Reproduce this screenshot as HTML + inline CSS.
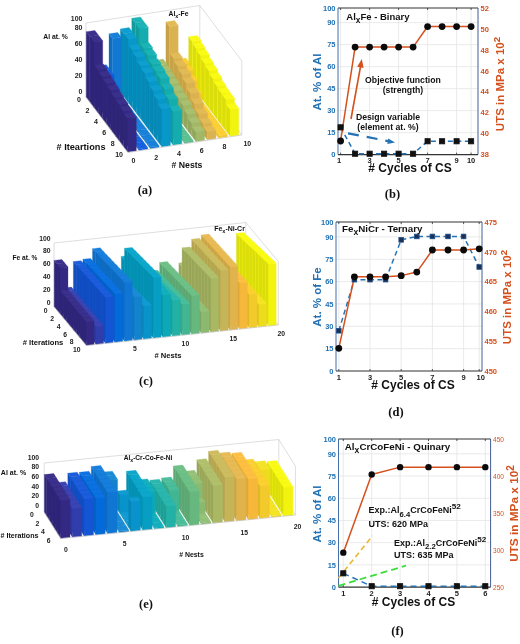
<!DOCTYPE html>
<html><head><meta charset="utf-8"><title>Figure</title>
<style>html,body{margin:0;padding:0;background:#fff}svg{display:block}</style></head>
<body>
<svg width="520" height="644" viewBox="0 0 520 644">
<rect width="520" height="644" fill="#ffffff"/>
<line x1="86" y1="97" x2="86" y2="23" stroke="#c8c8c8" stroke-width="0.6"/>
<line x1="86" y1="23" x2="199.8" y2="5.5" stroke="#c8c8c8" stroke-width="0.6"/>
<line x1="199.8" y1="5.5" x2="241.8" y2="61" stroke="#c8c8c8" stroke-width="0.6"/>
<line x1="199.8" y1="79.5" x2="199.8" y2="5.5" stroke="#c8c8c8" stroke-width="0.6"/>
<line x1="86" y1="97" x2="199.8" y2="79.5" stroke="#c8c8c8" stroke-width="0.6"/>
<line x1="199.8" y1="79.5" x2="241.8" y2="135" stroke="#c8c8c8" stroke-width="0.6"/>
<polygon points="188.67,81.58 192.28,86.36 192.28,41.56 188.67,36.78" fill="#dbdd0c" stroke="#dbdd0c" stroke-width="0.3"/>
<polygon points="192.28,86.36 200.93,85.03 200.93,40.23 192.28,41.56" fill="#f2f30e" stroke="#f2f30e" stroke-width="0.3"/>
<polygon points="188.67,36.78 197.32,35.45 200.93,40.23 192.28,41.56" fill="#f9fb15" stroke="#f9fb15" stroke-width="0.3"/>
<polygon points="192.87,87.13 196.48,91.91 196.48,48.71 192.87,43.93" fill="#dbdd0c" stroke="#dbdd0c" stroke-width="0.3"/>
<polygon points="196.48,91.91 205.13,90.58 205.13,47.38 196.48,48.71" fill="#f2f30e" stroke="#f2f30e" stroke-width="0.3"/>
<polygon points="192.87,43.93 201.52,42.6 205.13,47.38 196.48,48.71" fill="#f9fb15" stroke="#f9fb15" stroke-width="0.3"/>
<polygon points="197.07,92.68 200.68,97.46 200.68,55.86 197.07,51.08" fill="#dbdd0c" stroke="#dbdd0c" stroke-width="0.3"/>
<polygon points="200.68,97.46 209.33,96.13 209.33,54.53 200.68,55.86" fill="#f2f30e" stroke="#f2f30e" stroke-width="0.3"/>
<polygon points="197.07,51.08 205.72,49.75 209.33,54.53 200.68,55.86" fill="#f9fb15" stroke="#f9fb15" stroke-width="0.3"/>
<polygon points="201.27,98.23 204.88,103.01 204.88,63.81 201.27,59.03" fill="#dbdd0c" stroke="#dbdd0c" stroke-width="0.3"/>
<polygon points="204.88,103.01 213.53,101.68 213.53,62.48 204.88,63.81" fill="#f2f30e" stroke="#f2f30e" stroke-width="0.3"/>
<polygon points="201.27,59.03 209.92,57.7 213.53,62.48 204.88,63.81" fill="#f9fb15" stroke="#f9fb15" stroke-width="0.3"/>
<polygon points="205.47,103.78 209.08,108.56 209.08,70.96 205.47,66.18" fill="#dbdd0c" stroke="#dbdd0c" stroke-width="0.3"/>
<polygon points="209.08,108.56 217.73,107.23 217.73,69.63 209.08,70.96" fill="#f2f30e" stroke="#f2f30e" stroke-width="0.3"/>
<polygon points="205.47,66.18 214.12,64.85 217.73,69.63 209.08,70.96" fill="#f9fb15" stroke="#f9fb15" stroke-width="0.3"/>
<polygon points="209.67,109.33 213.28,114.11 213.28,78.91 209.67,74.13" fill="#dbdd0c" stroke="#dbdd0c" stroke-width="0.3"/>
<polygon points="213.28,114.11 221.93,112.78 221.93,77.58 213.28,78.91" fill="#f2f30e" stroke="#f2f30e" stroke-width="0.3"/>
<polygon points="209.67,74.13 218.32,72.8 221.93,77.58 213.28,78.91" fill="#f9fb15" stroke="#f9fb15" stroke-width="0.3"/>
<polygon points="213.87,114.88 217.48,119.66 217.48,86.86 213.87,82.08" fill="#dbdd0c" stroke="#dbdd0c" stroke-width="0.3"/>
<polygon points="217.48,119.66 226.13,118.33 226.13,85.53 217.48,86.86" fill="#f2f30e" stroke="#f2f30e" stroke-width="0.3"/>
<polygon points="213.87,82.08 222.52,80.75 226.13,85.53 217.48,86.86" fill="#f9fb15" stroke="#f9fb15" stroke-width="0.3"/>
<polygon points="218.07,120.43 221.68,125.21 221.68,93.61 218.07,88.83" fill="#dbdd0c" stroke="#dbdd0c" stroke-width="0.3"/>
<polygon points="221.68,125.21 230.33,123.88 230.33,92.28 221.68,93.61" fill="#f2f30e" stroke="#f2f30e" stroke-width="0.3"/>
<polygon points="218.07,88.83 226.72,87.5 230.33,92.28 221.68,93.61" fill="#f9fb15" stroke="#f9fb15" stroke-width="0.3"/>
<polygon points="222.27,125.98 225.88,130.76 225.88,99.56 222.27,94.78" fill="#dbdd0c" stroke="#dbdd0c" stroke-width="0.3"/>
<polygon points="225.88,130.76 234.53,129.43 234.53,98.23 225.88,99.56" fill="#f2f30e" stroke="#f2f30e" stroke-width="0.3"/>
<polygon points="222.27,94.78 230.92,93.45 234.53,98.23 225.88,99.56" fill="#f9fb15" stroke="#f9fb15" stroke-width="0.3"/>
<polygon points="226.47,131.53 230.08,136.31 230.08,109.51 226.47,104.73" fill="#dbdd0c" stroke="#dbdd0c" stroke-width="0.3"/>
<polygon points="230.08,136.31 238.73,134.98 238.73,108.18 230.08,109.51" fill="#f2f30e" stroke="#f2f30e" stroke-width="0.3"/>
<polygon points="226.47,104.73 235.12,103.4 238.73,108.18 230.08,109.51" fill="#f9fb15" stroke="#f9fb15" stroke-width="0.3"/>
<polygon points="177.29,83.33 180.9,88.11 180.9,64.11 177.29,59.33" fill="#deb528" stroke="#deb528" stroke-width="0.3"/>
<polygon points="180.9,88.11 189.55,86.78 189.55,62.78 180.9,64.11" fill="#f4c82d" stroke="#f4c82d" stroke-width="0.3"/>
<polygon points="177.29,59.33 185.94,58 189.55,62.78 180.9,64.11" fill="#fccf34" stroke="#fccf34" stroke-width="0.3"/>
<polygon points="181.49,88.88 185.1,93.66 185.1,71.26 181.49,66.48" fill="#deb528" stroke="#deb528" stroke-width="0.3"/>
<polygon points="185.1,93.66 193.75,92.33 193.75,69.93 185.1,71.26" fill="#f4c82d" stroke="#f4c82d" stroke-width="0.3"/>
<polygon points="181.49,66.48 190.14,65.15 193.75,69.93 185.1,71.26" fill="#fccf34" stroke="#fccf34" stroke-width="0.3"/>
<polygon points="185.69,94.43 189.3,99.21 189.3,81.61 185.69,76.83" fill="#deb528" stroke="#deb528" stroke-width="0.3"/>
<polygon points="189.3,99.21 197.95,97.88 197.95,80.28 189.3,81.61" fill="#f4c82d" stroke="#f4c82d" stroke-width="0.3"/>
<polygon points="185.69,76.83 194.34,75.5 197.95,80.28 189.3,81.61" fill="#fccf34" stroke="#fccf34" stroke-width="0.3"/>
<polygon points="189.89,99.98 193.5,104.76 193.5,95.16 189.89,90.38" fill="#deb528" stroke="#deb528" stroke-width="0.3"/>
<polygon points="193.5,104.76 202.15,103.43 202.15,93.83 193.5,95.16" fill="#f4c82d" stroke="#f4c82d" stroke-width="0.3"/>
<polygon points="189.89,90.38 198.54,89.05 202.15,93.83 193.5,95.16" fill="#fccf34" stroke="#fccf34" stroke-width="0.3"/>
<polygon points="194.09,105.53 197.7,110.31 197.7,107.91 194.09,103.13" fill="#deb528" stroke="#deb528" stroke-width="0.3"/>
<polygon points="197.7,110.31 206.35,108.98 206.35,106.58 197.7,107.91" fill="#f4c82d" stroke="#f4c82d" stroke-width="0.3"/>
<polygon points="194.09,103.13 202.74,101.8 206.35,106.58 197.7,107.91" fill="#fccf34" stroke="#fccf34" stroke-width="0.3"/>
<polygon points="198.29,111.08 201.9,115.86 201.9,113.46 198.29,108.68" fill="#deb528" stroke="#deb528" stroke-width="0.3"/>
<polygon points="201.9,115.86 210.55,114.53 210.55,112.13 201.9,113.46" fill="#f4c82d" stroke="#f4c82d" stroke-width="0.3"/>
<polygon points="198.29,108.68 206.94,107.35 210.55,112.13 201.9,113.46" fill="#fccf34" stroke="#fccf34" stroke-width="0.3"/>
<polygon points="202.49,116.63 206.1,121.41 206.1,119.01 202.49,114.23" fill="#deb528" stroke="#deb528" stroke-width="0.3"/>
<polygon points="206.1,121.41 214.75,120.08 214.75,117.68 206.1,119.01" fill="#f4c82d" stroke="#f4c82d" stroke-width="0.3"/>
<polygon points="202.49,114.23 211.14,112.9 214.75,117.68 206.1,119.01" fill="#fccf34" stroke="#fccf34" stroke-width="0.3"/>
<polygon points="206.69,122.18 210.3,126.96 210.3,124.56 206.69,119.78" fill="#deb528" stroke="#deb528" stroke-width="0.3"/>
<polygon points="210.3,126.96 218.95,125.63 218.95,123.23 210.3,124.56" fill="#f4c82d" stroke="#f4c82d" stroke-width="0.3"/>
<polygon points="206.69,119.78 215.34,118.45 218.95,123.23 210.3,124.56" fill="#fccf34" stroke="#fccf34" stroke-width="0.3"/>
<polygon points="210.89,127.73 214.5,132.51 214.5,130.11 210.89,125.33" fill="#deb528" stroke="#deb528" stroke-width="0.3"/>
<polygon points="214.5,132.51 223.15,131.18 223.15,128.78 214.5,130.11" fill="#f4c82d" stroke="#f4c82d" stroke-width="0.3"/>
<polygon points="210.89,125.33 219.54,124 223.15,128.78 214.5,130.11" fill="#fccf34" stroke="#fccf34" stroke-width="0.3"/>
<polygon points="215.09,133.28 218.7,138.06 218.7,135.66 215.09,130.88" fill="#deb528" stroke="#deb528" stroke-width="0.3"/>
<polygon points="218.7,138.06 227.35,136.73 227.35,134.33 218.7,135.66" fill="#f4c82d" stroke="#f4c82d" stroke-width="0.3"/>
<polygon points="215.09,130.88 223.74,129.55 227.35,134.33 218.7,135.66" fill="#fccf34" stroke="#fccf34" stroke-width="0.3"/>
<polygon points="165.91,85.08 169.52,89.86 169.52,26.66 165.91,21.88" fill="#c6a348" stroke="#c6a348" stroke-width="0.3"/>
<polygon points="169.52,89.86 178.17,88.53 178.17,25.33 169.52,26.66" fill="#dab350" stroke="#dab350" stroke-width="0.3"/>
<polygon points="165.91,21.88 174.56,20.55 178.17,25.33 169.52,26.66" fill="#e2bb57" stroke="#e2bb57" stroke-width="0.3"/>
<polygon points="170.11,90.63 173.72,95.41 173.72,58.61 170.11,53.83" fill="#c6a348" stroke="#c6a348" stroke-width="0.3"/>
<polygon points="173.72,95.41 182.37,94.08 182.37,57.28 173.72,58.61" fill="#dab350" stroke="#dab350" stroke-width="0.3"/>
<polygon points="170.11,53.83 178.76,52.5 182.37,57.28 173.72,58.61" fill="#e2bb57" stroke="#e2bb57" stroke-width="0.3"/>
<polygon points="174.31,96.18 177.92,100.96 177.92,66.56 174.31,61.78" fill="#c6a348" stroke="#c6a348" stroke-width="0.3"/>
<polygon points="177.92,100.96 186.57,99.63 186.57,65.23 177.92,66.56" fill="#dab350" stroke="#dab350" stroke-width="0.3"/>
<polygon points="174.31,61.78 182.96,60.45 186.57,65.23 177.92,66.56" fill="#e2bb57" stroke="#e2bb57" stroke-width="0.3"/>
<polygon points="178.51,101.73 182.12,106.51 182.12,74.51 178.51,69.73" fill="#c6a348" stroke="#c6a348" stroke-width="0.3"/>
<polygon points="182.12,106.51 190.77,105.18 190.77,73.18 182.12,74.51" fill="#dab350" stroke="#dab350" stroke-width="0.3"/>
<polygon points="178.51,69.73 187.16,68.4 190.77,73.18 182.12,74.51" fill="#e2bb57" stroke="#e2bb57" stroke-width="0.3"/>
<polygon points="182.71,107.28 186.32,112.06 186.32,83.26 182.71,78.48" fill="#c6a348" stroke="#c6a348" stroke-width="0.3"/>
<polygon points="186.32,112.06 194.97,110.73 194.97,81.93 186.32,83.26" fill="#dab350" stroke="#dab350" stroke-width="0.3"/>
<polygon points="182.71,78.48 191.36,77.15 194.97,81.93 186.32,83.26" fill="#e2bb57" stroke="#e2bb57" stroke-width="0.3"/>
<polygon points="186.91,112.83 190.52,117.61 190.52,93.61 186.91,88.83" fill="#c6a348" stroke="#c6a348" stroke-width="0.3"/>
<polygon points="190.52,117.61 199.17,116.28 199.17,92.28 190.52,93.61" fill="#dab350" stroke="#dab350" stroke-width="0.3"/>
<polygon points="186.91,88.83 195.56,87.5 199.17,92.28 190.52,93.61" fill="#e2bb57" stroke="#e2bb57" stroke-width="0.3"/>
<polygon points="191.11,118.38 194.72,123.16 194.72,103.96 191.11,99.18" fill="#c6a348" stroke="#c6a348" stroke-width="0.3"/>
<polygon points="194.72,123.16 203.37,121.83 203.37,102.63 194.72,103.96" fill="#dab350" stroke="#dab350" stroke-width="0.3"/>
<polygon points="191.11,99.18 199.76,97.85 203.37,102.63 194.72,103.96" fill="#e2bb57" stroke="#e2bb57" stroke-width="0.3"/>
<polygon points="195.31,123.93 198.92,128.71 198.92,114.31 195.31,109.53" fill="#c6a348" stroke="#c6a348" stroke-width="0.3"/>
<polygon points="198.92,128.71 207.57,127.38 207.57,112.98 198.92,114.31" fill="#dab350" stroke="#dab350" stroke-width="0.3"/>
<polygon points="195.31,109.53 203.96,108.2 207.57,112.98 198.92,114.31" fill="#e2bb57" stroke="#e2bb57" stroke-width="0.3"/>
<polygon points="199.51,129.48 203.12,134.26 203.12,123.86 199.51,119.08" fill="#c6a348" stroke="#c6a348" stroke-width="0.3"/>
<polygon points="203.12,134.26 211.77,132.93 211.77,122.53 203.12,123.86" fill="#dab350" stroke="#dab350" stroke-width="0.3"/>
<polygon points="199.51,119.08 208.16,117.75 211.77,122.53 203.12,123.86" fill="#e2bb57" stroke="#e2bb57" stroke-width="0.3"/>
<polygon points="203.71,135.03 207.32,139.81 207.32,131.81 203.71,127.03" fill="#c6a348" stroke="#c6a348" stroke-width="0.3"/>
<polygon points="207.32,139.81 215.97,138.48 215.97,130.48 207.32,131.81" fill="#dab350" stroke="#dab350" stroke-width="0.3"/>
<polygon points="203.71,127.03 212.36,125.7 215.97,130.48 207.32,131.81" fill="#e2bb57" stroke="#e2bb57" stroke-width="0.3"/>
<polygon points="154.53,86.83 158.14,91.61 158.14,65.21 154.53,60.43" fill="#91a75e" stroke="#91a75e" stroke-width="0.3"/>
<polygon points="158.14,91.61 166.79,90.28 166.79,63.88 158.14,65.21" fill="#a0b868" stroke="#a0b868" stroke-width="0.3"/>
<polygon points="154.53,60.43 163.18,59.1 166.79,63.88 158.14,65.21" fill="#a8c06f" stroke="#a8c06f" stroke-width="0.3"/>
<polygon points="158.73,92.38 162.34,97.16 162.34,71.56 158.73,66.78" fill="#91a75e" stroke="#91a75e" stroke-width="0.3"/>
<polygon points="162.34,97.16 170.99,95.83 170.99,70.23 162.34,71.56" fill="#a0b868" stroke="#a0b868" stroke-width="0.3"/>
<polygon points="158.73,66.78 167.38,65.45 170.99,70.23 162.34,71.56" fill="#a8c06f" stroke="#a8c06f" stroke-width="0.3"/>
<polygon points="162.93,97.93 166.54,102.71 166.54,77.91 162.93,73.13" fill="#91a75e" stroke="#91a75e" stroke-width="0.3"/>
<polygon points="166.54,102.71 175.19,101.38 175.19,76.58 166.54,77.91" fill="#a0b868" stroke="#a0b868" stroke-width="0.3"/>
<polygon points="162.93,73.13 171.58,71.8 175.19,76.58 166.54,77.91" fill="#a8c06f" stroke="#a8c06f" stroke-width="0.3"/>
<polygon points="167.13,103.48 170.74,108.26 170.74,84.26 167.13,79.48" fill="#91a75e" stroke="#91a75e" stroke-width="0.3"/>
<polygon points="170.74,108.26 179.39,106.93 179.39,82.93 170.74,84.26" fill="#a0b868" stroke="#a0b868" stroke-width="0.3"/>
<polygon points="167.13,79.48 175.78,78.15 179.39,82.93 170.74,84.26" fill="#a8c06f" stroke="#a8c06f" stroke-width="0.3"/>
<polygon points="171.33,109.03 174.94,113.81 174.94,91.41 171.33,86.63" fill="#91a75e" stroke="#91a75e" stroke-width="0.3"/>
<polygon points="174.94,113.81 183.59,112.48 183.59,90.08 174.94,91.41" fill="#a0b868" stroke="#a0b868" stroke-width="0.3"/>
<polygon points="171.33,86.63 179.98,85.3 183.59,90.08 174.94,91.41" fill="#a8c06f" stroke="#a8c06f" stroke-width="0.3"/>
<polygon points="175.53,114.58 179.14,119.36 179.14,98.56 175.53,93.78" fill="#91a75e" stroke="#91a75e" stroke-width="0.3"/>
<polygon points="179.14,119.36 187.79,118.03 187.79,97.23 179.14,98.56" fill="#a0b868" stroke="#a0b868" stroke-width="0.3"/>
<polygon points="175.53,93.78 184.18,92.45 187.79,97.23 179.14,98.56" fill="#a8c06f" stroke="#a8c06f" stroke-width="0.3"/>
<polygon points="179.73,120.13 183.34,124.91 183.34,105.71 179.73,100.93" fill="#91a75e" stroke="#91a75e" stroke-width="0.3"/>
<polygon points="183.34,124.91 191.99,123.58 191.99,104.38 183.34,105.71" fill="#a0b868" stroke="#a0b868" stroke-width="0.3"/>
<polygon points="179.73,100.93 188.38,99.6 191.99,104.38 183.34,105.71" fill="#a8c06f" stroke="#a8c06f" stroke-width="0.3"/>
<polygon points="183.93,125.68 187.54,130.46 187.54,114.46 183.93,109.68" fill="#91a75e" stroke="#91a75e" stroke-width="0.3"/>
<polygon points="187.54,130.46 196.19,129.13 196.19,113.13 187.54,114.46" fill="#a0b868" stroke="#a0b868" stroke-width="0.3"/>
<polygon points="183.93,109.68 192.58,108.35 196.19,113.13 187.54,114.46" fill="#a8c06f" stroke="#a8c06f" stroke-width="0.3"/>
<polygon points="188.13,131.23 191.74,136.01 191.74,123.21 188.13,118.43" fill="#91a75e" stroke="#91a75e" stroke-width="0.3"/>
<polygon points="191.74,136.01 200.39,134.68 200.39,121.88 191.74,123.21" fill="#a0b868" stroke="#a0b868" stroke-width="0.3"/>
<polygon points="188.13,118.43 196.78,117.1 200.39,121.88 191.74,123.21" fill="#a8c06f" stroke="#a8c06f" stroke-width="0.3"/>
<polygon points="192.33,136.78 195.94,141.56 195.94,131.96 192.33,127.18" fill="#91a75e" stroke="#91a75e" stroke-width="0.3"/>
<polygon points="195.94,141.56 204.59,140.23 204.59,130.63 195.94,131.96" fill="#a0b868" stroke="#a0b868" stroke-width="0.3"/>
<polygon points="192.33,127.18 200.98,125.85 204.59,130.63 195.94,131.96" fill="#a8c06f" stroke="#a8c06f" stroke-width="0.3"/>
<polygon points="143.15,88.58 146.76,93.36 146.76,69.36 143.15,64.58" fill="#4ea67b" stroke="#4ea67b" stroke-width="0.3"/>
<polygon points="146.76,93.36 155.41,92.03 155.41,68.03 146.76,69.36" fill="#56b788" stroke="#56b788" stroke-width="0.3"/>
<polygon points="143.15,64.58 151.8,63.25 155.41,68.03 146.76,69.36" fill="#5ebf8f" stroke="#5ebf8f" stroke-width="0.3"/>
<polygon points="147.35,94.13 150.96,98.91 150.96,74.91 147.35,70.13" fill="#4ea67b" stroke="#4ea67b" stroke-width="0.3"/>
<polygon points="150.96,98.91 159.61,97.58 159.61,73.58 150.96,74.91" fill="#56b788" stroke="#56b788" stroke-width="0.3"/>
<polygon points="147.35,70.13 156,68.8 159.61,73.58 150.96,74.91" fill="#5ebf8f" stroke="#5ebf8f" stroke-width="0.3"/>
<polygon points="151.55,99.68 155.16,104.46 155.16,80.46 151.55,75.68" fill="#4ea67b" stroke="#4ea67b" stroke-width="0.3"/>
<polygon points="155.16,104.46 163.81,103.13 163.81,79.13 155.16,80.46" fill="#56b788" stroke="#56b788" stroke-width="0.3"/>
<polygon points="151.55,75.68 160.2,74.35 163.81,79.13 155.16,80.46" fill="#5ebf8f" stroke="#5ebf8f" stroke-width="0.3"/>
<polygon points="155.75,105.23 159.36,110.01 159.36,86.01 155.75,81.23" fill="#4ea67b" stroke="#4ea67b" stroke-width="0.3"/>
<polygon points="159.36,110.01 168.01,108.68 168.01,84.68 159.36,86.01" fill="#56b788" stroke="#56b788" stroke-width="0.3"/>
<polygon points="155.75,81.23 164.4,79.9 168.01,84.68 159.36,86.01" fill="#5ebf8f" stroke="#5ebf8f" stroke-width="0.3"/>
<polygon points="159.95,110.78 163.56,115.56 163.56,95.56 159.95,90.78" fill="#4ea67b" stroke="#4ea67b" stroke-width="0.3"/>
<polygon points="163.56,115.56 172.21,114.23 172.21,94.23 163.56,95.56" fill="#56b788" stroke="#56b788" stroke-width="0.3"/>
<polygon points="159.95,90.78 168.6,89.45 172.21,94.23 163.56,95.56" fill="#5ebf8f" stroke="#5ebf8f" stroke-width="0.3"/>
<polygon points="164.15,116.33 167.76,121.11 167.76,105.11 164.15,100.33" fill="#4ea67b" stroke="#4ea67b" stroke-width="0.3"/>
<polygon points="167.76,121.11 176.41,119.78 176.41,103.78 167.76,105.11" fill="#56b788" stroke="#56b788" stroke-width="0.3"/>
<polygon points="164.15,100.33 172.8,99 176.41,103.78 167.76,105.11" fill="#5ebf8f" stroke="#5ebf8f" stroke-width="0.3"/>
<polygon points="168.35,121.88 171.96,126.66 171.96,118.66 168.35,113.88" fill="#4ea67b" stroke="#4ea67b" stroke-width="0.3"/>
<polygon points="171.96,126.66 180.61,125.33 180.61,117.33 171.96,118.66" fill="#56b788" stroke="#56b788" stroke-width="0.3"/>
<polygon points="168.35,113.88 177,112.55 180.61,117.33 171.96,118.66" fill="#5ebf8f" stroke="#5ebf8f" stroke-width="0.3"/>
<polygon points="172.55,127.43 176.16,132.21 176.16,130.61 172.55,125.83" fill="#4ea67b" stroke="#4ea67b" stroke-width="0.3"/>
<polygon points="176.16,132.21 184.81,130.88 184.81,129.28 176.16,130.61" fill="#56b788" stroke="#56b788" stroke-width="0.3"/>
<polygon points="172.55,125.83 181.2,124.5 184.81,129.28 176.16,130.61" fill="#5ebf8f" stroke="#5ebf8f" stroke-width="0.3"/>
<polygon points="176.75,132.98 180.36,137.76 180.36,136.16 176.75,131.38" fill="#4ea67b" stroke="#4ea67b" stroke-width="0.3"/>
<polygon points="180.36,137.76 189.01,136.43 189.01,134.83 180.36,136.16" fill="#56b788" stroke="#56b788" stroke-width="0.3"/>
<polygon points="176.75,131.38 185.4,130.05 189.01,134.83 180.36,136.16" fill="#5ebf8f" stroke="#5ebf8f" stroke-width="0.3"/>
<polygon points="180.95,138.53 184.56,143.31 184.56,141.71 180.95,136.93" fill="#4ea67b" stroke="#4ea67b" stroke-width="0.3"/>
<polygon points="184.56,143.31 193.21,141.98 193.21,140.38 184.56,141.71" fill="#56b788" stroke="#56b788" stroke-width="0.3"/>
<polygon points="180.95,136.93 189.6,135.6 193.21,140.38 184.56,141.71" fill="#5ebf8f" stroke="#5ebf8f" stroke-width="0.3"/>
<polygon points="131.77,90.33 135.38,95.11 135.38,23.11 131.77,18.33" fill="#129c9e" stroke="#129c9e" stroke-width="0.3"/>
<polygon points="135.38,95.11 144.03,93.78 144.03,21.78 135.38,23.11" fill="#14acaf" stroke="#14acaf" stroke-width="0.3"/>
<polygon points="131.77,18.33 140.42,17 144.03,21.78 135.38,23.11" fill="#1cb3b6" stroke="#1cb3b6" stroke-width="0.3"/>
<polygon points="135.97,95.88 139.58,100.66 139.58,28.66 135.97,23.88" fill="#129c9e" stroke="#129c9e" stroke-width="0.3"/>
<polygon points="139.58,100.66 148.23,99.33 148.23,27.33 139.58,28.66" fill="#14acaf" stroke="#14acaf" stroke-width="0.3"/>
<polygon points="135.97,23.88 144.62,22.55 148.23,27.33 139.58,28.66" fill="#1cb3b6" stroke="#1cb3b6" stroke-width="0.3"/>
<polygon points="140.17,101.43 143.78,106.21 143.78,48.61 140.17,43.83" fill="#129c9e" stroke="#129c9e" stroke-width="0.3"/>
<polygon points="143.78,106.21 152.43,104.88 152.43,47.28 143.78,48.61" fill="#14acaf" stroke="#14acaf" stroke-width="0.3"/>
<polygon points="140.17,43.83 148.82,42.5 152.43,47.28 143.78,48.61" fill="#1cb3b6" stroke="#1cb3b6" stroke-width="0.3"/>
<polygon points="144.37,106.98 147.98,111.76 147.98,55.76 144.37,50.98" fill="#129c9e" stroke="#129c9e" stroke-width="0.3"/>
<polygon points="147.98,111.76 156.63,110.43 156.63,54.43 147.98,55.76" fill="#14acaf" stroke="#14acaf" stroke-width="0.3"/>
<polygon points="144.37,50.98 153.02,49.65 156.63,54.43 147.98,55.76" fill="#1cb3b6" stroke="#1cb3b6" stroke-width="0.3"/>
<polygon points="148.57,112.53 152.18,117.31 152.18,64.51 148.57,59.73" fill="#129c9e" stroke="#129c9e" stroke-width="0.3"/>
<polygon points="152.18,117.31 160.83,115.98 160.83,63.18 152.18,64.51" fill="#14acaf" stroke="#14acaf" stroke-width="0.3"/>
<polygon points="148.57,59.73 157.22,58.4 160.83,63.18 152.18,64.51" fill="#1cb3b6" stroke="#1cb3b6" stroke-width="0.3"/>
<polygon points="152.77,118.08 156.38,122.86 156.38,71.66 152.77,66.88" fill="#129c9e" stroke="#129c9e" stroke-width="0.3"/>
<polygon points="156.38,122.86 165.03,121.53 165.03,70.33 156.38,71.66" fill="#14acaf" stroke="#14acaf" stroke-width="0.3"/>
<polygon points="152.77,66.88 161.42,65.55 165.03,70.33 156.38,71.66" fill="#1cb3b6" stroke="#1cb3b6" stroke-width="0.3"/>
<polygon points="156.97,123.63 160.58,128.41 160.58,78.81 156.97,74.03" fill="#129c9e" stroke="#129c9e" stroke-width="0.3"/>
<polygon points="160.58,128.41 169.23,127.08 169.23,77.48 160.58,78.81" fill="#14acaf" stroke="#14acaf" stroke-width="0.3"/>
<polygon points="156.97,74.03 165.62,72.7 169.23,77.48 160.58,78.81" fill="#1cb3b6" stroke="#1cb3b6" stroke-width="0.3"/>
<polygon points="161.17,129.18 164.78,133.96 164.78,89.16 161.17,84.38" fill="#129c9e" stroke="#129c9e" stroke-width="0.3"/>
<polygon points="164.78,133.96 173.43,132.63 173.43,87.83 164.78,89.16" fill="#14acaf" stroke="#14acaf" stroke-width="0.3"/>
<polygon points="161.17,84.38 169.82,83.05 173.43,87.83 164.78,89.16" fill="#1cb3b6" stroke="#1cb3b6" stroke-width="0.3"/>
<polygon points="165.37,134.73 168.98,139.51 168.98,99.51 165.37,94.73" fill="#129c9e" stroke="#129c9e" stroke-width="0.3"/>
<polygon points="168.98,139.51 177.63,138.18 177.63,98.18 168.98,99.51" fill="#14acaf" stroke="#14acaf" stroke-width="0.3"/>
<polygon points="165.37,94.73 174.02,93.4 177.63,98.18 168.98,99.51" fill="#1cb3b6" stroke="#1cb3b6" stroke-width="0.3"/>
<polygon points="169.57,140.28 173.18,145.06 173.18,111.46 169.57,106.68" fill="#129c9e" stroke="#129c9e" stroke-width="0.3"/>
<polygon points="173.18,145.06 181.83,143.73 181.83,110.13 173.18,111.46" fill="#14acaf" stroke="#14acaf" stroke-width="0.3"/>
<polygon points="169.57,106.68 178.22,105.35 181.83,110.13 173.18,111.46" fill="#1cb3b6" stroke="#1cb3b6" stroke-width="0.3"/>
<polygon points="120.39,92.08 124,96.86 124,33.66 120.39,28.88" fill="#0689b6" stroke="#0689b6" stroke-width="0.3"/>
<polygon points="124,96.86 132.65,95.53 132.65,32.33 124,33.66" fill="#0797c9" stroke="#0797c9" stroke-width="0.3"/>
<polygon points="120.39,28.88 129.04,27.55 132.65,32.33 124,33.66" fill="#0e9fd0" stroke="#0e9fd0" stroke-width="0.3"/>
<polygon points="124.59,97.63 128.2,102.41 128.2,39.21 124.59,34.43" fill="#0689b6" stroke="#0689b6" stroke-width="0.3"/>
<polygon points="128.2,102.41 136.85,101.08 136.85,37.88 128.2,39.21" fill="#0797c9" stroke="#0797c9" stroke-width="0.3"/>
<polygon points="124.59,34.43 133.24,33.1 136.85,37.88 128.2,39.21" fill="#0e9fd0" stroke="#0e9fd0" stroke-width="0.3"/>
<polygon points="128.79,103.18 132.4,107.96 132.4,50.36 128.79,45.58" fill="#0689b6" stroke="#0689b6" stroke-width="0.3"/>
<polygon points="132.4,107.96 141.05,106.63 141.05,49.03 132.4,50.36" fill="#0797c9" stroke="#0797c9" stroke-width="0.3"/>
<polygon points="128.79,45.58 137.44,44.25 141.05,49.03 132.4,50.36" fill="#0e9fd0" stroke="#0e9fd0" stroke-width="0.3"/>
<polygon points="132.99,108.73 136.6,113.51 136.6,57.51 132.99,52.73" fill="#0689b6" stroke="#0689b6" stroke-width="0.3"/>
<polygon points="136.6,113.51 145.25,112.18 145.25,56.18 136.6,57.51" fill="#0797c9" stroke="#0797c9" stroke-width="0.3"/>
<polygon points="132.99,52.73 141.64,51.4 145.25,56.18 136.6,57.51" fill="#0e9fd0" stroke="#0e9fd0" stroke-width="0.3"/>
<polygon points="137.19,114.28 140.8,119.06 140.8,66.26 137.19,61.48" fill="#0689b6" stroke="#0689b6" stroke-width="0.3"/>
<polygon points="140.8,119.06 149.45,117.73 149.45,64.93 140.8,66.26" fill="#0797c9" stroke="#0797c9" stroke-width="0.3"/>
<polygon points="137.19,61.48 145.84,60.15 149.45,64.93 140.8,66.26" fill="#0e9fd0" stroke="#0e9fd0" stroke-width="0.3"/>
<polygon points="141.39,119.83 145,124.61 145,73.41 141.39,68.63" fill="#0689b6" stroke="#0689b6" stroke-width="0.3"/>
<polygon points="145,124.61 153.65,123.28 153.65,72.08 145,73.41" fill="#0797c9" stroke="#0797c9" stroke-width="0.3"/>
<polygon points="141.39,68.63 150.04,67.3 153.65,72.08 145,73.41" fill="#0e9fd0" stroke="#0e9fd0" stroke-width="0.3"/>
<polygon points="145.59,125.38 149.2,130.16 149.2,82.16 145.59,77.38" fill="#0689b6" stroke="#0689b6" stroke-width="0.3"/>
<polygon points="149.2,130.16 157.85,128.83 157.85,80.83 149.2,82.16" fill="#0797c9" stroke="#0797c9" stroke-width="0.3"/>
<polygon points="145.59,77.38 154.24,76.05 157.85,80.83 149.2,82.16" fill="#0e9fd0" stroke="#0e9fd0" stroke-width="0.3"/>
<polygon points="149.79,130.93 153.4,135.71 153.4,90.91 149.79,86.13" fill="#0689b6" stroke="#0689b6" stroke-width="0.3"/>
<polygon points="153.4,135.71 162.05,134.38 162.05,89.58 153.4,90.91" fill="#0797c9" stroke="#0797c9" stroke-width="0.3"/>
<polygon points="149.79,86.13 158.44,84.8 162.05,89.58 153.4,90.91" fill="#0e9fd0" stroke="#0e9fd0" stroke-width="0.3"/>
<polygon points="153.99,136.48 157.6,141.26 157.6,99.66 153.99,94.88" fill="#0689b6" stroke="#0689b6" stroke-width="0.3"/>
<polygon points="157.6,141.26 166.25,139.93 166.25,98.33 157.6,99.66" fill="#0797c9" stroke="#0797c9" stroke-width="0.3"/>
<polygon points="153.99,94.88 162.64,93.55 166.25,98.33 157.6,99.66" fill="#0e9fd0" stroke="#0e9fd0" stroke-width="0.3"/>
<polygon points="158.19,142.03 161.8,146.81 161.8,109.21 158.19,104.43" fill="#0689b6" stroke="#0689b6" stroke-width="0.3"/>
<polygon points="161.8,146.81 170.45,145.48 170.45,107.88 161.8,109.21" fill="#0797c9" stroke="#0797c9" stroke-width="0.3"/>
<polygon points="158.19,104.43 166.84,103.1 170.45,107.88 161.8,109.21" fill="#0e9fd0" stroke="#0e9fd0" stroke-width="0.3"/>
<polygon points="109.01,93.83 112.62,98.61 112.62,38.61 109.01,33.83" fill="#106ebe" stroke="#106ebe" stroke-width="0.3"/>
<polygon points="112.62,98.61 121.27,97.28 121.27,37.28 112.62,38.61" fill="#1179d2" stroke="#1179d2" stroke-width="0.3"/>
<polygon points="109.01,33.83 117.66,32.5 121.27,37.28 112.62,38.61" fill="#1981d9" stroke="#1981d9" stroke-width="0.3"/>
<polygon points="113.21,99.38 116.82,104.16 116.82,101.76 113.21,96.98" fill="#106ebe" stroke="#106ebe" stroke-width="0.3"/>
<polygon points="116.82,104.16 125.47,102.83 125.47,100.43 116.82,101.76" fill="#1179d2" stroke="#1179d2" stroke-width="0.3"/>
<polygon points="113.21,96.98 121.86,95.65 125.47,100.43 116.82,101.76" fill="#1981d9" stroke="#1981d9" stroke-width="0.3"/>
<polygon points="117.41,104.93 121.02,109.71 121.02,108.11 117.41,103.33" fill="#106ebe" stroke="#106ebe" stroke-width="0.3"/>
<polygon points="121.02,109.71 129.67,108.38 129.67,106.78 121.02,108.11" fill="#1179d2" stroke="#1179d2" stroke-width="0.3"/>
<polygon points="117.41,103.33 126.06,102 129.67,106.78 121.02,108.11" fill="#1981d9" stroke="#1981d9" stroke-width="0.3"/>
<polygon points="121.61,110.48 125.22,115.26 125.22,113.66 121.61,108.88" fill="#106ebe" stroke="#106ebe" stroke-width="0.3"/>
<polygon points="125.22,115.26 133.87,113.93 133.87,112.33 125.22,113.66" fill="#1179d2" stroke="#1179d2" stroke-width="0.3"/>
<polygon points="121.61,108.88 130.26,107.55 133.87,112.33 125.22,113.66" fill="#1981d9" stroke="#1981d9" stroke-width="0.3"/>
<polygon points="125.81,116.03 129.42,120.81 129.42,119.21 125.81,114.43" fill="#106ebe" stroke="#106ebe" stroke-width="0.3"/>
<polygon points="129.42,120.81 138.07,119.48 138.07,117.88 129.42,119.21" fill="#1179d2" stroke="#1179d2" stroke-width="0.3"/>
<polygon points="125.81,114.43 134.46,113.1 138.07,117.88 129.42,119.21" fill="#1981d9" stroke="#1981d9" stroke-width="0.3"/>
<polygon points="130.01,121.58 133.62,126.36 133.62,124.76 130.01,119.98" fill="#106ebe" stroke="#106ebe" stroke-width="0.3"/>
<polygon points="133.62,126.36 142.27,125.03 142.27,123.43 133.62,124.76" fill="#1179d2" stroke="#1179d2" stroke-width="0.3"/>
<polygon points="130.01,119.98 138.66,118.65 142.27,123.43 133.62,124.76" fill="#1981d9" stroke="#1981d9" stroke-width="0.3"/>
<polygon points="134.21,127.13 137.82,131.91 137.82,130.31 134.21,125.53" fill="#106ebe" stroke="#106ebe" stroke-width="0.3"/>
<polygon points="137.82,131.91 146.47,130.58 146.47,128.98 137.82,130.31" fill="#1179d2" stroke="#1179d2" stroke-width="0.3"/>
<polygon points="134.21,125.53 142.86,124.2 146.47,128.98 137.82,130.31" fill="#1981d9" stroke="#1981d9" stroke-width="0.3"/>
<polygon points="138.41,132.68 142.02,137.46 142.02,135.86 138.41,131.08" fill="#106ebe" stroke="#106ebe" stroke-width="0.3"/>
<polygon points="142.02,137.46 150.67,136.13 150.67,134.53 142.02,135.86" fill="#1179d2" stroke="#1179d2" stroke-width="0.3"/>
<polygon points="138.41,131.08 147.06,129.75 150.67,134.53 142.02,135.86" fill="#1981d9" stroke="#1981d9" stroke-width="0.3"/>
<polygon points="142.61,138.23 146.22,143.01 146.22,141.41 142.61,136.63" fill="#106ebe" stroke="#106ebe" stroke-width="0.3"/>
<polygon points="146.22,143.01 154.87,141.68 154.87,140.08 146.22,141.41" fill="#1179d2" stroke="#1179d2" stroke-width="0.3"/>
<polygon points="142.61,136.63 151.26,135.3 154.87,140.08 146.22,141.41" fill="#1981d9" stroke="#1981d9" stroke-width="0.3"/>
<polygon points="146.81,143.78 150.42,148.56 150.42,146.96 146.81,142.18" fill="#106ebe" stroke="#106ebe" stroke-width="0.3"/>
<polygon points="150.42,148.56 159.07,147.23 159.07,145.63 150.42,146.96" fill="#1179d2" stroke="#1179d2" stroke-width="0.3"/>
<polygon points="146.81,142.18 155.46,140.85 159.07,145.63 150.42,146.96" fill="#1981d9" stroke="#1981d9" stroke-width="0.3"/>
<polygon points="97.63,95.58 101.24,100.36 101.24,70.76 97.63,65.98" fill="#0d51c2" stroke="#0d51c2" stroke-width="0.3"/>
<polygon points="101.24,100.36 109.89,99.03 109.89,69.43 101.24,70.76" fill="#0f59d6" stroke="#0f59d6" stroke-width="0.3"/>
<polygon points="97.63,65.98 106.28,64.65 109.89,69.43 101.24,70.76" fill="#1661de" stroke="#1661de" stroke-width="0.3"/>
<polygon points="101.83,101.13 105.44,105.91 105.44,76.31 101.83,71.53" fill="#0d51c2" stroke="#0d51c2" stroke-width="0.3"/>
<polygon points="105.44,105.91 114.09,104.58 114.09,74.98 105.44,76.31" fill="#0f59d6" stroke="#0f59d6" stroke-width="0.3"/>
<polygon points="101.83,71.53 110.48,70.2 114.09,74.98 105.44,76.31" fill="#1661de" stroke="#1661de" stroke-width="0.3"/>
<polygon points="106.03,106.68 109.64,111.46 109.64,87.46 106.03,82.68" fill="#0d51c2" stroke="#0d51c2" stroke-width="0.3"/>
<polygon points="109.64,111.46 118.29,110.13 118.29,86.13 109.64,87.46" fill="#0f59d6" stroke="#0f59d6" stroke-width="0.3"/>
<polygon points="106.03,82.68 114.68,81.35 118.29,86.13 109.64,87.46" fill="#1661de" stroke="#1661de" stroke-width="0.3"/>
<polygon points="110.23,112.23 113.84,117.01 113.84,97.01 110.23,92.23" fill="#0d51c2" stroke="#0d51c2" stroke-width="0.3"/>
<polygon points="113.84,117.01 122.49,115.68 122.49,95.68 113.84,97.01" fill="#0f59d6" stroke="#0f59d6" stroke-width="0.3"/>
<polygon points="110.23,92.23 118.88,90.9 122.49,95.68 113.84,97.01" fill="#1661de" stroke="#1661de" stroke-width="0.3"/>
<polygon points="114.43,117.78 118.04,122.56 118.04,106.56 114.43,101.78" fill="#0d51c2" stroke="#0d51c2" stroke-width="0.3"/>
<polygon points="118.04,122.56 126.69,121.23 126.69,105.23 118.04,106.56" fill="#0f59d6" stroke="#0f59d6" stroke-width="0.3"/>
<polygon points="114.43,101.78 123.08,100.45 126.69,105.23 118.04,106.56" fill="#1661de" stroke="#1661de" stroke-width="0.3"/>
<polygon points="118.63,123.33 122.24,128.11 122.24,120.11 118.63,115.33" fill="#0d51c2" stroke="#0d51c2" stroke-width="0.3"/>
<polygon points="122.24,128.11 130.89,126.78 130.89,118.78 122.24,120.11" fill="#0f59d6" stroke="#0f59d6" stroke-width="0.3"/>
<polygon points="118.63,115.33 127.28,114 130.89,118.78 122.24,120.11" fill="#1661de" stroke="#1661de" stroke-width="0.3"/>
<polygon points="122.83,128.88 126.44,133.66 126.44,131.26 122.83,126.48" fill="#0d51c2" stroke="#0d51c2" stroke-width="0.3"/>
<polygon points="126.44,133.66 135.09,132.33 135.09,129.93 126.44,131.26" fill="#0f59d6" stroke="#0f59d6" stroke-width="0.3"/>
<polygon points="122.83,126.48 131.48,125.15 135.09,129.93 126.44,131.26" fill="#1661de" stroke="#1661de" stroke-width="0.3"/>
<polygon points="127.03,134.43 130.64,139.21 130.64,137.61 127.03,132.83" fill="#0d51c2" stroke="#0d51c2" stroke-width="0.3"/>
<polygon points="130.64,139.21 139.29,137.88 139.29,136.28 130.64,137.61" fill="#0f59d6" stroke="#0f59d6" stroke-width="0.3"/>
<polygon points="127.03,132.83 135.68,131.5 139.29,136.28 130.64,137.61" fill="#1661de" stroke="#1661de" stroke-width="0.3"/>
<polygon points="131.23,139.98 134.84,144.76 134.84,143.16 131.23,138.38" fill="#0d51c2" stroke="#0d51c2" stroke-width="0.3"/>
<polygon points="134.84,144.76 143.49,143.43 143.49,141.83 134.84,143.16" fill="#0f59d6" stroke="#0f59d6" stroke-width="0.3"/>
<polygon points="131.23,138.38 139.88,137.05 143.49,141.83 134.84,143.16" fill="#1661de" stroke="#1661de" stroke-width="0.3"/>
<polygon points="135.43,145.53 139.04,150.31 139.04,148.71 135.43,143.93" fill="#0d51c2" stroke="#0d51c2" stroke-width="0.3"/>
<polygon points="139.04,150.31 147.69,148.98 147.69,147.38 139.04,148.71" fill="#0f59d6" stroke="#0f59d6" stroke-width="0.3"/>
<polygon points="135.43,143.93 144.08,142.6 147.69,147.38 139.04,148.71" fill="#1661de" stroke="#1661de" stroke-width="0.3"/>
<polygon points="86.25,97.33 89.86,102.11 89.86,36.51 86.25,31.73" fill="#2f2577" stroke="#2f2577" stroke-width="0.3"/>
<polygon points="89.86,102.11 98.51,100.78 98.51,35.18 89.86,36.51" fill="#332983" stroke="#332983" stroke-width="0.3"/>
<polygon points="86.25,31.73 94.9,30.4 98.51,35.18 89.86,36.51" fill="#3b308b" stroke="#3b308b" stroke-width="0.3"/>
<polygon points="90.45,102.88 94.06,107.66 94.06,42.06 90.45,37.28" fill="#2f2577" stroke="#2f2577" stroke-width="0.3"/>
<polygon points="94.06,107.66 102.71,106.33 102.71,40.73 94.06,42.06" fill="#332983" stroke="#332983" stroke-width="0.3"/>
<polygon points="90.45,37.28 99.1,35.95 102.71,40.73 94.06,42.06" fill="#3b308b" stroke="#3b308b" stroke-width="0.3"/>
<polygon points="94.65,108.43 98.26,113.21 98.26,70.01 94.65,65.23" fill="#2f2577" stroke="#2f2577" stroke-width="0.3"/>
<polygon points="98.26,113.21 106.91,111.88 106.91,68.68 98.26,70.01" fill="#332983" stroke="#332983" stroke-width="0.3"/>
<polygon points="94.65,65.23 103.3,63.9 106.91,68.68 98.26,70.01" fill="#3b308b" stroke="#3b308b" stroke-width="0.3"/>
<polygon points="98.85,113.98 102.46,118.76 102.46,76.92 98.85,72.14" fill="#2f2577" stroke="#2f2577" stroke-width="0.3"/>
<polygon points="102.46,118.76 111.11,117.43 111.11,75.59 102.46,76.92" fill="#332983" stroke="#332983" stroke-width="0.3"/>
<polygon points="98.85,72.14 107.5,70.81 111.11,75.59 102.46,76.92" fill="#3b308b" stroke="#3b308b" stroke-width="0.3"/>
<polygon points="103.05,119.53 106.66,124.31 106.66,83.83 103.05,79.05" fill="#2f2577" stroke="#2f2577" stroke-width="0.3"/>
<polygon points="106.66,124.31 115.31,122.98 115.31,82.5 106.66,83.83" fill="#332983" stroke="#332983" stroke-width="0.3"/>
<polygon points="103.05,79.05 111.7,77.72 115.31,82.5 106.66,83.83" fill="#3b308b" stroke="#3b308b" stroke-width="0.3"/>
<polygon points="107.25,125.08 110.86,129.86 110.86,90.74 107.25,85.96" fill="#2f2577" stroke="#2f2577" stroke-width="0.3"/>
<polygon points="110.86,129.86 119.51,128.53 119.51,89.41 110.86,90.74" fill="#332983" stroke="#332983" stroke-width="0.3"/>
<polygon points="107.25,85.96 115.9,84.63 119.51,89.41 110.86,90.74" fill="#3b308b" stroke="#3b308b" stroke-width="0.3"/>
<polygon points="111.45,130.63 115.06,135.41 115.06,97.73 111.45,92.95" fill="#2f2577" stroke="#2f2577" stroke-width="0.3"/>
<polygon points="115.06,135.41 123.71,134.08 123.71,96.4 115.06,97.73" fill="#332983" stroke="#332983" stroke-width="0.3"/>
<polygon points="111.45,92.95 120.1,91.62 123.71,96.4 115.06,97.73" fill="#3b308b" stroke="#3b308b" stroke-width="0.3"/>
<polygon points="115.65,136.18 119.26,140.96 119.26,104.64 115.65,99.86" fill="#2f2577" stroke="#2f2577" stroke-width="0.3"/>
<polygon points="119.26,140.96 127.91,139.63 127.91,103.31 119.26,104.64" fill="#332983" stroke="#332983" stroke-width="0.3"/>
<polygon points="115.65,99.86 124.3,98.53 127.91,103.31 119.26,104.64" fill="#3b308b" stroke="#3b308b" stroke-width="0.3"/>
<polygon points="119.85,141.73 123.46,146.51 123.46,111.55 119.85,106.77" fill="#2f2577" stroke="#2f2577" stroke-width="0.3"/>
<polygon points="123.46,146.51 132.11,145.18 132.11,110.22 123.46,111.55" fill="#332983" stroke="#332983" stroke-width="0.3"/>
<polygon points="119.85,106.77 128.5,105.44 132.11,110.22 123.46,111.55" fill="#3b308b" stroke="#3b308b" stroke-width="0.3"/>
<polygon points="124.05,147.28 127.66,152.06 127.66,118.46 124.05,113.68" fill="#2f2577" stroke="#2f2577" stroke-width="0.3"/>
<polygon points="127.66,152.06 136.31,150.73 136.31,117.13 127.66,118.46" fill="#332983" stroke="#332983" stroke-width="0.3"/>
<polygon points="124.05,113.68 132.7,112.35 136.31,117.13 127.66,118.46" fill="#3b308b" stroke="#3b308b" stroke-width="0.3"/>
<line x1="241.8" y1="135" x2="241.8" y2="61" stroke="#c8c8c8" stroke-width="0.6"/>
<line x1="86" y1="97" x2="128" y2="152.5" stroke="#bbb" stroke-width="0.6"/>
<line x1="128" y1="152.5" x2="241.8" y2="135" stroke="#bbb" stroke-width="0.6"/>
<text x="82.5" y="20.9" font-size="7" fill="#222" font-weight="bold" text-anchor="end" font-family='"Liberation Sans", sans-serif' >100</text>
<text x="82.5" y="29.8" font-size="7" fill="#222" font-weight="bold" text-anchor="end" font-family='"Liberation Sans", sans-serif' >80</text>
<text x="82.5" y="46" font-size="7" fill="#222" font-weight="bold" text-anchor="end" font-family='"Liberation Sans", sans-serif' >60</text>
<text x="82.5" y="61.9" font-size="7" fill="#222" font-weight="bold" text-anchor="end" font-family='"Liberation Sans", sans-serif' >40</text>
<text x="82.5" y="77.6" font-size="7" fill="#222" font-weight="bold" text-anchor="end" font-family='"Liberation Sans", sans-serif' >20</text>
<text x="82.5" y="93.9" font-size="7" fill="#222" font-weight="bold" text-anchor="end" font-family='"Liberation Sans", sans-serif' >0</text>
<text x="81" y="101.5" font-size="7" fill="#222" font-weight="bold" text-anchor="end" font-family='"Liberation Sans", sans-serif' >0</text>
<text x="89.4" y="112.6" font-size="7" fill="#222" font-weight="bold" text-anchor="end" font-family='"Liberation Sans", sans-serif' >2</text>
<text x="97.8" y="123.7" font-size="7" fill="#222" font-weight="bold" text-anchor="end" font-family='"Liberation Sans", sans-serif' >4</text>
<text x="106.2" y="134.8" font-size="7" fill="#222" font-weight="bold" text-anchor="end" font-family='"Liberation Sans", sans-serif' >6</text>
<text x="114.6" y="145.9" font-size="7" fill="#222" font-weight="bold" text-anchor="end" font-family='"Liberation Sans", sans-serif' >8</text>
<text x="123" y="157" font-size="7" fill="#222" font-weight="bold" text-anchor="end" font-family='"Liberation Sans", sans-serif' >10</text>
<text x="133.5" y="163" font-size="7" fill="#222" font-weight="bold" text-anchor="middle" font-family='"Liberation Sans", sans-serif' >0</text>
<text x="156.26" y="159.5" font-size="7" fill="#222" font-weight="bold" text-anchor="middle" font-family='"Liberation Sans", sans-serif' >2</text>
<text x="179.02" y="156" font-size="7" fill="#222" font-weight="bold" text-anchor="middle" font-family='"Liberation Sans", sans-serif' >4</text>
<text x="201.78" y="152.5" font-size="7" fill="#222" font-weight="bold" text-anchor="middle" font-family='"Liberation Sans", sans-serif' >6</text>
<text x="224.54" y="149" font-size="7" fill="#222" font-weight="bold" text-anchor="middle" font-family='"Liberation Sans", sans-serif' >8</text>
<text x="247.3" y="145.5" font-size="7" fill="#222" font-weight="bold" text-anchor="middle" font-family='"Liberation Sans", sans-serif' >10</text>
<text x="55.5" y="38.5" font-size="6.8" fill="#111" font-weight="bold" text-anchor="middle" font-family='"Liberation Sans", sans-serif' >Al at. %</text>
<text x="81" y="150.3" font-size="9.2" fill="#111" font-weight="bold" text-anchor="middle" font-family='"Liberation Sans", sans-serif' ># Iteartions</text>
<text x="187" y="168.2" font-size="8.7" fill="#111" font-weight="bold" text-anchor="middle" font-family='"Liberation Sans", sans-serif' ># Nests</text>
<text x="178.5" y="16" font-size="6.8" fill="#111" font-weight="bold" text-anchor="middle" font-family='"Liberation Sans", sans-serif' >Al<tspan dy="2" font-size="0.8em">x</tspan><tspan dy="-2">-Fe</tspan></text>
<line x1="54" y1="306.5" x2="54" y2="243" stroke="#c8c8c8" stroke-width="0.6"/>
<line x1="54" y1="243" x2="245.8" y2="222.5" stroke="#c8c8c8" stroke-width="0.6"/>
<line x1="245.8" y1="222.5" x2="278.3" y2="261.5" stroke="#c8c8c8" stroke-width="0.6"/>
<line x1="245.8" y1="286" x2="245.8" y2="222.5" stroke="#c8c8c8" stroke-width="0.6"/>
<line x1="54" y1="306.5" x2="245.8" y2="286" stroke="#c8c8c8" stroke-width="0.6"/>
<line x1="245.8" y1="286" x2="278.3" y2="325" stroke="#c8c8c8" stroke-width="0.6"/>
<polygon points="236.41,287.26 239.27,290.69 239.27,236.72 236.41,233.28" fill="#dbdd0c" stroke="#dbdd0c" stroke-width="0.3"/>
<polygon points="239.27,290.69 246.94,289.87 246.94,235.9 239.27,236.72" fill="#f2f30e" stroke="#f2f30e" stroke-width="0.3"/>
<polygon points="236.41,233.28 244.08,232.46 246.94,235.9 239.27,236.72" fill="#f9fb15" stroke="#f9fb15" stroke-width="0.3"/>
<polygon points="239.66,291.16 242.52,294.59 242.52,239.77 239.66,236.34" fill="#dbdd0c" stroke="#dbdd0c" stroke-width="0.3"/>
<polygon points="242.52,294.59 250.19,293.77 250.19,238.95 242.52,239.77" fill="#f2f30e" stroke="#f2f30e" stroke-width="0.3"/>
<polygon points="239.66,236.34 247.33,235.52 250.19,238.95 242.52,239.77" fill="#f9fb15" stroke="#f9fb15" stroke-width="0.3"/>
<polygon points="242.91,295.06 245.77,298.49 245.77,242.82 242.91,239.39" fill="#dbdd0c" stroke="#dbdd0c" stroke-width="0.3"/>
<polygon points="245.77,298.49 253.44,297.67 253.44,242 245.77,242.82" fill="#f2f30e" stroke="#f2f30e" stroke-width="0.3"/>
<polygon points="242.91,239.39 250.58,238.57 253.44,242 245.77,242.82" fill="#f9fb15" stroke="#f9fb15" stroke-width="0.3"/>
<polygon points="246.16,298.96 249.02,302.39 249.02,245.88 246.16,242.44" fill="#dbdd0c" stroke="#dbdd0c" stroke-width="0.3"/>
<polygon points="249.02,302.39 256.69,301.57 256.69,245.06 249.02,245.88" fill="#f2f30e" stroke="#f2f30e" stroke-width="0.3"/>
<polygon points="246.16,242.44 253.83,241.62 256.69,245.06 249.02,245.88" fill="#f9fb15" stroke="#f9fb15" stroke-width="0.3"/>
<polygon points="249.41,302.86 252.27,306.29 252.27,248.93 249.41,245.5" fill="#dbdd0c" stroke="#dbdd0c" stroke-width="0.3"/>
<polygon points="252.27,306.29 259.94,305.47 259.94,248.11 252.27,248.93" fill="#f2f30e" stroke="#f2f30e" stroke-width="0.3"/>
<polygon points="249.41,245.5 257.08,244.68 259.94,248.11 252.27,248.93" fill="#f9fb15" stroke="#f9fb15" stroke-width="0.3"/>
<polygon points="252.66,306.76 255.52,310.19 255.52,251.98 252.66,248.55" fill="#dbdd0c" stroke="#dbdd0c" stroke-width="0.3"/>
<polygon points="255.52,310.19 263.19,309.37 263.19,251.16 255.52,251.98" fill="#f2f30e" stroke="#f2f30e" stroke-width="0.3"/>
<polygon points="252.66,248.55 260.33,247.73 263.19,251.16 255.52,251.98" fill="#f9fb15" stroke="#f9fb15" stroke-width="0.3"/>
<polygon points="255.91,310.66 258.76,314.09 258.76,255.04 255.91,251.6" fill="#dbdd0c" stroke="#dbdd0c" stroke-width="0.3"/>
<polygon points="258.76,314.09 266.44,313.27 266.44,254.22 258.76,255.04" fill="#f2f30e" stroke="#f2f30e" stroke-width="0.3"/>
<polygon points="255.91,251.6 263.58,250.78 266.44,254.22 258.76,255.04" fill="#f9fb15" stroke="#f9fb15" stroke-width="0.3"/>
<polygon points="259.16,314.56 262.01,317.99 262.01,258.09 259.16,254.66" fill="#dbdd0c" stroke="#dbdd0c" stroke-width="0.3"/>
<polygon points="262.01,317.99 269.69,317.17 269.69,257.27 262.01,258.09" fill="#f2f30e" stroke="#f2f30e" stroke-width="0.3"/>
<polygon points="259.16,254.66 266.83,253.84 269.69,257.27 262.01,258.09" fill="#f9fb15" stroke="#f9fb15" stroke-width="0.3"/>
<polygon points="262.41,318.46 265.26,321.89 265.26,261.14 262.41,257.71" fill="#dbdd0c" stroke="#dbdd0c" stroke-width="0.3"/>
<polygon points="265.26,321.89 272.94,321.07 272.94,260.32 265.26,261.14" fill="#f2f30e" stroke="#f2f30e" stroke-width="0.3"/>
<polygon points="262.41,257.71 270.08,256.89 272.94,260.32 265.26,261.14" fill="#f9fb15" stroke="#f9fb15" stroke-width="0.3"/>
<polygon points="265.66,322.36 268.51,325.79 268.51,264.2 265.66,260.76" fill="#dbdd0c" stroke="#dbdd0c" stroke-width="0.3"/>
<polygon points="268.51,325.79 276.19,324.97 276.19,263.38 268.51,264.2" fill="#f2f30e" stroke="#f2f30e" stroke-width="0.3"/>
<polygon points="265.66,260.76 273.33,259.94 276.19,263.38 268.51,264.2" fill="#f9fb15" stroke="#f9fb15" stroke-width="0.3"/>
<polygon points="226.81,288.28 229.68,291.72 229.68,272.67 226.81,269.23" fill="#d8c71a" stroke="#d8c71a" stroke-width="0.3"/>
<polygon points="229.68,291.72 237.35,290.9 237.35,271.85 229.68,272.67" fill="#eedb1d" stroke="#eedb1d" stroke-width="0.3"/>
<polygon points="226.81,269.23 234.49,268.41 237.35,271.85 229.68,272.67" fill="#f5e325" stroke="#f5e325" stroke-width="0.3"/>
<polygon points="230.06,292.18 232.93,295.62 232.93,276.21 230.06,272.78" fill="#d8c71a" stroke="#d8c71a" stroke-width="0.3"/>
<polygon points="232.93,295.62 240.6,294.8 240.6,275.39 232.93,276.21" fill="#eedb1d" stroke="#eedb1d" stroke-width="0.3"/>
<polygon points="230.06,272.78 237.74,271.96 240.6,275.39 232.93,276.21" fill="#f5e325" stroke="#f5e325" stroke-width="0.3"/>
<polygon points="233.31,296.08 236.18,299.52 236.18,279.76 233.31,276.33" fill="#d8c71a" stroke="#d8c71a" stroke-width="0.3"/>
<polygon points="236.18,299.52 243.85,298.7 243.85,278.94 236.18,279.76" fill="#eedb1d" stroke="#eedb1d" stroke-width="0.3"/>
<polygon points="233.31,276.33 240.99,275.51 243.85,278.94 236.18,279.76" fill="#f5e325" stroke="#f5e325" stroke-width="0.3"/>
<polygon points="236.56,299.98 239.43,303.42 239.43,283.31 236.56,279.88" fill="#d8c71a" stroke="#d8c71a" stroke-width="0.3"/>
<polygon points="239.43,303.42 247.1,302.6 247.1,282.49 239.43,283.31" fill="#eedb1d" stroke="#eedb1d" stroke-width="0.3"/>
<polygon points="236.56,279.88 244.24,279.06 247.1,282.49 239.43,283.31" fill="#f5e325" stroke="#f5e325" stroke-width="0.3"/>
<polygon points="239.81,303.88 242.68,307.32 242.68,286.85 239.81,283.42" fill="#d8c71a" stroke="#d8c71a" stroke-width="0.3"/>
<polygon points="242.68,307.32 250.35,306.5 250.35,286.03 242.68,286.85" fill="#eedb1d" stroke="#eedb1d" stroke-width="0.3"/>
<polygon points="239.81,283.42 247.49,282.6 250.35,286.03 242.68,286.85" fill="#f5e325" stroke="#f5e325" stroke-width="0.3"/>
<polygon points="243.06,307.78 245.93,311.22 245.93,290.4 243.06,286.97" fill="#d8c71a" stroke="#d8c71a" stroke-width="0.3"/>
<polygon points="245.93,311.22 253.6,310.4 253.6,289.58 245.93,290.4" fill="#eedb1d" stroke="#eedb1d" stroke-width="0.3"/>
<polygon points="243.06,286.97 250.74,286.15 253.6,289.58 245.93,290.4" fill="#f5e325" stroke="#f5e325" stroke-width="0.3"/>
<polygon points="246.31,311.68 249.18,315.12 249.18,293.95 246.31,290.52" fill="#d8c71a" stroke="#d8c71a" stroke-width="0.3"/>
<polygon points="249.18,315.12 256.85,314.3 256.85,293.13 249.18,293.95" fill="#eedb1d" stroke="#eedb1d" stroke-width="0.3"/>
<polygon points="246.31,290.52 253.99,289.7 256.85,293.13 249.18,293.95" fill="#f5e325" stroke="#f5e325" stroke-width="0.3"/>
<polygon points="249.56,315.58 252.43,319.02 252.43,297.5 249.56,294.06" fill="#d8c71a" stroke="#d8c71a" stroke-width="0.3"/>
<polygon points="252.43,319.02 260.1,318.2 260.1,296.68 252.43,297.5" fill="#eedb1d" stroke="#eedb1d" stroke-width="0.3"/>
<polygon points="249.56,294.06 257.24,293.24 260.1,296.68 252.43,297.5" fill="#f5e325" stroke="#f5e325" stroke-width="0.3"/>
<polygon points="252.81,319.48 255.68,322.92 255.68,301.04 252.81,297.61" fill="#d8c71a" stroke="#d8c71a" stroke-width="0.3"/>
<polygon points="255.68,322.92 263.35,322.1 263.35,300.22 255.68,301.04" fill="#eedb1d" stroke="#eedb1d" stroke-width="0.3"/>
<polygon points="252.81,297.61 260.49,296.79 263.35,300.22 255.68,301.04" fill="#f5e325" stroke="#f5e325" stroke-width="0.3"/>
<polygon points="256.06,323.38 258.93,326.82 258.93,304.59 256.06,301.16" fill="#d8c71a" stroke="#d8c71a" stroke-width="0.3"/>
<polygon points="258.93,326.82 266.6,326 266.6,303.77 258.93,304.59" fill="#eedb1d" stroke="#eedb1d" stroke-width="0.3"/>
<polygon points="256.06,301.16 263.74,300.34 266.6,303.77 258.93,304.59" fill="#f5e325" stroke="#f5e325" stroke-width="0.3"/>
<polygon points="217.22,289.31 220.09,292.74 220.09,260.99 217.22,257.56" fill="#ddb727" stroke="#ddb727" stroke-width="0.3"/>
<polygon points="220.09,292.74 227.76,291.92 227.76,260.17 220.09,260.99" fill="#f3ca2b" stroke="#f3ca2b" stroke-width="0.3"/>
<polygon points="217.22,257.56 224.9,256.74 227.76,260.17 220.09,260.99" fill="#fbd132" stroke="#fbd132" stroke-width="0.3"/>
<polygon points="220.47,293.21 223.34,296.64 223.34,264.75 220.47,261.32" fill="#ddb727" stroke="#ddb727" stroke-width="0.3"/>
<polygon points="223.34,296.64 231.01,295.82 231.01,263.93 223.34,264.75" fill="#f3ca2b" stroke="#f3ca2b" stroke-width="0.3"/>
<polygon points="220.47,261.32 228.15,260.5 231.01,263.93 223.34,264.75" fill="#fbd132" stroke="#fbd132" stroke-width="0.3"/>
<polygon points="223.72,297.11 226.59,300.54 226.59,268.51 223.72,265.08" fill="#ddb727" stroke="#ddb727" stroke-width="0.3"/>
<polygon points="226.59,300.54 234.26,299.72 234.26,267.69 226.59,268.51" fill="#f3ca2b" stroke="#f3ca2b" stroke-width="0.3"/>
<polygon points="223.72,265.08 231.4,264.26 234.26,267.69 226.59,268.51" fill="#fbd132" stroke="#fbd132" stroke-width="0.3"/>
<polygon points="226.97,301.01 229.84,304.44 229.84,272.27 226.97,268.84" fill="#ddb727" stroke="#ddb727" stroke-width="0.3"/>
<polygon points="229.84,304.44 237.51,303.62 237.51,271.45 229.84,272.27" fill="#f3ca2b" stroke="#f3ca2b" stroke-width="0.3"/>
<polygon points="226.97,268.84 234.65,268.02 237.51,271.45 229.84,272.27" fill="#fbd132" stroke="#fbd132" stroke-width="0.3"/>
<polygon points="230.22,304.91 233.09,308.34 233.09,276.03 230.22,272.59" fill="#ddb727" stroke="#ddb727" stroke-width="0.3"/>
<polygon points="233.09,308.34 240.76,307.52 240.76,275.21 233.09,276.03" fill="#f3ca2b" stroke="#f3ca2b" stroke-width="0.3"/>
<polygon points="230.22,272.59 237.9,271.77 240.76,275.21 233.09,276.03" fill="#fbd132" stroke="#fbd132" stroke-width="0.3"/>
<polygon points="233.47,308.81 236.34,312.24 236.34,279.79 233.47,276.35" fill="#ddb727" stroke="#ddb727" stroke-width="0.3"/>
<polygon points="236.34,312.24 244.01,311.42 244.01,278.97 236.34,279.79" fill="#f3ca2b" stroke="#f3ca2b" stroke-width="0.3"/>
<polygon points="233.47,276.35 241.15,275.53 244.01,278.97 236.34,279.79" fill="#fbd132" stroke="#fbd132" stroke-width="0.3"/>
<polygon points="236.72,312.71 239.59,316.14 239.59,283.54 236.72,280.11" fill="#ddb727" stroke="#ddb727" stroke-width="0.3"/>
<polygon points="239.59,316.14 247.26,315.32 247.26,282.72 239.59,283.54" fill="#f3ca2b" stroke="#f3ca2b" stroke-width="0.3"/>
<polygon points="236.72,280.11 244.4,279.29 247.26,282.72 239.59,283.54" fill="#fbd132" stroke="#fbd132" stroke-width="0.3"/>
<polygon points="239.97,316.61 242.84,320.04 242.84,287.3 239.97,283.87" fill="#ddb727" stroke="#ddb727" stroke-width="0.3"/>
<polygon points="242.84,320.04 250.51,319.22 250.51,286.48 242.84,287.3" fill="#f3ca2b" stroke="#f3ca2b" stroke-width="0.3"/>
<polygon points="239.97,283.87 247.65,283.05 250.51,286.48 242.84,287.3" fill="#fbd132" stroke="#fbd132" stroke-width="0.3"/>
<polygon points="243.22,320.51 246.09,323.94 246.09,291.06 243.22,287.63" fill="#ddb727" stroke="#ddb727" stroke-width="0.3"/>
<polygon points="246.09,323.94 253.76,323.12 253.76,290.24 246.09,291.06" fill="#f3ca2b" stroke="#f3ca2b" stroke-width="0.3"/>
<polygon points="243.22,287.63 250.9,286.81 253.76,290.24 246.09,291.06" fill="#fbd132" stroke="#fbd132" stroke-width="0.3"/>
<polygon points="246.47,324.41 249.34,327.84 249.34,294.82 246.47,291.39" fill="#ddb727" stroke="#ddb727" stroke-width="0.3"/>
<polygon points="249.34,327.84 257.01,327.02 257.01,294 249.34,294.82" fill="#f3ca2b" stroke="#f3ca2b" stroke-width="0.3"/>
<polygon points="246.47,291.39 254.15,290.57 257.01,294 249.34,294.82" fill="#fbd132" stroke="#fbd132" stroke-width="0.3"/>
<polygon points="207.63,290.33 210.5,293.77 210.5,249.32 207.63,245.88" fill="#dfa736" stroke="#dfa736" stroke-width="0.3"/>
<polygon points="210.5,293.77 218.17,292.95 218.17,248.5 210.5,249.32" fill="#f5b83b" stroke="#f5b83b" stroke-width="0.3"/>
<polygon points="207.63,245.88 215.31,245.06 218.17,248.5 210.5,249.32" fill="#fdc043" stroke="#fdc043" stroke-width="0.3"/>
<polygon points="210.88,294.23 213.75,297.67 213.75,253.07 210.88,249.64" fill="#dfa736" stroke="#dfa736" stroke-width="0.3"/>
<polygon points="213.75,297.67 221.42,296.85 221.42,252.25 213.75,253.07" fill="#f5b83b" stroke="#f5b83b" stroke-width="0.3"/>
<polygon points="210.88,249.64 218.56,248.82 221.42,252.25 213.75,253.07" fill="#fdc043" stroke="#fdc043" stroke-width="0.3"/>
<polygon points="214.13,298.13 217,301.57 217,256.83 214.13,253.4" fill="#dfa736" stroke="#dfa736" stroke-width="0.3"/>
<polygon points="217,301.57 224.67,300.75 224.67,256.01 217,256.83" fill="#f5b83b" stroke="#f5b83b" stroke-width="0.3"/>
<polygon points="214.13,253.4 221.81,252.58 224.67,256.01 217,256.83" fill="#fdc043" stroke="#fdc043" stroke-width="0.3"/>
<polygon points="217.38,302.03 220.25,305.47 220.25,260.59 217.38,257.16" fill="#dfa736" stroke="#dfa736" stroke-width="0.3"/>
<polygon points="220.25,305.47 227.92,304.65 227.92,259.77 220.25,260.59" fill="#f5b83b" stroke="#f5b83b" stroke-width="0.3"/>
<polygon points="217.38,257.16 225.06,256.34 227.92,259.77 220.25,260.59" fill="#fdc043" stroke="#fdc043" stroke-width="0.3"/>
<polygon points="220.63,305.93 223.5,309.37 223.5,264.35 220.63,260.92" fill="#dfa736" stroke="#dfa736" stroke-width="0.3"/>
<polygon points="223.5,309.37 231.17,308.55 231.17,263.53 223.5,264.35" fill="#f5b83b" stroke="#f5b83b" stroke-width="0.3"/>
<polygon points="220.63,260.92 228.31,260.1 231.17,263.53 223.5,264.35" fill="#fdc043" stroke="#fdc043" stroke-width="0.3"/>
<polygon points="223.88,309.83 226.75,313.27 226.75,268.11 223.88,264.68" fill="#dfa736" stroke="#dfa736" stroke-width="0.3"/>
<polygon points="226.75,313.27 234.42,312.45 234.42,267.29 226.75,268.11" fill="#f5b83b" stroke="#f5b83b" stroke-width="0.3"/>
<polygon points="223.88,264.68 231.56,263.86 234.42,267.29 226.75,268.11" fill="#fdc043" stroke="#fdc043" stroke-width="0.3"/>
<polygon points="227.13,313.73 230,317.17 230,271.87 227.13,268.44" fill="#dfa736" stroke="#dfa736" stroke-width="0.3"/>
<polygon points="230,317.17 237.67,316.35 237.67,271.05 230,271.87" fill="#f5b83b" stroke="#f5b83b" stroke-width="0.3"/>
<polygon points="227.13,268.44 234.81,267.62 237.67,271.05 230,271.87" fill="#fdc043" stroke="#fdc043" stroke-width="0.3"/>
<polygon points="230.38,317.63 233.25,321.07 233.25,275.63 230.38,272.2" fill="#dfa736" stroke="#dfa736" stroke-width="0.3"/>
<polygon points="233.25,321.07 240.92,320.25 240.92,274.81 233.25,275.63" fill="#f5b83b" stroke="#f5b83b" stroke-width="0.3"/>
<polygon points="230.38,272.2 238.06,271.38 240.92,274.81 233.25,275.63" fill="#fdc043" stroke="#fdc043" stroke-width="0.3"/>
<polygon points="233.63,321.53 236.5,324.97 236.5,279.39 233.63,275.96" fill="#dfa736" stroke="#dfa736" stroke-width="0.3"/>
<polygon points="236.5,324.97 244.17,324.15 244.17,278.57 236.5,279.39" fill="#f5b83b" stroke="#f5b83b" stroke-width="0.3"/>
<polygon points="233.63,275.96 241.31,275.14 244.17,278.57 236.5,279.39" fill="#fdc043" stroke="#fdc043" stroke-width="0.3"/>
<polygon points="236.88,325.43 239.75,328.87 239.75,283.15 236.88,279.71" fill="#dfa736" stroke="#dfa736" stroke-width="0.3"/>
<polygon points="239.75,328.87 247.42,328.05 247.42,282.33 239.75,283.15" fill="#f5b83b" stroke="#f5b83b" stroke-width="0.3"/>
<polygon points="236.88,279.71 244.56,278.89 247.42,282.33 239.75,283.15" fill="#fdc043" stroke="#fdc043" stroke-width="0.3"/>
<polygon points="198.04,291.36 200.91,294.79 200.91,247.17 198.04,243.73" fill="#cba346" stroke="#cba346" stroke-width="0.3"/>
<polygon points="200.91,294.79 208.58,293.97 208.58,246.35 200.91,247.17" fill="#e0b34d" stroke="#e0b34d" stroke-width="0.3"/>
<polygon points="198.04,243.73 205.72,242.91 208.58,246.35 200.91,247.17" fill="#e8bb54" stroke="#e8bb54" stroke-width="0.3"/>
<polygon points="201.29,295.26 204.16,298.69 204.16,238.37 201.29,234.93" fill="#cba346" stroke="#cba346" stroke-width="0.3"/>
<polygon points="204.16,298.69 211.83,297.87 211.83,237.55 204.16,238.37" fill="#e0b34d" stroke="#e0b34d" stroke-width="0.3"/>
<polygon points="201.29,234.93 208.97,234.11 211.83,237.55 204.16,238.37" fill="#e8bb54" stroke="#e8bb54" stroke-width="0.3"/>
<polygon points="204.54,299.16 207.41,302.59 207.41,241.95 204.54,238.52" fill="#cba346" stroke="#cba346" stroke-width="0.3"/>
<polygon points="207.41,302.59 215.08,301.77 215.08,241.13 207.41,241.95" fill="#e0b34d" stroke="#e0b34d" stroke-width="0.3"/>
<polygon points="204.54,238.52 212.22,237.7 215.08,241.13 207.41,241.95" fill="#e8bb54" stroke="#e8bb54" stroke-width="0.3"/>
<polygon points="207.79,303.06 210.66,306.49 210.66,245.53 207.79,242.1" fill="#cba346" stroke="#cba346" stroke-width="0.3"/>
<polygon points="210.66,306.49 218.33,305.67 218.33,244.71 210.66,245.53" fill="#e0b34d" stroke="#e0b34d" stroke-width="0.3"/>
<polygon points="207.79,242.1 215.47,241.28 218.33,244.71 210.66,245.53" fill="#e8bb54" stroke="#e8bb54" stroke-width="0.3"/>
<polygon points="211.04,306.96 213.91,310.39 213.91,249.11 211.04,245.68" fill="#cba346" stroke="#cba346" stroke-width="0.3"/>
<polygon points="213.91,310.39 221.58,309.57 221.58,248.29 213.91,249.11" fill="#e0b34d" stroke="#e0b34d" stroke-width="0.3"/>
<polygon points="211.04,245.68 218.72,244.86 221.58,248.29 213.91,249.11" fill="#e8bb54" stroke="#e8bb54" stroke-width="0.3"/>
<polygon points="214.29,310.86 217.16,314.29 217.16,252.7 214.29,249.26" fill="#cba346" stroke="#cba346" stroke-width="0.3"/>
<polygon points="217.16,314.29 224.83,313.47 224.83,251.88 217.16,252.7" fill="#e0b34d" stroke="#e0b34d" stroke-width="0.3"/>
<polygon points="214.29,249.26 221.97,248.44 224.83,251.88 217.16,252.7" fill="#e8bb54" stroke="#e8bb54" stroke-width="0.3"/>
<polygon points="217.54,314.76 220.41,318.19 220.41,256.28 217.54,252.85" fill="#cba346" stroke="#cba346" stroke-width="0.3"/>
<polygon points="220.41,318.19 228.08,317.37 228.08,255.46 220.41,256.28" fill="#e0b34d" stroke="#e0b34d" stroke-width="0.3"/>
<polygon points="217.54,252.85 225.22,252.03 228.08,255.46 220.41,256.28" fill="#e8bb54" stroke="#e8bb54" stroke-width="0.3"/>
<polygon points="220.79,318.66 223.66,322.09 223.66,259.86 220.79,256.43" fill="#cba346" stroke="#cba346" stroke-width="0.3"/>
<polygon points="223.66,322.09 231.33,321.27 231.33,259.04 223.66,259.86" fill="#e0b34d" stroke="#e0b34d" stroke-width="0.3"/>
<polygon points="220.79,256.43 228.47,255.61 231.33,259.04 223.66,259.86" fill="#e8bb54" stroke="#e8bb54" stroke-width="0.3"/>
<polygon points="224.04,322.56 226.91,325.99 226.91,263.44 224.04,260.01" fill="#cba346" stroke="#cba346" stroke-width="0.3"/>
<polygon points="226.91,325.99 234.58,325.17 234.58,262.62 226.91,263.44" fill="#e0b34d" stroke="#e0b34d" stroke-width="0.3"/>
<polygon points="224.04,260.01 231.72,259.19 234.58,262.62 226.91,263.44" fill="#e8bb54" stroke="#e8bb54" stroke-width="0.3"/>
<polygon points="227.29,326.46 230.16,329.89 230.16,267.03 227.29,263.59" fill="#cba346" stroke="#cba346" stroke-width="0.3"/>
<polygon points="230.16,329.89 237.83,329.07 237.83,266.21 230.16,267.03" fill="#e0b34d" stroke="#e0b34d" stroke-width="0.3"/>
<polygon points="227.29,263.59 234.97,262.77 237.83,266.21 230.16,267.03" fill="#e8bb54" stroke="#e8bb54" stroke-width="0.3"/>
<polygon points="188.45,292.38 191.31,295.82 191.31,251.37 188.45,247.93" fill="#b4a550" stroke="#b4a550" stroke-width="0.3"/>
<polygon points="191.31,295.82 198.99,295 198.99,250.55 191.31,251.37" fill="#c6b558" stroke="#c6b558" stroke-width="0.3"/>
<polygon points="188.45,247.93 196.13,247.11 198.99,250.55 191.31,251.37" fill="#cebd60" stroke="#cebd60" stroke-width="0.3"/>
<polygon points="191.7,296.28 194.56,299.72 194.56,242.57 191.7,239.13" fill="#b4a550" stroke="#b4a550" stroke-width="0.3"/>
<polygon points="194.56,299.72 202.24,298.9 202.24,241.75 194.56,242.57" fill="#c6b558" stroke="#c6b558" stroke-width="0.3"/>
<polygon points="191.7,239.13 199.38,238.31 202.24,241.75 194.56,242.57" fill="#cebd60" stroke="#cebd60" stroke-width="0.3"/>
<polygon points="194.95,300.18 197.81,303.62 197.81,246.07 194.95,242.64" fill="#b4a550" stroke="#b4a550" stroke-width="0.3"/>
<polygon points="197.81,303.62 205.49,302.8 205.49,245.25 197.81,246.07" fill="#c6b558" stroke="#c6b558" stroke-width="0.3"/>
<polygon points="194.95,242.64 202.63,241.82 205.49,245.25 197.81,246.07" fill="#cebd60" stroke="#cebd60" stroke-width="0.3"/>
<polygon points="198.2,304.08 201.06,307.52 201.06,249.57 198.2,246.14" fill="#b4a550" stroke="#b4a550" stroke-width="0.3"/>
<polygon points="201.06,307.52 208.74,306.7 208.74,248.75 201.06,249.57" fill="#c6b558" stroke="#c6b558" stroke-width="0.3"/>
<polygon points="198.2,246.14 205.88,245.32 208.74,248.75 201.06,249.57" fill="#cebd60" stroke="#cebd60" stroke-width="0.3"/>
<polygon points="201.45,307.98 204.31,311.42 204.31,253.08 201.45,249.64" fill="#b4a550" stroke="#b4a550" stroke-width="0.3"/>
<polygon points="204.31,311.42 211.99,310.6 211.99,252.26 204.31,253.08" fill="#c6b558" stroke="#c6b558" stroke-width="0.3"/>
<polygon points="201.45,249.64 209.13,248.82 211.99,252.26 204.31,253.08" fill="#cebd60" stroke="#cebd60" stroke-width="0.3"/>
<polygon points="204.7,311.88 207.56,315.32 207.56,256.58 204.7,253.15" fill="#b4a550" stroke="#b4a550" stroke-width="0.3"/>
<polygon points="207.56,315.32 215.24,314.5 215.24,255.76 207.56,256.58" fill="#c6b558" stroke="#c6b558" stroke-width="0.3"/>
<polygon points="204.7,253.15 212.38,252.33 215.24,255.76 207.56,256.58" fill="#cebd60" stroke="#cebd60" stroke-width="0.3"/>
<polygon points="207.95,315.78 210.81,319.22 210.81,260.08 207.95,256.65" fill="#b4a550" stroke="#b4a550" stroke-width="0.3"/>
<polygon points="210.81,319.22 218.49,318.4 218.49,259.26 210.81,260.08" fill="#c6b558" stroke="#c6b558" stroke-width="0.3"/>
<polygon points="207.95,256.65 215.63,255.83 218.49,259.26 210.81,260.08" fill="#cebd60" stroke="#cebd60" stroke-width="0.3"/>
<polygon points="211.2,319.68 214.06,323.12 214.06,263.58 211.2,260.15" fill="#b4a550" stroke="#b4a550" stroke-width="0.3"/>
<polygon points="214.06,323.12 221.74,322.3 221.74,262.76 214.06,263.58" fill="#c6b558" stroke="#c6b558" stroke-width="0.3"/>
<polygon points="211.2,260.15 218.88,259.33 221.74,262.76 214.06,263.58" fill="#cebd60" stroke="#cebd60" stroke-width="0.3"/>
<polygon points="214.45,323.58 217.31,327.02 217.31,267.09 214.45,263.66" fill="#b4a550" stroke="#b4a550" stroke-width="0.3"/>
<polygon points="217.31,327.02 224.99,326.2 224.99,266.27 217.31,267.09" fill="#c6b558" stroke="#c6b558" stroke-width="0.3"/>
<polygon points="214.45,263.66 222.13,262.84 224.99,266.27 217.31,267.09" fill="#cebd60" stroke="#cebd60" stroke-width="0.3"/>
<polygon points="217.7,327.48 220.56,330.92 220.56,270.59 217.7,267.16" fill="#b4a550" stroke="#b4a550" stroke-width="0.3"/>
<polygon points="220.56,330.92 228.24,330.1 228.24,269.77 220.56,270.59" fill="#c6b558" stroke="#c6b558" stroke-width="0.3"/>
<polygon points="217.7,267.16 225.38,266.34 228.24,269.77 220.56,270.59" fill="#cebd60" stroke="#cebd60" stroke-width="0.3"/>
<polygon points="178.87,293.41 181.73,296.84 181.73,266.36 178.87,262.93" fill="#9aa75b" stroke="#9aa75b" stroke-width="0.3"/>
<polygon points="181.73,296.84 189.4,296.02 189.4,265.54 181.73,266.36" fill="#aab864" stroke="#aab864" stroke-width="0.3"/>
<polygon points="178.87,262.93 186.54,262.11 189.4,265.54 181.73,266.36" fill="#b1c06c" stroke="#b1c06c" stroke-width="0.3"/>
<polygon points="182.12,297.31 184.98,300.74 184.98,251.21 182.12,247.78" fill="#9aa75b" stroke="#9aa75b" stroke-width="0.3"/>
<polygon points="184.98,300.74 192.65,299.92 192.65,250.39 184.98,251.21" fill="#aab864" stroke="#aab864" stroke-width="0.3"/>
<polygon points="182.12,247.78 189.79,246.96 192.65,250.39 184.98,251.21" fill="#b1c06c" stroke="#b1c06c" stroke-width="0.3"/>
<polygon points="185.37,301.21 188.23,304.64 188.23,254.63 185.37,251.2" fill="#9aa75b" stroke="#9aa75b" stroke-width="0.3"/>
<polygon points="188.23,304.64 195.9,303.82 195.9,253.81 188.23,254.63" fill="#aab864" stroke="#aab864" stroke-width="0.3"/>
<polygon points="185.37,251.2 193.04,250.38 195.9,253.81 188.23,254.63" fill="#b1c06c" stroke="#b1c06c" stroke-width="0.3"/>
<polygon points="188.62,305.11 191.48,308.54 191.48,258.06 188.62,254.63" fill="#9aa75b" stroke="#9aa75b" stroke-width="0.3"/>
<polygon points="191.48,308.54 199.15,307.72 199.15,257.24 191.48,258.06" fill="#aab864" stroke="#aab864" stroke-width="0.3"/>
<polygon points="188.62,254.63 196.29,253.81 199.15,257.24 191.48,258.06" fill="#b1c06c" stroke="#b1c06c" stroke-width="0.3"/>
<polygon points="191.87,309.01 194.73,312.44 194.73,261.48 191.87,258.05" fill="#9aa75b" stroke="#9aa75b" stroke-width="0.3"/>
<polygon points="194.73,312.44 202.4,311.62 202.4,260.66 194.73,261.48" fill="#aab864" stroke="#aab864" stroke-width="0.3"/>
<polygon points="191.87,258.05 199.54,257.23 202.4,260.66 194.73,261.48" fill="#b1c06c" stroke="#b1c06c" stroke-width="0.3"/>
<polygon points="195.12,312.91 197.98,316.34 197.98,264.91 195.12,261.47" fill="#9aa75b" stroke="#9aa75b" stroke-width="0.3"/>
<polygon points="197.98,316.34 205.65,315.52 205.65,264.09 197.98,264.91" fill="#aab864" stroke="#aab864" stroke-width="0.3"/>
<polygon points="195.12,261.47 202.79,260.65 205.65,264.09 197.98,264.91" fill="#b1c06c" stroke="#b1c06c" stroke-width="0.3"/>
<polygon points="198.37,316.81 201.23,320.24 201.23,268.33 198.37,264.9" fill="#9aa75b" stroke="#9aa75b" stroke-width="0.3"/>
<polygon points="201.23,320.24 208.9,319.42 208.9,267.51 201.23,268.33" fill="#aab864" stroke="#aab864" stroke-width="0.3"/>
<polygon points="198.37,264.9 206.04,264.08 208.9,267.51 201.23,268.33" fill="#b1c06c" stroke="#b1c06c" stroke-width="0.3"/>
<polygon points="201.62,320.71 204.48,324.14 204.48,271.75 201.62,268.32" fill="#9aa75b" stroke="#9aa75b" stroke-width="0.3"/>
<polygon points="204.48,324.14 212.15,323.32 212.15,270.93 204.48,271.75" fill="#aab864" stroke="#aab864" stroke-width="0.3"/>
<polygon points="201.62,268.32 209.29,267.5 212.15,270.93 204.48,271.75" fill="#b1c06c" stroke="#b1c06c" stroke-width="0.3"/>
<polygon points="204.87,324.61 207.73,328.04 207.73,275.18 204.87,271.75" fill="#9aa75b" stroke="#9aa75b" stroke-width="0.3"/>
<polygon points="207.73,328.04 215.4,327.22 215.4,274.36 207.73,275.18" fill="#aab864" stroke="#aab864" stroke-width="0.3"/>
<polygon points="204.87,271.75 212.54,270.93 215.4,274.36 207.73,275.18" fill="#b1c06c" stroke="#b1c06c" stroke-width="0.3"/>
<polygon points="208.12,328.51 210.98,331.94 210.98,278.6 208.12,275.17" fill="#9aa75b" stroke="#9aa75b" stroke-width="0.3"/>
<polygon points="210.98,331.94 218.65,331.12 218.65,277.78 210.98,278.6" fill="#aab864" stroke="#aab864" stroke-width="0.3"/>
<polygon points="208.12,275.17 215.79,274.35 218.65,277.78 210.98,278.6" fill="#b1c06c" stroke="#b1c06c" stroke-width="0.3"/>
<polygon points="169.27,294.43 172.13,297.87 172.13,278.82 169.27,275.38" fill="#7ea865" stroke="#7ea865" stroke-width="0.3"/>
<polygon points="172.13,297.87 179.81,297.05 179.81,278 172.13,278.82" fill="#8bb970" stroke="#8bb970" stroke-width="0.3"/>
<polygon points="169.27,275.38 176.95,274.56 179.81,278 172.13,278.82" fill="#92c177" stroke="#92c177" stroke-width="0.3"/>
<polygon points="172.52,298.33 175.38,301.77 175.38,282.5 172.52,279.07" fill="#7ea865" stroke="#7ea865" stroke-width="0.3"/>
<polygon points="175.38,301.77 183.06,300.95 183.06,281.68 175.38,282.5" fill="#8bb970" stroke="#8bb970" stroke-width="0.3"/>
<polygon points="172.52,279.07 180.2,278.25 183.06,281.68 175.38,282.5" fill="#92c177" stroke="#92c177" stroke-width="0.3"/>
<polygon points="175.77,302.23 178.63,305.67 178.63,286.19 175.77,282.76" fill="#7ea865" stroke="#7ea865" stroke-width="0.3"/>
<polygon points="178.63,305.67 186.31,304.85 186.31,285.37 178.63,286.19" fill="#8bb970" stroke="#8bb970" stroke-width="0.3"/>
<polygon points="175.77,282.76 183.45,281.94 186.31,285.37 178.63,286.19" fill="#92c177" stroke="#92c177" stroke-width="0.3"/>
<polygon points="179.02,306.13 181.88,309.57 181.88,289.88 179.02,286.45" fill="#7ea865" stroke="#7ea865" stroke-width="0.3"/>
<polygon points="181.88,309.57 189.56,308.75 189.56,289.06 181.88,289.88" fill="#8bb970" stroke="#8bb970" stroke-width="0.3"/>
<polygon points="179.02,286.45 186.7,285.63 189.56,289.06 181.88,289.88" fill="#92c177" stroke="#92c177" stroke-width="0.3"/>
<polygon points="182.27,310.03 185.13,313.47 185.13,293.57 182.27,290.14" fill="#7ea865" stroke="#7ea865" stroke-width="0.3"/>
<polygon points="185.13,313.47 192.81,312.65 192.81,292.75 185.13,293.57" fill="#8bb970" stroke="#8bb970" stroke-width="0.3"/>
<polygon points="182.27,290.14 189.95,289.32 192.81,292.75 185.13,293.57" fill="#92c177" stroke="#92c177" stroke-width="0.3"/>
<polygon points="185.52,313.93 188.38,317.37 188.38,297.26 185.52,293.83" fill="#7ea865" stroke="#7ea865" stroke-width="0.3"/>
<polygon points="188.38,317.37 196.06,316.55 196.06,296.44 188.38,297.26" fill="#8bb970" stroke="#8bb970" stroke-width="0.3"/>
<polygon points="185.52,293.83 193.2,293.01 196.06,296.44 188.38,297.26" fill="#92c177" stroke="#92c177" stroke-width="0.3"/>
<polygon points="188.77,317.83 191.63,321.27 191.63,300.95 188.77,297.51" fill="#7ea865" stroke="#7ea865" stroke-width="0.3"/>
<polygon points="191.63,321.27 199.31,320.45 199.31,300.13 191.63,300.95" fill="#8bb970" stroke="#8bb970" stroke-width="0.3"/>
<polygon points="188.77,297.51 196.45,296.69 199.31,300.13 191.63,300.95" fill="#92c177" stroke="#92c177" stroke-width="0.3"/>
<polygon points="192.02,321.73 194.88,325.17 194.88,304.63 192.02,301.2" fill="#7ea865" stroke="#7ea865" stroke-width="0.3"/>
<polygon points="194.88,325.17 202.56,324.35 202.56,303.81 194.88,304.63" fill="#8bb970" stroke="#8bb970" stroke-width="0.3"/>
<polygon points="192.02,301.2 199.7,300.38 202.56,303.81 194.88,304.63" fill="#92c177" stroke="#92c177" stroke-width="0.3"/>
<polygon points="195.27,325.63 198.13,329.07 198.13,308.32 195.27,304.89" fill="#7ea865" stroke="#7ea865" stroke-width="0.3"/>
<polygon points="198.13,329.07 205.81,328.25 205.81,307.5 198.13,308.32" fill="#8bb970" stroke="#8bb970" stroke-width="0.3"/>
<polygon points="195.27,304.89 202.95,304.07 205.81,307.5 198.13,308.32" fill="#92c177" stroke="#92c177" stroke-width="0.3"/>
<polygon points="198.52,329.53 201.38,332.97 201.38,312.01 198.52,308.58" fill="#7ea865" stroke="#7ea865" stroke-width="0.3"/>
<polygon points="201.38,332.97 209.06,332.15 209.06,311.19 201.38,312.01" fill="#8bb970" stroke="#8bb970" stroke-width="0.3"/>
<polygon points="198.52,308.58 206.2,307.76 209.06,311.19 201.38,312.01" fill="#92c177" stroke="#92c177" stroke-width="0.3"/>
<polygon points="159.69,295.46 162.55,298.89 162.55,265.87 159.69,262.44" fill="#5da773" stroke="#5da773" stroke-width="0.3"/>
<polygon points="162.55,298.89 170.22,298.07 170.22,265.05 162.55,265.87" fill="#67b87f" stroke="#67b87f" stroke-width="0.3"/>
<polygon points="159.69,262.44 167.36,261.62 170.22,265.05 162.55,265.87" fill="#6ec087" stroke="#6ec087" stroke-width="0.3"/>
<polygon points="162.94,299.36 165.8,302.79 165.8,269.21 162.94,265.77" fill="#5da773" stroke="#5da773" stroke-width="0.3"/>
<polygon points="165.8,302.79 173.47,301.97 173.47,268.39 165.8,269.21" fill="#67b87f" stroke="#67b87f" stroke-width="0.3"/>
<polygon points="162.94,265.77 170.61,264.95 173.47,268.39 165.8,269.21" fill="#6ec087" stroke="#6ec087" stroke-width="0.3"/>
<polygon points="166.19,303.26 169.05,306.69 169.05,272.54 166.19,269.11" fill="#5da773" stroke="#5da773" stroke-width="0.3"/>
<polygon points="169.05,306.69 176.72,305.87 176.72,271.72 169.05,272.54" fill="#67b87f" stroke="#67b87f" stroke-width="0.3"/>
<polygon points="166.19,269.11 173.86,268.29 176.72,271.72 169.05,272.54" fill="#6ec087" stroke="#6ec087" stroke-width="0.3"/>
<polygon points="169.44,307.16 172.3,310.59 172.3,275.88 169.44,272.45" fill="#5da773" stroke="#5da773" stroke-width="0.3"/>
<polygon points="172.3,310.59 179.97,309.77 179.97,275.06 172.3,275.88" fill="#67b87f" stroke="#67b87f" stroke-width="0.3"/>
<polygon points="169.44,272.45 177.11,271.63 179.97,275.06 172.3,275.88" fill="#6ec087" stroke="#6ec087" stroke-width="0.3"/>
<polygon points="172.69,311.06 175.55,314.49 175.55,279.21 172.69,275.78" fill="#5da773" stroke="#5da773" stroke-width="0.3"/>
<polygon points="175.55,314.49 183.22,313.67 183.22,278.39 175.55,279.21" fill="#67b87f" stroke="#67b87f" stroke-width="0.3"/>
<polygon points="172.69,275.78 180.36,274.96 183.22,278.39 175.55,279.21" fill="#6ec087" stroke="#6ec087" stroke-width="0.3"/>
<polygon points="175.94,314.96 178.8,318.39 178.8,282.55 175.94,279.12" fill="#5da773" stroke="#5da773" stroke-width="0.3"/>
<polygon points="178.8,318.39 186.47,317.57 186.47,281.73 178.8,282.55" fill="#67b87f" stroke="#67b87f" stroke-width="0.3"/>
<polygon points="175.94,279.12 183.61,278.3 186.47,281.73 178.8,282.55" fill="#6ec087" stroke="#6ec087" stroke-width="0.3"/>
<polygon points="179.19,318.86 182.05,322.29 182.05,285.88 179.19,282.45" fill="#5da773" stroke="#5da773" stroke-width="0.3"/>
<polygon points="182.05,322.29 189.72,321.47 189.72,285.06 182.05,285.88" fill="#67b87f" stroke="#67b87f" stroke-width="0.3"/>
<polygon points="179.19,282.45 186.86,281.63 189.72,285.06 182.05,285.88" fill="#6ec087" stroke="#6ec087" stroke-width="0.3"/>
<polygon points="182.44,322.76 185.3,326.19 185.3,289.22 182.44,285.79" fill="#5da773" stroke="#5da773" stroke-width="0.3"/>
<polygon points="185.3,326.19 192.97,325.37 192.97,288.4 185.3,289.22" fill="#67b87f" stroke="#67b87f" stroke-width="0.3"/>
<polygon points="182.44,285.79 190.11,284.97 192.97,288.4 185.3,289.22" fill="#6ec087" stroke="#6ec087" stroke-width="0.3"/>
<polygon points="185.69,326.66 188.55,330.09 188.55,292.56 185.69,289.12" fill="#5da773" stroke="#5da773" stroke-width="0.3"/>
<polygon points="188.55,330.09 196.22,329.27 196.22,291.74 188.55,292.56" fill="#67b87f" stroke="#67b87f" stroke-width="0.3"/>
<polygon points="185.69,289.12 193.36,288.3 196.22,291.74 188.55,292.56" fill="#6ec087" stroke="#6ec087" stroke-width="0.3"/>
<polygon points="188.94,330.56 191.8,333.99 191.8,295.89 188.94,292.46" fill="#5da773" stroke="#5da773" stroke-width="0.3"/>
<polygon points="191.8,333.99 199.47,333.17 199.47,295.07 191.8,295.89" fill="#67b87f" stroke="#67b87f" stroke-width="0.3"/>
<polygon points="188.94,292.46 196.61,291.64 199.47,295.07 191.8,295.89" fill="#6ec087" stroke="#6ec087" stroke-width="0.3"/>
<polygon points="150.09,296.48 152.96,299.92 152.96,274.52 150.09,271.08" fill="#3ca585" stroke="#3ca585" stroke-width="0.3"/>
<polygon points="152.96,299.92 160.63,299.1 160.63,273.7 152.96,274.52" fill="#42b592" stroke="#42b592" stroke-width="0.3"/>
<polygon points="150.09,271.08 157.77,270.26 160.63,273.7 152.96,274.52" fill="#4abd9a" stroke="#4abd9a" stroke-width="0.3"/>
<polygon points="153.34,300.38 156.21,303.82 156.21,277.85 153.34,274.42" fill="#3ca585" stroke="#3ca585" stroke-width="0.3"/>
<polygon points="156.21,303.82 163.88,303 163.88,277.03 156.21,277.85" fill="#42b592" stroke="#42b592" stroke-width="0.3"/>
<polygon points="153.34,274.42 161.02,273.6 163.88,277.03 156.21,277.85" fill="#4abd9a" stroke="#4abd9a" stroke-width="0.3"/>
<polygon points="156.59,304.28 159.46,307.72 159.46,281.19 156.59,277.76" fill="#3ca585" stroke="#3ca585" stroke-width="0.3"/>
<polygon points="159.46,307.72 167.13,306.9 167.13,280.37 159.46,281.19" fill="#42b592" stroke="#42b592" stroke-width="0.3"/>
<polygon points="156.59,277.76 164.27,276.94 167.13,280.37 159.46,281.19" fill="#4abd9a" stroke="#4abd9a" stroke-width="0.3"/>
<polygon points="159.84,308.18 162.71,311.62 162.71,284.52 159.84,281.09" fill="#3ca585" stroke="#3ca585" stroke-width="0.3"/>
<polygon points="162.71,311.62 170.38,310.8 170.38,283.7 162.71,284.52" fill="#42b592" stroke="#42b592" stroke-width="0.3"/>
<polygon points="159.84,281.09 167.52,280.27 170.38,283.7 162.71,284.52" fill="#4abd9a" stroke="#4abd9a" stroke-width="0.3"/>
<polygon points="163.09,312.08 165.96,315.52 165.96,287.86 163.09,284.43" fill="#3ca585" stroke="#3ca585" stroke-width="0.3"/>
<polygon points="165.96,315.52 173.63,314.7 173.63,287.04 165.96,287.86" fill="#42b592" stroke="#42b592" stroke-width="0.3"/>
<polygon points="163.09,284.43 170.77,283.61 173.63,287.04 165.96,287.86" fill="#4abd9a" stroke="#4abd9a" stroke-width="0.3"/>
<polygon points="166.34,315.98 169.21,319.42 169.21,291.19 166.34,287.76" fill="#3ca585" stroke="#3ca585" stroke-width="0.3"/>
<polygon points="169.21,319.42 176.88,318.6 176.88,290.37 169.21,291.19" fill="#42b592" stroke="#42b592" stroke-width="0.3"/>
<polygon points="166.34,287.76 174.02,286.94 176.88,290.37 169.21,291.19" fill="#4abd9a" stroke="#4abd9a" stroke-width="0.3"/>
<polygon points="169.59,319.88 172.46,323.32 172.46,294.53 169.59,291.1" fill="#3ca585" stroke="#3ca585" stroke-width="0.3"/>
<polygon points="172.46,323.32 180.13,322.5 180.13,293.71 172.46,294.53" fill="#42b592" stroke="#42b592" stroke-width="0.3"/>
<polygon points="169.59,291.1 177.27,290.28 180.13,293.71 172.46,294.53" fill="#4abd9a" stroke="#4abd9a" stroke-width="0.3"/>
<polygon points="172.84,323.78 175.71,327.22 175.71,297.86 172.84,294.43" fill="#3ca585" stroke="#3ca585" stroke-width="0.3"/>
<polygon points="175.71,327.22 183.38,326.4 183.38,297.04 175.71,297.86" fill="#42b592" stroke="#42b592" stroke-width="0.3"/>
<polygon points="172.84,294.43 180.52,293.61 183.38,297.04 175.71,297.86" fill="#4abd9a" stroke="#4abd9a" stroke-width="0.3"/>
<polygon points="176.09,327.68 178.96,331.12 178.96,301.2 176.09,297.77" fill="#3ca585" stroke="#3ca585" stroke-width="0.3"/>
<polygon points="178.96,331.12 186.63,330.3 186.63,300.38 178.96,301.2" fill="#42b592" stroke="#42b592" stroke-width="0.3"/>
<polygon points="176.09,297.77 183.77,296.95 186.63,300.38 178.96,301.2" fill="#4abd9a" stroke="#4abd9a" stroke-width="0.3"/>
<polygon points="179.34,331.58 182.21,335.02 182.21,304.54 179.34,301.1" fill="#3ca585" stroke="#3ca585" stroke-width="0.3"/>
<polygon points="182.21,335.02 189.88,334.2 189.88,303.72 182.21,304.54" fill="#42b592" stroke="#42b592" stroke-width="0.3"/>
<polygon points="179.34,301.1 187.02,300.28 189.88,303.72 182.21,304.54" fill="#4abd9a" stroke="#4abd9a" stroke-width="0.3"/>
<polygon points="140.5,297.51 143.37,300.94 143.37,271.73 140.5,268.3" fill="#209f96" stroke="#209f96" stroke-width="0.3"/>
<polygon points="143.37,300.94 151.04,300.12 151.04,270.91 143.37,271.73" fill="#23b0a5" stroke="#23b0a5" stroke-width="0.3"/>
<polygon points="140.5,268.3 148.18,267.48 151.04,270.91 143.37,271.73" fill="#2bb7ad" stroke="#2bb7ad" stroke-width="0.3"/>
<polygon points="143.75,301.41 146.62,304.84 146.62,274.93 143.75,271.49" fill="#209f96" stroke="#209f96" stroke-width="0.3"/>
<polygon points="146.62,304.84 154.29,304.02 154.29,274.11 146.62,274.93" fill="#23b0a5" stroke="#23b0a5" stroke-width="0.3"/>
<polygon points="143.75,271.49 151.43,270.67 154.29,274.11 146.62,274.93" fill="#2bb7ad" stroke="#2bb7ad" stroke-width="0.3"/>
<polygon points="147,305.31 149.87,308.74 149.87,278.12 147,274.69" fill="#209f96" stroke="#209f96" stroke-width="0.3"/>
<polygon points="149.87,308.74 157.54,307.92 157.54,277.3 149.87,278.12" fill="#23b0a5" stroke="#23b0a5" stroke-width="0.3"/>
<polygon points="147,274.69 154.68,273.87 157.54,277.3 149.87,278.12" fill="#2bb7ad" stroke="#2bb7ad" stroke-width="0.3"/>
<polygon points="150.25,309.21 153.12,312.64 153.12,281.31 150.25,277.88" fill="#209f96" stroke="#209f96" stroke-width="0.3"/>
<polygon points="153.12,312.64 160.79,311.82 160.79,280.49 153.12,281.31" fill="#23b0a5" stroke="#23b0a5" stroke-width="0.3"/>
<polygon points="150.25,277.88 157.93,277.06 160.79,280.49 153.12,281.31" fill="#2bb7ad" stroke="#2bb7ad" stroke-width="0.3"/>
<polygon points="153.5,313.11 156.37,316.54 156.37,284.51 153.5,281.08" fill="#209f96" stroke="#209f96" stroke-width="0.3"/>
<polygon points="156.37,316.54 164.04,315.72 164.04,283.69 156.37,284.51" fill="#23b0a5" stroke="#23b0a5" stroke-width="0.3"/>
<polygon points="153.5,281.08 161.18,280.26 164.04,283.69 156.37,284.51" fill="#2bb7ad" stroke="#2bb7ad" stroke-width="0.3"/>
<polygon points="156.75,317.01 159.62,320.44 159.62,287.7 156.75,284.27" fill="#209f96" stroke="#209f96" stroke-width="0.3"/>
<polygon points="159.62,320.44 167.29,319.62 167.29,286.88 159.62,287.7" fill="#23b0a5" stroke="#23b0a5" stroke-width="0.3"/>
<polygon points="156.75,284.27 164.43,283.45 167.29,286.88 159.62,287.7" fill="#2bb7ad" stroke="#2bb7ad" stroke-width="0.3"/>
<polygon points="160,320.91 162.87,324.34 162.87,290.9 160,287.47" fill="#209f96" stroke="#209f96" stroke-width="0.3"/>
<polygon points="162.87,324.34 170.54,323.52 170.54,290.08 162.87,290.9" fill="#23b0a5" stroke="#23b0a5" stroke-width="0.3"/>
<polygon points="160,287.47 167.68,286.65 170.54,290.08 162.87,290.9" fill="#2bb7ad" stroke="#2bb7ad" stroke-width="0.3"/>
<polygon points="163.25,324.81 166.12,328.24 166.12,294.09 163.25,290.66" fill="#209f96" stroke="#209f96" stroke-width="0.3"/>
<polygon points="166.12,328.24 173.79,327.42 173.79,293.27 166.12,294.09" fill="#23b0a5" stroke="#23b0a5" stroke-width="0.3"/>
<polygon points="163.25,290.66 170.93,289.84 173.79,293.27 166.12,294.09" fill="#2bb7ad" stroke="#2bb7ad" stroke-width="0.3"/>
<polygon points="166.5,328.71 169.37,332.14 169.37,297.29 166.5,293.85" fill="#209f96" stroke="#209f96" stroke-width="0.3"/>
<polygon points="169.37,332.14 177.04,331.32 177.04,296.47 169.37,297.29" fill="#23b0a5" stroke="#23b0a5" stroke-width="0.3"/>
<polygon points="166.5,293.85 174.18,293.03 177.04,296.47 169.37,297.29" fill="#2bb7ad" stroke="#2bb7ad" stroke-width="0.3"/>
<polygon points="169.75,332.61 172.62,336.04 172.62,300.48 169.75,297.05" fill="#209f96" stroke="#209f96" stroke-width="0.3"/>
<polygon points="172.62,336.04 180.29,335.22 180.29,299.66 172.62,300.48" fill="#23b0a5" stroke="#23b0a5" stroke-width="0.3"/>
<polygon points="169.75,297.05 177.43,296.23 180.29,299.66 172.62,300.48" fill="#2bb7ad" stroke="#2bb7ad" stroke-width="0.3"/>
<polygon points="130.91,298.53 133.78,301.97 133.78,262.6 130.91,259.16" fill="#0b98a5" stroke="#0b98a5" stroke-width="0.3"/>
<polygon points="133.78,301.97 141.45,301.15 141.45,261.78 133.78,262.6" fill="#0da8b5" stroke="#0da8b5" stroke-width="0.3"/>
<polygon points="130.91,259.16 138.59,258.34 141.45,261.78 133.78,262.6" fill="#14afbd" stroke="#14afbd" stroke-width="0.3"/>
<polygon points="134.16,302.43 137.03,305.87 137.03,266.21 134.16,262.78" fill="#0b98a5" stroke="#0b98a5" stroke-width="0.3"/>
<polygon points="137.03,305.87 144.7,305.05 144.7,265.39 137.03,266.21" fill="#0da8b5" stroke="#0da8b5" stroke-width="0.3"/>
<polygon points="134.16,262.78 141.84,261.96 144.7,265.39 137.03,266.21" fill="#14afbd" stroke="#14afbd" stroke-width="0.3"/>
<polygon points="137.41,306.33 140.28,309.77 140.28,269.83 137.41,266.4" fill="#0b98a5" stroke="#0b98a5" stroke-width="0.3"/>
<polygon points="140.28,309.77 147.95,308.95 147.95,269.01 140.28,269.83" fill="#0da8b5" stroke="#0da8b5" stroke-width="0.3"/>
<polygon points="137.41,266.4 145.09,265.58 147.95,269.01 140.28,269.83" fill="#14afbd" stroke="#14afbd" stroke-width="0.3"/>
<polygon points="140.66,310.23 143.53,313.67 143.53,273.45 140.66,270.02" fill="#0b98a5" stroke="#0b98a5" stroke-width="0.3"/>
<polygon points="143.53,313.67 151.2,312.85 151.2,272.63 143.53,273.45" fill="#0da8b5" stroke="#0da8b5" stroke-width="0.3"/>
<polygon points="140.66,270.02 148.34,269.2 151.2,272.63 143.53,273.45" fill="#14afbd" stroke="#14afbd" stroke-width="0.3"/>
<polygon points="143.91,314.13 146.78,317.57 146.78,277.07 143.91,273.64" fill="#0b98a5" stroke="#0b98a5" stroke-width="0.3"/>
<polygon points="146.78,317.57 154.45,316.75 154.45,276.25 146.78,277.07" fill="#0da8b5" stroke="#0da8b5" stroke-width="0.3"/>
<polygon points="143.91,273.64 151.59,272.82 154.45,276.25 146.78,277.07" fill="#14afbd" stroke="#14afbd" stroke-width="0.3"/>
<polygon points="147.16,318.03 150.03,321.47 150.03,280.68 147.16,277.25" fill="#0b98a5" stroke="#0b98a5" stroke-width="0.3"/>
<polygon points="150.03,321.47 157.7,320.65 157.7,279.86 150.03,280.68" fill="#0da8b5" stroke="#0da8b5" stroke-width="0.3"/>
<polygon points="147.16,277.25 154.84,276.43 157.7,279.86 150.03,280.68" fill="#14afbd" stroke="#14afbd" stroke-width="0.3"/>
<polygon points="150.41,321.93 153.28,325.37 153.28,284.3 150.41,280.87" fill="#0b98a5" stroke="#0b98a5" stroke-width="0.3"/>
<polygon points="153.28,325.37 160.95,324.55 160.95,283.48 153.28,284.3" fill="#0da8b5" stroke="#0da8b5" stroke-width="0.3"/>
<polygon points="150.41,280.87 158.09,280.05 160.95,283.48 153.28,284.3" fill="#14afbd" stroke="#14afbd" stroke-width="0.3"/>
<polygon points="153.66,325.83 156.53,329.27 156.53,287.92 153.66,284.49" fill="#0b98a5" stroke="#0b98a5" stroke-width="0.3"/>
<polygon points="156.53,329.27 164.2,328.45 164.2,287.1 156.53,287.92" fill="#0da8b5" stroke="#0da8b5" stroke-width="0.3"/>
<polygon points="153.66,284.49 161.34,283.67 164.2,287.1 156.53,287.92" fill="#14afbd" stroke="#14afbd" stroke-width="0.3"/>
<polygon points="156.91,329.73 159.78,333.17 159.78,291.54 156.91,288.11" fill="#0b98a5" stroke="#0b98a5" stroke-width="0.3"/>
<polygon points="159.78,333.17 167.45,332.35 167.45,290.72 159.78,291.54" fill="#0da8b5" stroke="#0da8b5" stroke-width="0.3"/>
<polygon points="156.91,288.11 164.59,287.29 167.45,290.72 159.78,291.54" fill="#14afbd" stroke="#14afbd" stroke-width="0.3"/>
<polygon points="160.16,333.63 163.03,337.07 163.03,295.16 160.16,291.72" fill="#0b98a5" stroke="#0b98a5" stroke-width="0.3"/>
<polygon points="163.03,337.07 170.7,336.25 170.7,294.34 163.03,295.16" fill="#0da8b5" stroke="#0da8b5" stroke-width="0.3"/>
<polygon points="160.16,291.72 167.84,290.9 170.7,294.34 163.03,295.16" fill="#14afbd" stroke="#14afbd" stroke-width="0.3"/>
<polygon points="121.32,299.56 124.19,302.99 124.19,259.81 121.32,256.38" fill="#0590b1" stroke="#0590b1" stroke-width="0.3"/>
<polygon points="124.19,302.99 131.86,302.17 131.86,258.99 124.19,259.81" fill="#069fc3" stroke="#069fc3" stroke-width="0.3"/>
<polygon points="121.32,256.38 129,255.56 131.86,258.99 124.19,259.81" fill="#0da7cb" stroke="#0da7cb" stroke-width="0.3"/>
<polygon points="124.57,303.46 127.44,306.89 127.44,251.65 124.57,248.21" fill="#0590b1" stroke="#0590b1" stroke-width="0.3"/>
<polygon points="127.44,306.89 135.11,306.07 135.11,250.83 127.44,251.65" fill="#069fc3" stroke="#069fc3" stroke-width="0.3"/>
<polygon points="124.57,248.21 132.25,247.39 135.11,250.83 127.44,251.65" fill="#0da7cb" stroke="#0da7cb" stroke-width="0.3"/>
<polygon points="127.82,307.36 130.69,310.79 130.69,254.91 127.82,251.48" fill="#0590b1" stroke="#0590b1" stroke-width="0.3"/>
<polygon points="130.69,310.79 138.36,309.97 138.36,254.09 130.69,254.91" fill="#069fc3" stroke="#069fc3" stroke-width="0.3"/>
<polygon points="127.82,251.48 135.5,250.66 138.36,254.09 130.69,254.91" fill="#0da7cb" stroke="#0da7cb" stroke-width="0.3"/>
<polygon points="131.07,311.26 133.94,314.69 133.94,258.18 131.07,254.74" fill="#0590b1" stroke="#0590b1" stroke-width="0.3"/>
<polygon points="133.94,314.69 141.61,313.87 141.61,257.36 133.94,258.18" fill="#069fc3" stroke="#069fc3" stroke-width="0.3"/>
<polygon points="131.07,254.74 138.75,253.92 141.61,257.36 133.94,258.18" fill="#0da7cb" stroke="#0da7cb" stroke-width="0.3"/>
<polygon points="134.32,315.16 137.19,318.59 137.19,261.44 134.32,258.01" fill="#0590b1" stroke="#0590b1" stroke-width="0.3"/>
<polygon points="137.19,318.59 144.86,317.77 144.86,260.62 137.19,261.44" fill="#069fc3" stroke="#069fc3" stroke-width="0.3"/>
<polygon points="134.32,258.01 142,257.19 144.86,260.62 137.19,261.44" fill="#0da7cb" stroke="#0da7cb" stroke-width="0.3"/>
<polygon points="137.57,319.06 140.44,322.49 140.44,264.71 137.57,261.27" fill="#0590b1" stroke="#0590b1" stroke-width="0.3"/>
<polygon points="140.44,322.49 148.11,321.67 148.11,263.89 140.44,264.71" fill="#069fc3" stroke="#069fc3" stroke-width="0.3"/>
<polygon points="137.57,261.27 145.25,260.45 148.11,263.89 140.44,264.71" fill="#0da7cb" stroke="#0da7cb" stroke-width="0.3"/>
<polygon points="140.82,322.96 143.69,326.39 143.69,267.97 140.82,264.54" fill="#0590b1" stroke="#0590b1" stroke-width="0.3"/>
<polygon points="143.69,326.39 151.36,325.57 151.36,267.15 143.69,267.97" fill="#069fc3" stroke="#069fc3" stroke-width="0.3"/>
<polygon points="140.82,264.54 148.5,263.72 151.36,267.15 143.69,267.97" fill="#0da7cb" stroke="#0da7cb" stroke-width="0.3"/>
<polygon points="144.07,326.86 146.94,330.29 146.94,271.24 144.07,267.8" fill="#0590b1" stroke="#0590b1" stroke-width="0.3"/>
<polygon points="146.94,330.29 154.61,329.47 154.61,270.42 146.94,271.24" fill="#069fc3" stroke="#069fc3" stroke-width="0.3"/>
<polygon points="144.07,267.8 151.75,266.98 154.61,270.42 146.94,271.24" fill="#0da7cb" stroke="#0da7cb" stroke-width="0.3"/>
<polygon points="147.32,330.76 150.19,334.19 150.19,274.5 147.32,271.07" fill="#0590b1" stroke="#0590b1" stroke-width="0.3"/>
<polygon points="150.19,334.19 157.86,333.37 157.86,273.68 150.19,274.5" fill="#069fc3" stroke="#069fc3" stroke-width="0.3"/>
<polygon points="147.32,271.07 155,270.25 157.86,273.68 150.19,274.5" fill="#0da7cb" stroke="#0da7cb" stroke-width="0.3"/>
<polygon points="150.57,334.66 153.44,338.09 153.44,277.77 150.57,274.33" fill="#0590b1" stroke="#0590b1" stroke-width="0.3"/>
<polygon points="153.44,338.09 161.11,337.27 161.11,276.95 153.44,277.77" fill="#069fc3" stroke="#069fc3" stroke-width="0.3"/>
<polygon points="150.57,274.33 158.25,273.51 161.11,276.95 153.44,277.77" fill="#0da7cb" stroke="#0da7cb" stroke-width="0.3"/>
<polygon points="111.73,300.58 114.59,304.02 114.59,277.35 111.73,273.91" fill="#0886b8" stroke="#0886b8" stroke-width="0.3"/>
<polygon points="114.59,304.02 122.27,303.2 122.27,276.53 114.59,277.35" fill="#0993cb" stroke="#0993cb" stroke-width="0.3"/>
<polygon points="111.73,273.91 119.41,273.09 122.27,276.53 114.59,277.35" fill="#109bd2" stroke="#109bd2" stroke-width="0.3"/>
<polygon points="114.98,304.48 117.84,307.92 117.84,280.54 114.98,277.11" fill="#0886b8" stroke="#0886b8" stroke-width="0.3"/>
<polygon points="117.84,307.92 125.52,307.1 125.52,279.72 117.84,280.54" fill="#0993cb" stroke="#0993cb" stroke-width="0.3"/>
<polygon points="114.98,277.11 122.66,276.29 125.52,279.72 117.84,280.54" fill="#109bd2" stroke="#109bd2" stroke-width="0.3"/>
<polygon points="118.23,308.38 121.09,311.82 121.09,283.73 118.23,280.3" fill="#0886b8" stroke="#0886b8" stroke-width="0.3"/>
<polygon points="121.09,311.82 128.77,311 128.77,282.91 121.09,283.73" fill="#0993cb" stroke="#0993cb" stroke-width="0.3"/>
<polygon points="118.23,280.3 125.91,279.48 128.77,282.91 121.09,283.73" fill="#109bd2" stroke="#109bd2" stroke-width="0.3"/>
<polygon points="121.48,312.28 124.34,315.72 124.34,286.93 121.48,283.5" fill="#0886b8" stroke="#0886b8" stroke-width="0.3"/>
<polygon points="124.34,315.72 132.02,314.9 132.02,286.11 124.34,286.93" fill="#0993cb" stroke="#0993cb" stroke-width="0.3"/>
<polygon points="121.48,283.5 129.16,282.68 132.02,286.11 124.34,286.93" fill="#109bd2" stroke="#109bd2" stroke-width="0.3"/>
<polygon points="124.73,316.18 127.59,319.62 127.59,290.12 124.73,286.69" fill="#0886b8" stroke="#0886b8" stroke-width="0.3"/>
<polygon points="127.59,319.62 135.27,318.8 135.27,289.3 127.59,290.12" fill="#0993cb" stroke="#0993cb" stroke-width="0.3"/>
<polygon points="124.73,286.69 132.41,285.87 135.27,289.3 127.59,290.12" fill="#109bd2" stroke="#109bd2" stroke-width="0.3"/>
<polygon points="127.98,320.08 130.84,323.52 130.84,293.32 127.98,289.89" fill="#0886b8" stroke="#0886b8" stroke-width="0.3"/>
<polygon points="130.84,323.52 138.52,322.7 138.52,292.5 130.84,293.32" fill="#0993cb" stroke="#0993cb" stroke-width="0.3"/>
<polygon points="127.98,289.89 135.66,289.07 138.52,292.5 130.84,293.32" fill="#109bd2" stroke="#109bd2" stroke-width="0.3"/>
<polygon points="131.23,323.98 134.09,327.42 134.09,296.51 131.23,293.08" fill="#0886b8" stroke="#0886b8" stroke-width="0.3"/>
<polygon points="134.09,327.42 141.77,326.6 141.77,295.69 134.09,296.51" fill="#0993cb" stroke="#0993cb" stroke-width="0.3"/>
<polygon points="131.23,293.08 138.91,292.26 141.77,295.69 134.09,296.51" fill="#109bd2" stroke="#109bd2" stroke-width="0.3"/>
<polygon points="134.48,327.88 137.34,331.32 137.34,299.71 134.48,296.28" fill="#0886b8" stroke="#0886b8" stroke-width="0.3"/>
<polygon points="137.34,331.32 145.02,330.5 145.02,298.89 137.34,299.71" fill="#0993cb" stroke="#0993cb" stroke-width="0.3"/>
<polygon points="134.48,296.28 142.16,295.46 145.02,298.89 137.34,299.71" fill="#109bd2" stroke="#109bd2" stroke-width="0.3"/>
<polygon points="137.73,331.78 140.59,335.22 140.59,302.9 137.73,299.47" fill="#0886b8" stroke="#0886b8" stroke-width="0.3"/>
<polygon points="140.59,335.22 148.27,334.4 148.27,302.08 140.59,302.9" fill="#0993cb" stroke="#0993cb" stroke-width="0.3"/>
<polygon points="137.73,299.47 145.41,298.65 148.27,302.08 140.59,302.9" fill="#109bd2" stroke="#109bd2" stroke-width="0.3"/>
<polygon points="140.98,335.68 143.84,339.12 143.84,306.1 140.98,302.66" fill="#0886b8" stroke="#0886b8" stroke-width="0.3"/>
<polygon points="143.84,339.12 151.52,338.3 151.52,305.28 143.84,306.1" fill="#0993cb" stroke="#0993cb" stroke-width="0.3"/>
<polygon points="140.98,302.66 148.66,301.84 151.52,305.28 143.84,306.1" fill="#109bd2" stroke="#109bd2" stroke-width="0.3"/>
<polygon points="102.14,301.61 105,305.04 105,265.67 102.14,262.24" fill="#1277ba" stroke="#1277ba" stroke-width="0.3"/>
<polygon points="105,305.04 112.68,304.22 112.68,264.85 105,265.67" fill="#1383cd" stroke="#1383cd" stroke-width="0.3"/>
<polygon points="102.14,262.24 109.82,261.42 112.68,264.85 105,265.67" fill="#1b8bd4" stroke="#1b8bd4" stroke-width="0.3"/>
<polygon points="105.4,305.51 108.25,308.94 108.25,269.15 105.4,265.72" fill="#1277ba" stroke="#1277ba" stroke-width="0.3"/>
<polygon points="108.25,308.94 115.93,308.12 115.93,268.33 108.25,269.15" fill="#1383cd" stroke="#1383cd" stroke-width="0.3"/>
<polygon points="105.4,265.72 113.07,264.9 115.93,268.33 108.25,269.15" fill="#1b8bd4" stroke="#1b8bd4" stroke-width="0.3"/>
<polygon points="108.65,309.41 111.5,312.84 111.5,272.62 108.65,269.19" fill="#1277ba" stroke="#1277ba" stroke-width="0.3"/>
<polygon points="111.5,312.84 119.18,312.02 119.18,271.8 111.5,272.62" fill="#1383cd" stroke="#1383cd" stroke-width="0.3"/>
<polygon points="108.65,269.19 116.32,268.37 119.18,271.8 111.5,272.62" fill="#1b8bd4" stroke="#1b8bd4" stroke-width="0.3"/>
<polygon points="111.9,313.31 114.75,316.74 114.75,276.1 111.9,272.67" fill="#1277ba" stroke="#1277ba" stroke-width="0.3"/>
<polygon points="114.75,316.74 122.43,315.92 122.43,275.28 114.75,276.1" fill="#1383cd" stroke="#1383cd" stroke-width="0.3"/>
<polygon points="111.9,272.67 119.57,271.85 122.43,275.28 114.75,276.1" fill="#1b8bd4" stroke="#1b8bd4" stroke-width="0.3"/>
<polygon points="115.14,317.21 118,320.64 118,279.58 115.14,276.15" fill="#1277ba" stroke="#1277ba" stroke-width="0.3"/>
<polygon points="118,320.64 125.68,319.82 125.68,278.76 118,279.58" fill="#1383cd" stroke="#1383cd" stroke-width="0.3"/>
<polygon points="115.14,276.15 122.82,275.33 125.68,278.76 118,279.58" fill="#1b8bd4" stroke="#1b8bd4" stroke-width="0.3"/>
<polygon points="118.4,321.11 121.25,324.54 121.25,283.05 118.4,279.62" fill="#1277ba" stroke="#1277ba" stroke-width="0.3"/>
<polygon points="121.25,324.54 128.93,323.72 128.93,282.23 121.25,283.05" fill="#1383cd" stroke="#1383cd" stroke-width="0.3"/>
<polygon points="118.4,279.62 126.07,278.8 128.93,282.23 121.25,283.05" fill="#1b8bd4" stroke="#1b8bd4" stroke-width="0.3"/>
<polygon points="121.65,325.01 124.5,328.44 124.5,286.53 121.65,283.1" fill="#1277ba" stroke="#1277ba" stroke-width="0.3"/>
<polygon points="124.5,328.44 132.18,327.62 132.18,285.71 124.5,286.53" fill="#1383cd" stroke="#1383cd" stroke-width="0.3"/>
<polygon points="121.65,283.1 129.32,282.28 132.18,285.71 124.5,286.53" fill="#1b8bd4" stroke="#1b8bd4" stroke-width="0.3"/>
<polygon points="124.9,328.91 127.75,332.34 127.75,290.01 124.9,286.58" fill="#1277ba" stroke="#1277ba" stroke-width="0.3"/>
<polygon points="127.75,332.34 135.43,331.52 135.43,289.19 127.75,290.01" fill="#1383cd" stroke="#1383cd" stroke-width="0.3"/>
<polygon points="124.9,286.58 132.57,285.76 135.43,289.19 127.75,290.01" fill="#1b8bd4" stroke="#1b8bd4" stroke-width="0.3"/>
<polygon points="128.15,332.81 131,336.24 131,293.48 128.15,290.05" fill="#1277ba" stroke="#1277ba" stroke-width="0.3"/>
<polygon points="131,336.24 138.68,335.42 138.68,292.66 131,293.48" fill="#1383cd" stroke="#1383cd" stroke-width="0.3"/>
<polygon points="128.15,290.05 135.82,289.23 138.68,292.66 131,293.48" fill="#1b8bd4" stroke="#1b8bd4" stroke-width="0.3"/>
<polygon points="131.4,336.71 134.25,340.14 134.25,296.96 131.4,293.53" fill="#1277ba" stroke="#1277ba" stroke-width="0.3"/>
<polygon points="134.25,340.14 141.93,339.32 141.93,296.14 134.25,296.96" fill="#1383cd" stroke="#1383cd" stroke-width="0.3"/>
<polygon points="131.4,293.53 139.07,292.71 141.93,296.14 134.25,296.96" fill="#1b8bd4" stroke="#1b8bd4" stroke-width="0.3"/>
<polygon points="92.55,302.63 95.41,306.07 95.41,252.09 92.55,248.66" fill="#0f6bc0" stroke="#0f6bc0" stroke-width="0.3"/>
<polygon points="95.41,306.07 103.09,305.25 103.09,251.27 95.41,252.09" fill="#1076d3" stroke="#1076d3" stroke-width="0.3"/>
<polygon points="92.55,248.66 100.23,247.84 103.09,251.27 95.41,252.09" fill="#187edb" stroke="#187edb" stroke-width="0.3"/>
<polygon points="95.81,306.53 98.66,309.97 98.66,255.5 95.81,252.07" fill="#0f6bc0" stroke="#0f6bc0" stroke-width="0.3"/>
<polygon points="98.66,309.97 106.34,309.15 106.34,254.68 98.66,255.5" fill="#1076d3" stroke="#1076d3" stroke-width="0.3"/>
<polygon points="95.81,252.07 103.48,251.25 106.34,254.68 98.66,255.5" fill="#187edb" stroke="#187edb" stroke-width="0.3"/>
<polygon points="99.06,310.43 101.91,313.87 101.91,258.9 99.06,255.47" fill="#0f6bc0" stroke="#0f6bc0" stroke-width="0.3"/>
<polygon points="101.91,313.87 109.59,313.05 109.59,258.08 101.91,258.9" fill="#1076d3" stroke="#1076d3" stroke-width="0.3"/>
<polygon points="99.06,255.47 106.73,254.65 109.59,258.08 101.91,258.9" fill="#187edb" stroke="#187edb" stroke-width="0.3"/>
<polygon points="102.31,314.33 105.16,317.77 105.16,262.31 102.31,258.88" fill="#0f6bc0" stroke="#0f6bc0" stroke-width="0.3"/>
<polygon points="105.16,317.77 112.84,316.95 112.84,261.49 105.16,262.31" fill="#1076d3" stroke="#1076d3" stroke-width="0.3"/>
<polygon points="102.31,258.88 109.98,258.06 112.84,261.49 105.16,262.31" fill="#187edb" stroke="#187edb" stroke-width="0.3"/>
<polygon points="105.55,318.23 108.41,321.67 108.41,265.72 105.55,262.28" fill="#0f6bc0" stroke="#0f6bc0" stroke-width="0.3"/>
<polygon points="108.41,321.67 116.09,320.85 116.09,264.9 108.41,265.72" fill="#1076d3" stroke="#1076d3" stroke-width="0.3"/>
<polygon points="105.55,262.28 113.23,261.46 116.09,264.9 108.41,265.72" fill="#187edb" stroke="#187edb" stroke-width="0.3"/>
<polygon points="108.81,322.13 111.66,325.57 111.66,269.12 108.81,265.69" fill="#0f6bc0" stroke="#0f6bc0" stroke-width="0.3"/>
<polygon points="111.66,325.57 119.34,324.75 119.34,268.3 111.66,269.12" fill="#1076d3" stroke="#1076d3" stroke-width="0.3"/>
<polygon points="108.81,265.69 116.48,264.87 119.34,268.3 111.66,269.12" fill="#187edb" stroke="#187edb" stroke-width="0.3"/>
<polygon points="112.06,326.03 114.91,329.47 114.91,272.53 112.06,269.1" fill="#0f6bc0" stroke="#0f6bc0" stroke-width="0.3"/>
<polygon points="114.91,329.47 122.59,328.65 122.59,271.71 114.91,272.53" fill="#1076d3" stroke="#1076d3" stroke-width="0.3"/>
<polygon points="112.06,269.1 119.73,268.28 122.59,271.71 114.91,272.53" fill="#187edb" stroke="#187edb" stroke-width="0.3"/>
<polygon points="115.31,329.93 118.16,333.37 118.16,275.93 115.31,272.5" fill="#0f6bc0" stroke="#0f6bc0" stroke-width="0.3"/>
<polygon points="118.16,333.37 125.84,332.55 125.84,275.11 118.16,275.93" fill="#1076d3" stroke="#1076d3" stroke-width="0.3"/>
<polygon points="115.31,272.5 122.98,271.68 125.84,275.11 118.16,275.93" fill="#187edb" stroke="#187edb" stroke-width="0.3"/>
<polygon points="118.56,333.83 121.42,337.27 121.42,279.34 118.56,275.91" fill="#0f6bc0" stroke="#0f6bc0" stroke-width="0.3"/>
<polygon points="121.42,337.27 129.09,336.45 129.09,278.52 121.42,279.34" fill="#1076d3" stroke="#1076d3" stroke-width="0.3"/>
<polygon points="118.56,275.91 126.23,275.09 129.09,278.52 121.42,279.34" fill="#187edb" stroke="#187edb" stroke-width="0.3"/>
<polygon points="121.81,337.73 124.67,341.17 124.67,282.75 121.81,279.31" fill="#0f6bc0" stroke="#0f6bc0" stroke-width="0.3"/>
<polygon points="124.67,341.17 132.34,340.35 132.34,281.93 124.67,282.75" fill="#1076d3" stroke="#1076d3" stroke-width="0.3"/>
<polygon points="121.81,279.31 129.48,278.49 132.34,281.93 124.67,282.75" fill="#187edb" stroke="#187edb" stroke-width="0.3"/>
<polygon points="82.96,303.66 85.82,307.09 85.82,262.64 82.96,259.21" fill="#0460c5" stroke="#0460c5" stroke-width="0.3"/>
<polygon points="85.82,307.09 93.5,306.27 93.5,261.82 85.82,262.64" fill="#046ad9" stroke="#046ad9" stroke-width="0.3"/>
<polygon points="82.96,259.21 90.64,258.39 93.5,261.82 85.82,262.64" fill="#0c71e1" stroke="#0c71e1" stroke-width="0.3"/>
<polygon points="86.22,307.56 89.07,310.99 89.07,266.12 86.22,262.69" fill="#0460c5" stroke="#0460c5" stroke-width="0.3"/>
<polygon points="89.07,310.99 96.75,310.17 96.75,265.3 89.07,266.12" fill="#046ad9" stroke="#046ad9" stroke-width="0.3"/>
<polygon points="86.22,262.69 93.89,261.87 96.75,265.3 89.07,266.12" fill="#0c71e1" stroke="#0c71e1" stroke-width="0.3"/>
<polygon points="89.47,311.46 92.32,314.89 92.32,269.59 89.47,266.16" fill="#0460c5" stroke="#0460c5" stroke-width="0.3"/>
<polygon points="92.32,314.89 100,314.07 100,268.77 92.32,269.59" fill="#046ad9" stroke="#046ad9" stroke-width="0.3"/>
<polygon points="89.47,266.16 97.14,265.34 100,268.77 92.32,269.59" fill="#0c71e1" stroke="#0c71e1" stroke-width="0.3"/>
<polygon points="92.72,315.36 95.57,318.79 95.57,273.07 92.72,269.64" fill="#0460c5" stroke="#0460c5" stroke-width="0.3"/>
<polygon points="95.57,318.79 103.25,317.97 103.25,272.25 95.57,273.07" fill="#046ad9" stroke="#046ad9" stroke-width="0.3"/>
<polygon points="92.72,269.64 100.39,268.82 103.25,272.25 95.57,273.07" fill="#0c71e1" stroke="#0c71e1" stroke-width="0.3"/>
<polygon points="95.96,319.26 98.82,322.69 98.82,276.55 95.96,273.12" fill="#0460c5" stroke="#0460c5" stroke-width="0.3"/>
<polygon points="98.82,322.69 106.5,321.87 106.5,275.73 98.82,276.55" fill="#046ad9" stroke="#046ad9" stroke-width="0.3"/>
<polygon points="95.96,273.12 103.64,272.3 106.5,275.73 98.82,276.55" fill="#0c71e1" stroke="#0c71e1" stroke-width="0.3"/>
<polygon points="99.22,323.16 102.07,326.59 102.07,280.02 99.22,276.59" fill="#0460c5" stroke="#0460c5" stroke-width="0.3"/>
<polygon points="102.07,326.59 109.75,325.77 109.75,279.2 102.07,280.02" fill="#046ad9" stroke="#046ad9" stroke-width="0.3"/>
<polygon points="99.22,276.59 106.89,275.77 109.75,279.2 102.07,280.02" fill="#0c71e1" stroke="#0c71e1" stroke-width="0.3"/>
<polygon points="102.47,327.06 105.32,330.49 105.32,283.5 102.47,280.07" fill="#0460c5" stroke="#0460c5" stroke-width="0.3"/>
<polygon points="105.32,330.49 113,329.67 113,282.68 105.32,283.5" fill="#046ad9" stroke="#046ad9" stroke-width="0.3"/>
<polygon points="102.47,280.07 110.14,279.25 113,282.68 105.32,283.5" fill="#0c71e1" stroke="#0c71e1" stroke-width="0.3"/>
<polygon points="105.72,330.96 108.57,334.39 108.57,286.98 105.72,283.55" fill="#0460c5" stroke="#0460c5" stroke-width="0.3"/>
<polygon points="108.57,334.39 116.25,333.57 116.25,286.16 108.57,286.98" fill="#046ad9" stroke="#046ad9" stroke-width="0.3"/>
<polygon points="105.72,283.55 113.39,282.73 116.25,286.16 108.57,286.98" fill="#0c71e1" stroke="#0c71e1" stroke-width="0.3"/>
<polygon points="108.97,334.86 111.83,338.29 111.83,290.45 108.97,287.02" fill="#0460c5" stroke="#0460c5" stroke-width="0.3"/>
<polygon points="111.83,338.29 119.5,337.47 119.5,289.63 111.83,290.45" fill="#046ad9" stroke="#046ad9" stroke-width="0.3"/>
<polygon points="108.97,287.02 116.64,286.2 119.5,289.63 111.83,290.45" fill="#0c71e1" stroke="#0c71e1" stroke-width="0.3"/>
<polygon points="112.22,338.76 115.08,342.19 115.08,293.93 112.22,290.5" fill="#0460c5" stroke="#0460c5" stroke-width="0.3"/>
<polygon points="115.08,342.19 122.75,341.37 122.75,293.11 115.08,293.93" fill="#046ad9" stroke="#046ad9" stroke-width="0.3"/>
<polygon points="112.22,290.5 119.89,289.68 122.75,293.11 115.08,293.93" fill="#0c71e1" stroke="#0c71e1" stroke-width="0.3"/>
<polygon points="73.38,304.68 76.24,308.12 76.24,264.94 73.38,261.5" fill="#124dc0" stroke="#124dc0" stroke-width="0.3"/>
<polygon points="76.24,308.12 83.91,307.3 83.91,264.12 76.24,264.94" fill="#1455d3" stroke="#1455d3" stroke-width="0.3"/>
<polygon points="73.38,261.5 81.05,260.68 83.91,264.12 76.24,264.94" fill="#1c5ddb" stroke="#1c5ddb" stroke-width="0.3"/>
<polygon points="76.62,308.58 79.49,312.02 79.49,268.55 76.62,265.12" fill="#124dc0" stroke="#124dc0" stroke-width="0.3"/>
<polygon points="79.49,312.02 87.16,311.2 87.16,267.73 79.49,268.55" fill="#1455d3" stroke="#1455d3" stroke-width="0.3"/>
<polygon points="76.62,265.12 84.3,264.3 87.16,267.73 79.49,268.55" fill="#1c5ddb" stroke="#1c5ddb" stroke-width="0.3"/>
<polygon points="79.88,312.48 82.74,315.92 82.74,272.17 79.88,268.74" fill="#124dc0" stroke="#124dc0" stroke-width="0.3"/>
<polygon points="82.74,315.92 90.41,315.1 90.41,271.35 82.74,272.17" fill="#1455d3" stroke="#1455d3" stroke-width="0.3"/>
<polygon points="79.88,268.74 87.55,267.92 90.41,271.35 82.74,272.17" fill="#1c5ddb" stroke="#1c5ddb" stroke-width="0.3"/>
<polygon points="83.12,316.38 85.99,319.82 85.99,275.79 83.12,272.36" fill="#124dc0" stroke="#124dc0" stroke-width="0.3"/>
<polygon points="85.99,319.82 93.66,319 93.66,274.97 85.99,275.79" fill="#1455d3" stroke="#1455d3" stroke-width="0.3"/>
<polygon points="83.12,272.36 90.8,271.54 93.66,274.97 85.99,275.79" fill="#1c5ddb" stroke="#1c5ddb" stroke-width="0.3"/>
<polygon points="86.38,320.28 89.24,323.72 89.24,279.41 86.38,275.98" fill="#124dc0" stroke="#124dc0" stroke-width="0.3"/>
<polygon points="89.24,323.72 96.91,322.9 96.91,278.59 89.24,279.41" fill="#1455d3" stroke="#1455d3" stroke-width="0.3"/>
<polygon points="86.38,275.98 94.05,275.16 96.91,278.59 89.24,279.41" fill="#1c5ddb" stroke="#1c5ddb" stroke-width="0.3"/>
<polygon points="89.62,324.18 92.49,327.62 92.49,283.02 89.62,279.59" fill="#124dc0" stroke="#124dc0" stroke-width="0.3"/>
<polygon points="92.49,327.62 100.16,326.8 100.16,282.2 92.49,283.02" fill="#1455d3" stroke="#1455d3" stroke-width="0.3"/>
<polygon points="89.62,279.59 97.3,278.77 100.16,282.2 92.49,283.02" fill="#1c5ddb" stroke="#1c5ddb" stroke-width="0.3"/>
<polygon points="92.88,328.08 95.74,331.52 95.74,286.64 92.88,283.21" fill="#124dc0" stroke="#124dc0" stroke-width="0.3"/>
<polygon points="95.74,331.52 103.41,330.7 103.41,285.82 95.74,286.64" fill="#1455d3" stroke="#1455d3" stroke-width="0.3"/>
<polygon points="92.88,283.21 100.55,282.39 103.41,285.82 95.74,286.64" fill="#1c5ddb" stroke="#1c5ddb" stroke-width="0.3"/>
<polygon points="96.12,331.98 98.99,335.42 98.99,290.26 96.12,286.83" fill="#124dc0" stroke="#124dc0" stroke-width="0.3"/>
<polygon points="98.99,335.42 106.66,334.6 106.66,289.44 98.99,290.26" fill="#1455d3" stroke="#1455d3" stroke-width="0.3"/>
<polygon points="96.12,286.83 103.8,286.01 106.66,289.44 98.99,290.26" fill="#1c5ddb" stroke="#1c5ddb" stroke-width="0.3"/>
<polygon points="99.38,335.88 102.24,339.32 102.24,293.88 99.38,290.45" fill="#124dc0" stroke="#124dc0" stroke-width="0.3"/>
<polygon points="102.24,339.32 109.91,338.5 109.91,293.06 102.24,293.88" fill="#1455d3" stroke="#1455d3" stroke-width="0.3"/>
<polygon points="99.38,290.45 107.05,289.63 109.91,293.06 102.24,293.88" fill="#1c5ddb" stroke="#1c5ddb" stroke-width="0.3"/>
<polygon points="102.62,339.78 105.49,343.22 105.49,297.5 102.62,294.06" fill="#124dc0" stroke="#124dc0" stroke-width="0.3"/>
<polygon points="105.49,343.22 113.16,342.4 113.16,296.68 105.49,297.5" fill="#1455d3" stroke="#1455d3" stroke-width="0.3"/>
<polygon points="102.62,294.06 110.3,293.24 113.16,296.68 105.49,297.5" fill="#1c5ddb" stroke="#1c5ddb" stroke-width="0.3"/>
<polygon points="63.79,305.71 66.65,309.14 66.65,291.36 63.79,287.93" fill="#2e379c" stroke="#2e379c" stroke-width="0.3"/>
<polygon points="66.65,309.14 74.32,308.32 74.32,290.54 66.65,291.36" fill="#323dac" stroke="#323dac" stroke-width="0.3"/>
<polygon points="63.79,287.93 71.46,287.11 74.32,290.54 66.65,291.36" fill="#3a45b3" stroke="#3a45b3" stroke-width="0.3"/>
<polygon points="67.03,309.61 69.9,313.04 69.9,295.26 67.03,291.83" fill="#2e379c" stroke="#2e379c" stroke-width="0.3"/>
<polygon points="69.9,313.04 77.57,312.22 77.57,294.44 69.9,295.26" fill="#323dac" stroke="#323dac" stroke-width="0.3"/>
<polygon points="67.03,291.83 74.71,291.01 77.57,294.44 69.9,295.26" fill="#3a45b3" stroke="#3a45b3" stroke-width="0.3"/>
<polygon points="70.28,313.51 73.15,316.94 73.15,299.16 70.28,295.73" fill="#2e379c" stroke="#2e379c" stroke-width="0.3"/>
<polygon points="73.15,316.94 80.82,316.12 80.82,298.34 73.15,299.16" fill="#323dac" stroke="#323dac" stroke-width="0.3"/>
<polygon points="70.28,295.73 77.96,294.91 80.82,298.34 73.15,299.16" fill="#3a45b3" stroke="#3a45b3" stroke-width="0.3"/>
<polygon points="73.53,317.41 76.4,320.84 76.4,303.06 73.53,299.63" fill="#2e379c" stroke="#2e379c" stroke-width="0.3"/>
<polygon points="76.4,320.84 84.07,320.02 84.07,302.24 76.4,303.06" fill="#323dac" stroke="#323dac" stroke-width="0.3"/>
<polygon points="73.53,299.63 81.21,298.81 84.07,302.24 76.4,303.06" fill="#3a45b3" stroke="#3a45b3" stroke-width="0.3"/>
<polygon points="76.78,321.31 79.65,324.74 79.65,306.96 76.78,303.53" fill="#2e379c" stroke="#2e379c" stroke-width="0.3"/>
<polygon points="79.65,324.74 87.32,323.92 87.32,306.14 79.65,306.96" fill="#323dac" stroke="#323dac" stroke-width="0.3"/>
<polygon points="76.78,303.53 84.46,302.71 87.32,306.14 79.65,306.96" fill="#3a45b3" stroke="#3a45b3" stroke-width="0.3"/>
<polygon points="80.03,325.21 82.9,328.64 82.9,310.86 80.03,307.43" fill="#2e379c" stroke="#2e379c" stroke-width="0.3"/>
<polygon points="82.9,328.64 90.57,327.82 90.57,310.04 82.9,310.86" fill="#323dac" stroke="#323dac" stroke-width="0.3"/>
<polygon points="80.03,307.43 87.71,306.61 90.57,310.04 82.9,310.86" fill="#3a45b3" stroke="#3a45b3" stroke-width="0.3"/>
<polygon points="83.28,329.11 86.15,332.54 86.15,314.76 83.28,311.33" fill="#2e379c" stroke="#2e379c" stroke-width="0.3"/>
<polygon points="86.15,332.54 93.82,331.72 93.82,313.94 86.15,314.76" fill="#323dac" stroke="#323dac" stroke-width="0.3"/>
<polygon points="83.28,311.33 90.96,310.51 93.82,313.94 86.15,314.76" fill="#3a45b3" stroke="#3a45b3" stroke-width="0.3"/>
<polygon points="86.53,333.01 89.4,336.44 89.4,318.66 86.53,315.23" fill="#2e379c" stroke="#2e379c" stroke-width="0.3"/>
<polygon points="89.4,336.44 97.07,335.62 97.07,317.84 89.4,318.66" fill="#323dac" stroke="#323dac" stroke-width="0.3"/>
<polygon points="86.53,315.23 94.21,314.41 97.07,317.84 89.4,318.66" fill="#3a45b3" stroke="#3a45b3" stroke-width="0.3"/>
<polygon points="89.78,336.91 92.65,340.34 92.65,322.56 89.78,319.13" fill="#2e379c" stroke="#2e379c" stroke-width="0.3"/>
<polygon points="92.65,340.34 100.32,339.52 100.32,321.74 92.65,322.56" fill="#323dac" stroke="#323dac" stroke-width="0.3"/>
<polygon points="89.78,319.13 97.46,318.31 100.32,321.74 92.65,322.56" fill="#3a45b3" stroke="#3a45b3" stroke-width="0.3"/>
<polygon points="93.03,340.81 95.9,344.24 95.9,326.46 93.03,323.03" fill="#2e379c" stroke="#2e379c" stroke-width="0.3"/>
<polygon points="95.9,344.24 103.57,343.42 103.57,325.64 95.9,326.46" fill="#323dac" stroke="#323dac" stroke-width="0.3"/>
<polygon points="93.03,323.03 100.71,322.21 103.57,325.64 95.9,326.46" fill="#3a45b3" stroke="#3a45b3" stroke-width="0.3"/>
<polygon points="54.2,306.73 57.05,310.17 57.05,263.81 54.2,260.38" fill="#2f2577" stroke="#2f2577" stroke-width="0.3"/>
<polygon points="57.05,310.17 64.73,309.35 64.73,262.99 57.05,263.81" fill="#332983" stroke="#332983" stroke-width="0.3"/>
<polygon points="54.2,260.38 61.87,259.56 64.73,262.99 57.05,263.81" fill="#3b308b" stroke="#3b308b" stroke-width="0.3"/>
<polygon points="57.45,310.63 60.3,314.07 60.3,267.71 57.45,264.28" fill="#2f2577" stroke="#2f2577" stroke-width="0.3"/>
<polygon points="60.3,314.07 67.98,313.25 67.98,266.89 60.3,267.71" fill="#332983" stroke="#332983" stroke-width="0.3"/>
<polygon points="57.45,264.28 65.12,263.46 67.98,266.89 60.3,267.71" fill="#3b308b" stroke="#3b308b" stroke-width="0.3"/>
<polygon points="60.7,314.53 63.55,317.97 63.55,294.47 60.7,291.04" fill="#2f2577" stroke="#2f2577" stroke-width="0.3"/>
<polygon points="63.55,317.97 71.23,317.15 71.23,293.65 63.55,294.47" fill="#332983" stroke="#332983" stroke-width="0.3"/>
<polygon points="60.7,291.04 68.37,290.22 71.23,293.65 63.55,294.47" fill="#3b308b" stroke="#3b308b" stroke-width="0.3"/>
<polygon points="63.95,318.43 66.81,321.87 66.81,298.37 63.95,294.94" fill="#2f2577" stroke="#2f2577" stroke-width="0.3"/>
<polygon points="66.81,321.87 74.48,321.05 74.48,297.55 66.81,298.37" fill="#332983" stroke="#332983" stroke-width="0.3"/>
<polygon points="63.95,294.94 71.62,294.12 74.48,297.55 66.81,298.37" fill="#3b308b" stroke="#3b308b" stroke-width="0.3"/>
<polygon points="67.19,322.33 70.06,325.77 70.06,302.27 67.19,298.84" fill="#2f2577" stroke="#2f2577" stroke-width="0.3"/>
<polygon points="70.06,325.77 77.73,324.95 77.73,301.45 70.06,302.27" fill="#332983" stroke="#332983" stroke-width="0.3"/>
<polygon points="67.19,298.84 74.87,298.02 77.73,301.45 70.06,302.27" fill="#3b308b" stroke="#3b308b" stroke-width="0.3"/>
<polygon points="70.44,326.23 73.31,329.67 73.31,306.17 70.44,302.74" fill="#2f2577" stroke="#2f2577" stroke-width="0.3"/>
<polygon points="73.31,329.67 80.98,328.85 80.98,305.35 73.31,306.17" fill="#332983" stroke="#332983" stroke-width="0.3"/>
<polygon points="70.44,302.74 78.12,301.92 80.98,305.35 73.31,306.17" fill="#3b308b" stroke="#3b308b" stroke-width="0.3"/>
<polygon points="73.69,330.13 76.56,333.57 76.56,310.07 73.69,306.64" fill="#2f2577" stroke="#2f2577" stroke-width="0.3"/>
<polygon points="76.56,333.57 84.23,332.75 84.23,309.25 76.56,310.07" fill="#332983" stroke="#332983" stroke-width="0.3"/>
<polygon points="73.69,306.64 81.37,305.82 84.23,309.25 76.56,310.07" fill="#3b308b" stroke="#3b308b" stroke-width="0.3"/>
<polygon points="76.94,334.03 79.81,337.47 79.81,313.97 76.94,310.54" fill="#2f2577" stroke="#2f2577" stroke-width="0.3"/>
<polygon points="79.81,337.47 87.48,336.65 87.48,313.15 79.81,313.97" fill="#332983" stroke="#332983" stroke-width="0.3"/>
<polygon points="76.94,310.54 84.62,309.72 87.48,313.15 79.81,313.97" fill="#3b308b" stroke="#3b308b" stroke-width="0.3"/>
<polygon points="80.19,337.93 83.06,341.37 83.06,317.87 80.19,314.44" fill="#2f2577" stroke="#2f2577" stroke-width="0.3"/>
<polygon points="83.06,341.37 90.73,340.55 90.73,317.05 83.06,317.87" fill="#332983" stroke="#332983" stroke-width="0.3"/>
<polygon points="80.19,314.44 87.87,313.62 90.73,317.05 83.06,317.87" fill="#3b308b" stroke="#3b308b" stroke-width="0.3"/>
<polygon points="83.44,341.83 86.31,345.27 86.31,321.77 83.44,318.34" fill="#2f2577" stroke="#2f2577" stroke-width="0.3"/>
<polygon points="86.31,345.27 93.98,344.45 93.98,320.95 86.31,321.77" fill="#332983" stroke="#332983" stroke-width="0.3"/>
<polygon points="83.44,318.34 91.12,317.52 93.98,320.95 86.31,321.77" fill="#3b308b" stroke="#3b308b" stroke-width="0.3"/>
<line x1="278.3" y1="325" x2="278.3" y2="261.5" stroke="#c8c8c8" stroke-width="0.6"/>
<line x1="54" y1="306.5" x2="86.5" y2="345.5" stroke="#bbb" stroke-width="0.6"/>
<line x1="86.5" y1="345.5" x2="278.3" y2="325" stroke="#bbb" stroke-width="0.6"/>
<text x="50.5" y="241.1" font-size="6.8" fill="#222" font-weight="bold" text-anchor="end" font-family='"Liberation Sans", sans-serif' >100</text>
<text x="50.5" y="253.4" font-size="6.8" fill="#222" font-weight="bold" text-anchor="end" font-family='"Liberation Sans", sans-serif' >80</text>
<text x="50.5" y="266.2" font-size="6.8" fill="#222" font-weight="bold" text-anchor="end" font-family='"Liberation Sans", sans-serif' >60</text>
<text x="50.5" y="279.2" font-size="6.8" fill="#222" font-weight="bold" text-anchor="end" font-family='"Liberation Sans", sans-serif' >40</text>
<text x="50.5" y="292.2" font-size="6.8" fill="#222" font-weight="bold" text-anchor="end" font-family='"Liberation Sans", sans-serif' >20</text>
<text x="50.5" y="305.2" font-size="6.8" fill="#222" font-weight="bold" text-anchor="end" font-family='"Liberation Sans", sans-serif' >0</text>
<text x="45.7" y="313.2" font-size="6.8" fill="#222" font-weight="bold" text-anchor="middle" font-family='"Liberation Sans", sans-serif' >0</text>
<text x="52.2" y="321" font-size="6.8" fill="#222" font-weight="bold" text-anchor="middle" font-family='"Liberation Sans", sans-serif' >2</text>
<text x="58.7" y="328.8" font-size="6.8" fill="#222" font-weight="bold" text-anchor="middle" font-family='"Liberation Sans", sans-serif' >4</text>
<text x="65.2" y="336.6" font-size="6.8" fill="#222" font-weight="bold" text-anchor="middle" font-family='"Liberation Sans", sans-serif' >6</text>
<text x="71.7" y="344.4" font-size="6.8" fill="#222" font-weight="bold" text-anchor="middle" font-family='"Liberation Sans", sans-serif' >8</text>
<text x="76.7" y="352.2" font-size="6.8" fill="#222" font-weight="bold" text-anchor="middle" font-family='"Liberation Sans", sans-serif' >10</text>
<text x="134.95" y="351.38" font-size="6.8" fill="#222" font-weight="bold" text-anchor="middle" font-family='"Liberation Sans", sans-serif' >5</text>
<text x="185.4" y="346.25" font-size="6.8" fill="#222" font-weight="bold" text-anchor="middle" font-family='"Liberation Sans", sans-serif' >10</text>
<text x="233.35" y="341.12" font-size="6.8" fill="#222" font-weight="bold" text-anchor="middle" font-family='"Liberation Sans", sans-serif' >15</text>
<text x="281.3" y="336" font-size="6.8" fill="#222" font-weight="bold" text-anchor="middle" font-family='"Liberation Sans", sans-serif' >20</text>
<text x="25" y="259.5" font-size="6.6" fill="#111" font-weight="bold" text-anchor="middle" font-family='"Liberation Sans", sans-serif' >Fe at. %</text>
<text x="43" y="344.5" font-size="7.6" fill="#111" font-weight="bold" text-anchor="middle" font-family='"Liberation Sans", sans-serif' ># Iterations</text>
<text x="168" y="358" font-size="7.6" fill="#111" font-weight="bold" text-anchor="middle" font-family='"Liberation Sans", sans-serif' ># Nests</text>
<text x="229.5" y="231" font-size="7" fill="#111" font-weight="bold" text-anchor="middle" font-family='"Liberation Sans", sans-serif' >Fe<tspan dy="2" font-size="0.8em">x</tspan><tspan dy="-2">-Ni-Cr</tspan></text>
<line x1="44.2" y1="512" x2="44.2" y2="463" stroke="#c8c8c8" stroke-width="0.6"/>
<line x1="44.2" y1="463" x2="278.8" y2="439.5" stroke="#c8c8c8" stroke-width="0.6"/>
<line x1="278.8" y1="439.5" x2="295.42" y2="466.02" stroke="#c8c8c8" stroke-width="0.6"/>
<line x1="278.8" y1="488.5" x2="278.8" y2="439.5" stroke="#c8c8c8" stroke-width="0.6"/>
<line x1="44.2" y1="512" x2="278.8" y2="488.5" stroke="#c8c8c8" stroke-width="0.6"/>
<line x1="278.8" y1="488.5" x2="295.42" y2="515.02" stroke="#c8c8c8" stroke-width="0.6"/>
<polygon points="267.24,489.94 269.67,493.83 269.67,465.41 267.24,461.52" fill="#dbdd0c" stroke="#dbdd0c" stroke-width="0.3"/>
<polygon points="269.67,493.83 279.06,492.89 279.06,464.47 269.67,465.41" fill="#f2f30e" stroke="#f2f30e" stroke-width="0.3"/>
<polygon points="267.24,461.52 276.62,460.58 279.06,464.47 269.67,465.41" fill="#f9fb15" stroke="#f9fb15" stroke-width="0.3"/>
<polygon points="270.01,494.36 272.44,498.25 272.44,469.83 270.01,465.94" fill="#dbdd0c" stroke="#dbdd0c" stroke-width="0.3"/>
<polygon points="272.44,498.25 281.83,497.31 281.83,468.89 272.44,469.83" fill="#f2f30e" stroke="#f2f30e" stroke-width="0.3"/>
<polygon points="270.01,465.94 279.39,465 281.83,468.89 272.44,469.83" fill="#f9fb15" stroke="#f9fb15" stroke-width="0.3"/>
<polygon points="272.78,498.78 275.21,502.67 275.21,474.25 272.78,470.36" fill="#dbdd0c" stroke="#dbdd0c" stroke-width="0.3"/>
<polygon points="275.21,502.67 284.6,501.73 284.6,473.31 275.21,474.25" fill="#f2f30e" stroke="#f2f30e" stroke-width="0.3"/>
<polygon points="272.78,470.36 282.16,469.42 284.6,473.31 275.21,474.25" fill="#f9fb15" stroke="#f9fb15" stroke-width="0.3"/>
<polygon points="275.55,503.2 277.98,507.09 277.98,478.67 275.55,474.78" fill="#dbdd0c" stroke="#dbdd0c" stroke-width="0.3"/>
<polygon points="277.98,507.09 287.37,506.15 287.37,477.73 277.98,478.67" fill="#f2f30e" stroke="#f2f30e" stroke-width="0.3"/>
<polygon points="275.55,474.78 284.93,473.84 287.37,477.73 277.98,478.67" fill="#f9fb15" stroke="#f9fb15" stroke-width="0.3"/>
<polygon points="278.32,507.62 280.75,511.51 280.75,483.09 278.32,479.2" fill="#dbdd0c" stroke="#dbdd0c" stroke-width="0.3"/>
<polygon points="280.75,511.51 290.14,510.57 290.14,482.15 280.75,483.09" fill="#f2f30e" stroke="#f2f30e" stroke-width="0.3"/>
<polygon points="278.32,479.2 287.7,478.26 290.14,482.15 280.75,483.09" fill="#f9fb15" stroke="#f9fb15" stroke-width="0.3"/>
<polygon points="281.09,512.04 283.52,515.93 283.52,487.51 281.09,483.62" fill="#dbdd0c" stroke="#dbdd0c" stroke-width="0.3"/>
<polygon points="283.52,515.93 292.91,514.99 292.91,486.57 283.52,487.51" fill="#f2f30e" stroke="#f2f30e" stroke-width="0.3"/>
<polygon points="281.09,483.62 290.47,482.68 292.91,486.57 283.52,487.51" fill="#f9fb15" stroke="#f9fb15" stroke-width="0.3"/>
<polygon points="255.51,491.12 257.94,495 257.94,465.6 255.51,461.72" fill="#d8c71a" stroke="#d8c71a" stroke-width="0.3"/>
<polygon points="257.94,495 267.33,494.06 267.33,464.66 257.94,465.6" fill="#eedb1d" stroke="#eedb1d" stroke-width="0.3"/>
<polygon points="255.51,461.72 264.89,460.78 267.33,464.66 257.94,465.6" fill="#f5e325" stroke="#f5e325" stroke-width="0.3"/>
<polygon points="258.28,495.54 260.71,499.42 260.71,470.02 258.28,466.14" fill="#d8c71a" stroke="#d8c71a" stroke-width="0.3"/>
<polygon points="260.71,499.42 270.1,498.48 270.1,469.08 260.71,470.02" fill="#eedb1d" stroke="#eedb1d" stroke-width="0.3"/>
<polygon points="258.28,466.14 267.66,465.2 270.1,469.08 260.71,470.02" fill="#f5e325" stroke="#f5e325" stroke-width="0.3"/>
<polygon points="261.05,499.96 263.48,503.84 263.48,502.37 261.05,498.49" fill="#d8c71a" stroke="#d8c71a" stroke-width="0.3"/>
<polygon points="263.48,503.84 272.87,502.9 272.87,501.43 263.48,502.37" fill="#eedb1d" stroke="#eedb1d" stroke-width="0.3"/>
<polygon points="261.05,498.49 270.43,497.55 272.87,501.43 263.48,502.37" fill="#f5e325" stroke="#f5e325" stroke-width="0.3"/>
<polygon points="263.82,504.38 266.25,508.26 266.25,506.79 263.82,502.91" fill="#d8c71a" stroke="#d8c71a" stroke-width="0.3"/>
<polygon points="266.25,508.26 275.64,507.32 275.64,505.85 266.25,506.79" fill="#eedb1d" stroke="#eedb1d" stroke-width="0.3"/>
<polygon points="263.82,502.91 273.2,501.97 275.64,505.85 266.25,506.79" fill="#f5e325" stroke="#f5e325" stroke-width="0.3"/>
<polygon points="266.59,508.8 269.02,512.68 269.02,511.21 266.59,507.33" fill="#d8c71a" stroke="#d8c71a" stroke-width="0.3"/>
<polygon points="269.02,512.68 278.41,511.74 278.41,510.27 269.02,511.21" fill="#eedb1d" stroke="#eedb1d" stroke-width="0.3"/>
<polygon points="266.59,507.33 275.97,506.39 278.41,510.27 269.02,511.21" fill="#f5e325" stroke="#f5e325" stroke-width="0.3"/>
<polygon points="269.36,513.22 271.79,517.1 271.79,515.63 269.36,511.75" fill="#d8c71a" stroke="#d8c71a" stroke-width="0.3"/>
<polygon points="271.79,517.1 281.18,516.16 281.18,514.69 271.79,515.63" fill="#eedb1d" stroke="#eedb1d" stroke-width="0.3"/>
<polygon points="269.36,511.75 278.74,510.81 281.18,514.69 271.79,515.63" fill="#f5e325" stroke="#f5e325" stroke-width="0.3"/>
<polygon points="243.78,492.29 246.21,496.18 246.21,463.84 243.78,459.95" fill="#ddb727" stroke="#ddb727" stroke-width="0.3"/>
<polygon points="246.21,496.18 255.6,495.24 255.6,462.9 246.21,463.84" fill="#f3ca2b" stroke="#f3ca2b" stroke-width="0.3"/>
<polygon points="243.78,459.95 253.16,459.01 255.6,462.9 246.21,463.84" fill="#fbd132" stroke="#fbd132" stroke-width="0.3"/>
<polygon points="246.55,496.71 248.98,500.6 248.98,468.26 246.55,464.37" fill="#ddb727" stroke="#ddb727" stroke-width="0.3"/>
<polygon points="248.98,500.6 258.37,499.66 258.37,467.32 248.98,468.26" fill="#f3ca2b" stroke="#f3ca2b" stroke-width="0.3"/>
<polygon points="246.55,464.37 255.93,463.43 258.37,467.32 248.98,468.26" fill="#fbd132" stroke="#fbd132" stroke-width="0.3"/>
<polygon points="249.32,501.13 251.75,505.02 251.75,472.68 249.32,468.79" fill="#ddb727" stroke="#ddb727" stroke-width="0.3"/>
<polygon points="251.75,505.02 261.14,504.08 261.14,471.74 251.75,472.68" fill="#f3ca2b" stroke="#f3ca2b" stroke-width="0.3"/>
<polygon points="249.32,468.79 258.7,467.85 261.14,471.74 251.75,472.68" fill="#fbd132" stroke="#fbd132" stroke-width="0.3"/>
<polygon points="252.09,505.55 254.52,509.44 254.52,477.1 252.09,473.21" fill="#ddb727" stroke="#ddb727" stroke-width="0.3"/>
<polygon points="254.52,509.44 263.91,508.5 263.91,476.16 254.52,477.1" fill="#f3ca2b" stroke="#f3ca2b" stroke-width="0.3"/>
<polygon points="252.09,473.21 261.47,472.27 263.91,476.16 254.52,477.1" fill="#fbd132" stroke="#fbd132" stroke-width="0.3"/>
<polygon points="254.86,509.97 257.29,513.86 257.29,481.52 254.86,477.63" fill="#ddb727" stroke="#ddb727" stroke-width="0.3"/>
<polygon points="257.29,513.86 266.68,512.92 266.68,480.58 257.29,481.52" fill="#f3ca2b" stroke="#f3ca2b" stroke-width="0.3"/>
<polygon points="254.86,477.63 264.24,476.69 266.68,480.58 257.29,481.52" fill="#fbd132" stroke="#fbd132" stroke-width="0.3"/>
<polygon points="257.63,514.39 260.06,518.28 260.06,485.94 257.63,482.05" fill="#ddb727" stroke="#ddb727" stroke-width="0.3"/>
<polygon points="260.06,518.28 269.45,517.34 269.45,485 260.06,485.94" fill="#f3ca2b" stroke="#f3ca2b" stroke-width="0.3"/>
<polygon points="257.63,482.05 267.01,481.11 269.45,485 260.06,485.94" fill="#fbd132" stroke="#fbd132" stroke-width="0.3"/>
<polygon points="232.05,493.47 234.48,497.35 234.48,457.17 232.05,453.29" fill="#dfa736" stroke="#dfa736" stroke-width="0.3"/>
<polygon points="234.48,497.35 243.87,496.41 243.87,456.23 234.48,457.17" fill="#f5b83b" stroke="#f5b83b" stroke-width="0.3"/>
<polygon points="232.05,453.29 241.43,452.35 243.87,456.23 234.48,457.17" fill="#fdc043" stroke="#fdc043" stroke-width="0.3"/>
<polygon points="234.82,497.89 237.25,501.77 237.25,461.59 234.82,457.71" fill="#dfa736" stroke="#dfa736" stroke-width="0.3"/>
<polygon points="237.25,501.77 246.64,500.83 246.64,460.65 237.25,461.59" fill="#f5b83b" stroke="#f5b83b" stroke-width="0.3"/>
<polygon points="234.82,457.71 244.2,456.77 246.64,460.65 237.25,461.59" fill="#fdc043" stroke="#fdc043" stroke-width="0.3"/>
<polygon points="237.59,502.31 240.02,506.19 240.02,466.01 237.59,462.13" fill="#dfa736" stroke="#dfa736" stroke-width="0.3"/>
<polygon points="240.02,506.19 249.41,505.25 249.41,465.07 240.02,466.01" fill="#f5b83b" stroke="#f5b83b" stroke-width="0.3"/>
<polygon points="237.59,462.13 246.97,461.19 249.41,465.07 240.02,466.01" fill="#fdc043" stroke="#fdc043" stroke-width="0.3"/>
<polygon points="240.36,506.73 242.79,510.61 242.79,470.43 240.36,466.55" fill="#dfa736" stroke="#dfa736" stroke-width="0.3"/>
<polygon points="242.79,510.61 252.18,509.67 252.18,469.49 242.79,470.43" fill="#f5b83b" stroke="#f5b83b" stroke-width="0.3"/>
<polygon points="240.36,466.55 249.74,465.61 252.18,469.49 242.79,470.43" fill="#fdc043" stroke="#fdc043" stroke-width="0.3"/>
<polygon points="243.13,511.15 245.56,515.03 245.56,474.85 243.13,470.97" fill="#dfa736" stroke="#dfa736" stroke-width="0.3"/>
<polygon points="245.56,515.03 254.95,514.09 254.95,473.91 245.56,474.85" fill="#f5b83b" stroke="#f5b83b" stroke-width="0.3"/>
<polygon points="243.13,470.97 252.51,470.03 254.95,473.91 245.56,474.85" fill="#fdc043" stroke="#fdc043" stroke-width="0.3"/>
<polygon points="245.9,515.57 248.33,519.45 248.33,479.27 245.9,475.39" fill="#dfa736" stroke="#dfa736" stroke-width="0.3"/>
<polygon points="248.33,519.45 257.72,518.51 257.72,478.33 248.33,479.27" fill="#f5b83b" stroke="#f5b83b" stroke-width="0.3"/>
<polygon points="245.9,475.39 255.28,474.45 257.72,478.33 248.33,479.27" fill="#fdc043" stroke="#fdc043" stroke-width="0.3"/>
<polygon points="220.32,494.64 222.75,498.53 222.75,456.88 220.32,452.99" fill="#cba346" stroke="#cba346" stroke-width="0.3"/>
<polygon points="222.75,498.53 232.14,497.59 232.14,455.94 222.75,456.88" fill="#e0b34d" stroke="#e0b34d" stroke-width="0.3"/>
<polygon points="220.32,452.99 229.7,452.05 232.14,455.94 222.75,456.88" fill="#e8bb54" stroke="#e8bb54" stroke-width="0.3"/>
<polygon points="223.09,499.06 225.52,502.95 225.52,461.3 223.09,457.41" fill="#cba346" stroke="#cba346" stroke-width="0.3"/>
<polygon points="225.52,502.95 234.91,502.01 234.91,460.36 225.52,461.3" fill="#e0b34d" stroke="#e0b34d" stroke-width="0.3"/>
<polygon points="223.09,457.41 232.47,456.47 234.91,460.36 225.52,461.3" fill="#e8bb54" stroke="#e8bb54" stroke-width="0.3"/>
<polygon points="225.86,503.48 228.29,507.37 228.29,465.72 225.86,461.83" fill="#cba346" stroke="#cba346" stroke-width="0.3"/>
<polygon points="228.29,507.37 237.68,506.43 237.68,464.78 228.29,465.72" fill="#e0b34d" stroke="#e0b34d" stroke-width="0.3"/>
<polygon points="225.86,461.83 235.24,460.89 237.68,464.78 228.29,465.72" fill="#e8bb54" stroke="#e8bb54" stroke-width="0.3"/>
<polygon points="228.63,507.9 231.06,511.79 231.06,470.14 228.63,466.25" fill="#cba346" stroke="#cba346" stroke-width="0.3"/>
<polygon points="231.06,511.79 240.45,510.85 240.45,469.2 231.06,470.14" fill="#e0b34d" stroke="#e0b34d" stroke-width="0.3"/>
<polygon points="228.63,466.25 238.01,465.31 240.45,469.2 231.06,470.14" fill="#e8bb54" stroke="#e8bb54" stroke-width="0.3"/>
<polygon points="231.4,512.32 233.83,516.21 233.83,474.56 231.4,470.67" fill="#cba346" stroke="#cba346" stroke-width="0.3"/>
<polygon points="233.83,516.21 243.22,515.27 243.22,473.62 233.83,474.56" fill="#e0b34d" stroke="#e0b34d" stroke-width="0.3"/>
<polygon points="231.4,470.67 240.78,469.73 243.22,473.62 233.83,474.56" fill="#e8bb54" stroke="#e8bb54" stroke-width="0.3"/>
<polygon points="234.17,516.74 236.6,520.63 236.6,478.98 234.17,475.09" fill="#cba346" stroke="#cba346" stroke-width="0.3"/>
<polygon points="236.6,520.63 245.99,519.69 245.99,478.04 236.6,478.98" fill="#e0b34d" stroke="#e0b34d" stroke-width="0.3"/>
<polygon points="234.17,475.09 243.55,474.15 245.99,478.04 236.6,478.98" fill="#e8bb54" stroke="#e8bb54" stroke-width="0.3"/>
<polygon points="208.59,495.82 211.02,499.7 211.02,455.11 208.59,451.23" fill="#b4a550" stroke="#b4a550" stroke-width="0.3"/>
<polygon points="211.02,499.7 220.41,498.76 220.41,454.17 211.02,455.11" fill="#c6b558" stroke="#c6b558" stroke-width="0.3"/>
<polygon points="208.59,451.23 217.97,450.29 220.41,454.17 211.02,455.11" fill="#cebd60" stroke="#cebd60" stroke-width="0.3"/>
<polygon points="211.36,500.24 213.79,504.12 213.79,459.53 211.36,455.65" fill="#b4a550" stroke="#b4a550" stroke-width="0.3"/>
<polygon points="213.79,504.12 223.18,503.18 223.18,458.59 213.79,459.53" fill="#c6b558" stroke="#c6b558" stroke-width="0.3"/>
<polygon points="211.36,455.65 220.74,454.71 223.18,458.59 213.79,459.53" fill="#cebd60" stroke="#cebd60" stroke-width="0.3"/>
<polygon points="214.13,504.66 216.56,508.54 216.56,463.95 214.13,460.07" fill="#b4a550" stroke="#b4a550" stroke-width="0.3"/>
<polygon points="216.56,508.54 225.95,507.6 225.95,463.01 216.56,463.95" fill="#c6b558" stroke="#c6b558" stroke-width="0.3"/>
<polygon points="214.13,460.07 223.51,459.13 225.95,463.01 216.56,463.95" fill="#cebd60" stroke="#cebd60" stroke-width="0.3"/>
<polygon points="216.9,509.08 219.33,512.96 219.33,468.37 216.9,464.49" fill="#b4a550" stroke="#b4a550" stroke-width="0.3"/>
<polygon points="219.33,512.96 228.72,512.02 228.72,467.43 219.33,468.37" fill="#c6b558" stroke="#c6b558" stroke-width="0.3"/>
<polygon points="216.9,464.49 226.28,463.55 228.72,467.43 219.33,468.37" fill="#cebd60" stroke="#cebd60" stroke-width="0.3"/>
<polygon points="219.67,513.5 222.1,517.38 222.1,472.79 219.67,468.91" fill="#b4a550" stroke="#b4a550" stroke-width="0.3"/>
<polygon points="222.1,517.38 231.49,516.44 231.49,471.85 222.1,472.79" fill="#c6b558" stroke="#c6b558" stroke-width="0.3"/>
<polygon points="219.67,468.91 229.05,467.97 231.49,471.85 222.1,472.79" fill="#cebd60" stroke="#cebd60" stroke-width="0.3"/>
<polygon points="222.44,517.92 224.87,521.8 224.87,477.21 222.44,473.33" fill="#b4a550" stroke="#b4a550" stroke-width="0.3"/>
<polygon points="224.87,521.8 234.26,520.86 234.26,476.27 224.87,477.21" fill="#c6b558" stroke="#c6b558" stroke-width="0.3"/>
<polygon points="222.44,473.33 231.82,472.39 234.26,476.27 224.87,477.21" fill="#cebd60" stroke="#cebd60" stroke-width="0.3"/>
<polygon points="196.86,496.99 199.29,500.88 199.29,463.64 196.86,459.75" fill="#9aa75b" stroke="#9aa75b" stroke-width="0.3"/>
<polygon points="199.29,500.88 208.68,499.94 208.68,462.7 199.29,463.64" fill="#aab864" stroke="#aab864" stroke-width="0.3"/>
<polygon points="196.86,459.75 206.24,458.81 208.68,462.7 199.29,463.64" fill="#b1c06c" stroke="#b1c06c" stroke-width="0.3"/>
<polygon points="199.63,501.41 202.06,505.3 202.06,468.06 199.63,464.17" fill="#9aa75b" stroke="#9aa75b" stroke-width="0.3"/>
<polygon points="202.06,505.3 211.45,504.36 211.45,467.12 202.06,468.06" fill="#aab864" stroke="#aab864" stroke-width="0.3"/>
<polygon points="199.63,464.17 209.01,463.23 211.45,467.12 202.06,468.06" fill="#b1c06c" stroke="#b1c06c" stroke-width="0.3"/>
<polygon points="202.4,505.83 204.83,509.72 204.83,472.48 202.4,468.59" fill="#9aa75b" stroke="#9aa75b" stroke-width="0.3"/>
<polygon points="204.83,509.72 214.22,508.78 214.22,471.54 204.83,472.48" fill="#aab864" stroke="#aab864" stroke-width="0.3"/>
<polygon points="202.4,468.59 211.78,467.65 214.22,471.54 204.83,472.48" fill="#b1c06c" stroke="#b1c06c" stroke-width="0.3"/>
<polygon points="205.17,510.25 207.6,514.14 207.6,476.9 205.17,473.01" fill="#9aa75b" stroke="#9aa75b" stroke-width="0.3"/>
<polygon points="207.6,514.14 216.99,513.2 216.99,475.96 207.6,476.9" fill="#aab864" stroke="#aab864" stroke-width="0.3"/>
<polygon points="205.17,473.01 214.55,472.07 216.99,475.96 207.6,476.9" fill="#b1c06c" stroke="#b1c06c" stroke-width="0.3"/>
<polygon points="207.94,514.67 210.37,518.56 210.37,481.32 207.94,477.43" fill="#9aa75b" stroke="#9aa75b" stroke-width="0.3"/>
<polygon points="210.37,518.56 219.76,517.62 219.76,480.38 210.37,481.32" fill="#aab864" stroke="#aab864" stroke-width="0.3"/>
<polygon points="207.94,477.43 217.32,476.49 219.76,480.38 210.37,481.32" fill="#b1c06c" stroke="#b1c06c" stroke-width="0.3"/>
<polygon points="210.71,519.09 213.14,522.98 213.14,485.74 210.71,481.85" fill="#9aa75b" stroke="#9aa75b" stroke-width="0.3"/>
<polygon points="213.14,522.98 222.53,522.04 222.53,484.8 213.14,485.74" fill="#aab864" stroke="#aab864" stroke-width="0.3"/>
<polygon points="210.71,481.85 220.09,480.91 222.53,484.8 213.14,485.74" fill="#b1c06c" stroke="#b1c06c" stroke-width="0.3"/>
<polygon points="185.13,498.17 187.56,502.05 187.56,475.1 185.13,471.22" fill="#7ea865" stroke="#7ea865" stroke-width="0.3"/>
<polygon points="187.56,502.05 196.95,501.11 196.95,474.16 187.56,475.1" fill="#8bb970" stroke="#8bb970" stroke-width="0.3"/>
<polygon points="185.13,471.22 194.51,470.28 196.95,474.16 187.56,475.1" fill="#92c177" stroke="#92c177" stroke-width="0.3"/>
<polygon points="187.9,502.59 190.33,506.47 190.33,479.52 187.9,475.64" fill="#7ea865" stroke="#7ea865" stroke-width="0.3"/>
<polygon points="190.33,506.47 199.72,505.53 199.72,478.58 190.33,479.52" fill="#8bb970" stroke="#8bb970" stroke-width="0.3"/>
<polygon points="187.9,475.64 197.28,474.7 199.72,478.58 190.33,479.52" fill="#92c177" stroke="#92c177" stroke-width="0.3"/>
<polygon points="190.67,507.01 193.1,510.89 193.1,483.94 190.67,480.06" fill="#7ea865" stroke="#7ea865" stroke-width="0.3"/>
<polygon points="193.1,510.89 202.49,509.95 202.49,483 193.1,483.94" fill="#8bb970" stroke="#8bb970" stroke-width="0.3"/>
<polygon points="190.67,480.06 200.05,479.12 202.49,483 193.1,483.94" fill="#92c177" stroke="#92c177" stroke-width="0.3"/>
<polygon points="193.44,511.43 195.87,515.31 195.87,503.06 193.44,499.18" fill="#7ea865" stroke="#7ea865" stroke-width="0.3"/>
<polygon points="195.87,515.31 205.26,514.37 205.26,502.12 195.87,503.06" fill="#8bb970" stroke="#8bb970" stroke-width="0.3"/>
<polygon points="193.44,499.18 202.82,498.24 205.26,502.12 195.87,503.06" fill="#92c177" stroke="#92c177" stroke-width="0.3"/>
<polygon points="196.21,515.85 198.64,519.73 198.64,518.26 196.21,514.38" fill="#7ea865" stroke="#7ea865" stroke-width="0.3"/>
<polygon points="198.64,519.73 208.03,518.79 208.03,517.32 198.64,518.26" fill="#8bb970" stroke="#8bb970" stroke-width="0.3"/>
<polygon points="196.21,514.38 205.59,513.44 208.03,517.32 198.64,518.26" fill="#92c177" stroke="#92c177" stroke-width="0.3"/>
<polygon points="198.98,520.27 201.41,524.15 201.41,522.68 198.98,518.8" fill="#7ea865" stroke="#7ea865" stroke-width="0.3"/>
<polygon points="201.41,524.15 210.8,523.21 210.8,521.74 201.41,522.68" fill="#8bb970" stroke="#8bb970" stroke-width="0.3"/>
<polygon points="198.98,518.8 208.36,517.86 210.8,521.74 201.41,522.68" fill="#92c177" stroke="#92c177" stroke-width="0.3"/>
<polygon points="173.4,499.34 175.83,503.23 175.83,469.91 173.4,466.02" fill="#5da773" stroke="#5da773" stroke-width="0.3"/>
<polygon points="175.83,503.23 185.22,502.29 185.22,468.97 175.83,469.91" fill="#67b87f" stroke="#67b87f" stroke-width="0.3"/>
<polygon points="173.4,466.02 182.78,465.08 185.22,468.97 175.83,469.91" fill="#6ec087" stroke="#6ec087" stroke-width="0.3"/>
<polygon points="176.17,503.76 178.6,507.65 178.6,474.33 176.17,470.44" fill="#5da773" stroke="#5da773" stroke-width="0.3"/>
<polygon points="178.6,507.65 187.99,506.71 187.99,473.39 178.6,474.33" fill="#67b87f" stroke="#67b87f" stroke-width="0.3"/>
<polygon points="176.17,470.44 185.55,469.5 187.99,473.39 178.6,474.33" fill="#6ec087" stroke="#6ec087" stroke-width="0.3"/>
<polygon points="178.94,508.18 181.37,512.07 181.37,478.75 178.94,474.86" fill="#5da773" stroke="#5da773" stroke-width="0.3"/>
<polygon points="181.37,512.07 190.76,511.13 190.76,477.81 181.37,478.75" fill="#67b87f" stroke="#67b87f" stroke-width="0.3"/>
<polygon points="178.94,474.86 188.32,473.92 190.76,477.81 181.37,478.75" fill="#6ec087" stroke="#6ec087" stroke-width="0.3"/>
<polygon points="181.71,512.6 184.14,516.49 184.14,483.17 181.71,479.28" fill="#5da773" stroke="#5da773" stroke-width="0.3"/>
<polygon points="184.14,516.49 193.53,515.55 193.53,482.23 184.14,483.17" fill="#67b87f" stroke="#67b87f" stroke-width="0.3"/>
<polygon points="181.71,479.28 191.09,478.34 193.53,482.23 184.14,483.17" fill="#6ec087" stroke="#6ec087" stroke-width="0.3"/>
<polygon points="184.48,517.02 186.91,520.91 186.91,487.59 184.48,483.7" fill="#5da773" stroke="#5da773" stroke-width="0.3"/>
<polygon points="186.91,520.91 196.3,519.97 196.3,486.65 186.91,487.59" fill="#67b87f" stroke="#67b87f" stroke-width="0.3"/>
<polygon points="184.48,483.7 193.86,482.76 196.3,486.65 186.91,487.59" fill="#6ec087" stroke="#6ec087" stroke-width="0.3"/>
<polygon points="187.25,521.44 189.68,525.33 189.68,492.01 187.25,488.12" fill="#5da773" stroke="#5da773" stroke-width="0.3"/>
<polygon points="189.68,525.33 199.07,524.39 199.07,491.07 189.68,492.01" fill="#67b87f" stroke="#67b87f" stroke-width="0.3"/>
<polygon points="187.25,488.12 196.63,487.18 199.07,491.07 189.68,492.01" fill="#6ec087" stroke="#6ec087" stroke-width="0.3"/>
<polygon points="161.67,500.52 164.1,504.4 164.1,481.86 161.67,477.98" fill="#3ca585" stroke="#3ca585" stroke-width="0.3"/>
<polygon points="164.1,504.4 173.49,503.46 173.49,480.92 164.1,481.86" fill="#42b592" stroke="#42b592" stroke-width="0.3"/>
<polygon points="161.67,477.98 171.05,477.04 173.49,480.92 164.1,481.86" fill="#4abd9a" stroke="#4abd9a" stroke-width="0.3"/>
<polygon points="164.44,504.94 166.87,508.82 166.87,486.28 164.44,482.4" fill="#3ca585" stroke="#3ca585" stroke-width="0.3"/>
<polygon points="166.87,508.82 176.26,507.88 176.26,485.34 166.87,486.28" fill="#42b592" stroke="#42b592" stroke-width="0.3"/>
<polygon points="164.44,482.4 173.82,481.46 176.26,485.34 166.87,486.28" fill="#4abd9a" stroke="#4abd9a" stroke-width="0.3"/>
<polygon points="167.21,509.36 169.64,513.24 169.64,490.7 167.21,486.82" fill="#3ca585" stroke="#3ca585" stroke-width="0.3"/>
<polygon points="169.64,513.24 179.03,512.3 179.03,489.76 169.64,490.7" fill="#42b592" stroke="#42b592" stroke-width="0.3"/>
<polygon points="167.21,486.82 176.59,485.88 179.03,489.76 169.64,490.7" fill="#4abd9a" stroke="#4abd9a" stroke-width="0.3"/>
<polygon points="169.98,513.78 172.41,517.66 172.41,516.19 169.98,512.31" fill="#3ca585" stroke="#3ca585" stroke-width="0.3"/>
<polygon points="172.41,517.66 181.8,516.72 181.8,515.25 172.41,516.19" fill="#42b592" stroke="#42b592" stroke-width="0.3"/>
<polygon points="169.98,512.31 179.36,511.37 181.8,515.25 172.41,516.19" fill="#4abd9a" stroke="#4abd9a" stroke-width="0.3"/>
<polygon points="172.75,518.2 175.18,522.08 175.18,520.61 172.75,516.73" fill="#3ca585" stroke="#3ca585" stroke-width="0.3"/>
<polygon points="175.18,522.08 184.57,521.14 184.57,519.67 175.18,520.61" fill="#42b592" stroke="#42b592" stroke-width="0.3"/>
<polygon points="172.75,516.73 182.13,515.79 184.57,519.67 175.18,520.61" fill="#4abd9a" stroke="#4abd9a" stroke-width="0.3"/>
<polygon points="175.52,522.62 177.95,526.5 177.95,525.03 175.52,521.15" fill="#3ca585" stroke="#3ca585" stroke-width="0.3"/>
<polygon points="177.95,526.5 187.34,525.56 187.34,524.09 177.95,525.03" fill="#42b592" stroke="#42b592" stroke-width="0.3"/>
<polygon points="175.52,521.15 184.9,520.21 187.34,524.09 177.95,525.03" fill="#4abd9a" stroke="#4abd9a" stroke-width="0.3"/>
<polygon points="149.94,501.69 152.37,505.58 152.37,484.02 149.94,480.13" fill="#209f96" stroke="#209f96" stroke-width="0.3"/>
<polygon points="152.37,505.58 161.76,504.64 161.76,483.08 152.37,484.02" fill="#23b0a5" stroke="#23b0a5" stroke-width="0.3"/>
<polygon points="149.94,480.13 159.32,479.19 161.76,483.08 152.37,484.02" fill="#2bb7ad" stroke="#2bb7ad" stroke-width="0.3"/>
<polygon points="152.71,506.11 155.14,510 155.14,488.44 152.71,484.55" fill="#209f96" stroke="#209f96" stroke-width="0.3"/>
<polygon points="155.14,510 164.53,509.06 164.53,487.5 155.14,488.44" fill="#23b0a5" stroke="#23b0a5" stroke-width="0.3"/>
<polygon points="152.71,484.55 162.09,483.61 164.53,487.5 155.14,488.44" fill="#2bb7ad" stroke="#2bb7ad" stroke-width="0.3"/>
<polygon points="155.48,510.53 157.91,514.42 157.91,492.86 155.48,488.97" fill="#209f96" stroke="#209f96" stroke-width="0.3"/>
<polygon points="157.91,514.42 167.3,513.48 167.3,491.92 157.91,492.86" fill="#23b0a5" stroke="#23b0a5" stroke-width="0.3"/>
<polygon points="155.48,488.97 164.86,488.03 167.3,491.92 157.91,492.86" fill="#2bb7ad" stroke="#2bb7ad" stroke-width="0.3"/>
<polygon points="158.25,514.95 160.68,518.84 160.68,497.28 158.25,493.39" fill="#209f96" stroke="#209f96" stroke-width="0.3"/>
<polygon points="160.68,518.84 170.07,517.9 170.07,496.34 160.68,497.28" fill="#23b0a5" stroke="#23b0a5" stroke-width="0.3"/>
<polygon points="158.25,493.39 167.63,492.45 170.07,496.34 160.68,497.28" fill="#2bb7ad" stroke="#2bb7ad" stroke-width="0.3"/>
<polygon points="161.02,519.37 163.45,523.26 163.45,501.7 161.02,497.81" fill="#209f96" stroke="#209f96" stroke-width="0.3"/>
<polygon points="163.45,523.26 172.84,522.32 172.84,500.76 163.45,501.7" fill="#23b0a5" stroke="#23b0a5" stroke-width="0.3"/>
<polygon points="161.02,497.81 170.4,496.87 172.84,500.76 163.45,501.7" fill="#2bb7ad" stroke="#2bb7ad" stroke-width="0.3"/>
<polygon points="163.79,523.79 166.22,527.68 166.22,506.12 163.79,502.23" fill="#209f96" stroke="#209f96" stroke-width="0.3"/>
<polygon points="166.22,527.68 175.61,526.74 175.61,505.18 166.22,506.12" fill="#23b0a5" stroke="#23b0a5" stroke-width="0.3"/>
<polygon points="163.79,502.23 173.17,501.29 175.61,505.18 166.22,506.12" fill="#2bb7ad" stroke="#2bb7ad" stroke-width="0.3"/>
<polygon points="138.21,502.87 140.64,506.75 140.64,483.72 138.21,479.84" fill="#0b98a5" stroke="#0b98a5" stroke-width="0.3"/>
<polygon points="140.64,506.75 150.03,505.81 150.03,482.78 140.64,483.72" fill="#0da8b5" stroke="#0da8b5" stroke-width="0.3"/>
<polygon points="138.21,479.84 147.59,478.9 150.03,482.78 140.64,483.72" fill="#14afbd" stroke="#14afbd" stroke-width="0.3"/>
<polygon points="140.98,507.29 143.41,511.17 143.41,488.14 140.98,484.26" fill="#0b98a5" stroke="#0b98a5" stroke-width="0.3"/>
<polygon points="143.41,511.17 152.8,510.23 152.8,487.2 143.41,488.14" fill="#0da8b5" stroke="#0da8b5" stroke-width="0.3"/>
<polygon points="140.98,484.26 150.36,483.32 152.8,487.2 143.41,488.14" fill="#14afbd" stroke="#14afbd" stroke-width="0.3"/>
<polygon points="143.75,511.71 146.18,515.59 146.18,492.56 143.75,488.68" fill="#0b98a5" stroke="#0b98a5" stroke-width="0.3"/>
<polygon points="146.18,515.59 155.57,514.65 155.57,491.62 146.18,492.56" fill="#0da8b5" stroke="#0da8b5" stroke-width="0.3"/>
<polygon points="143.75,488.68 153.13,487.74 155.57,491.62 146.18,492.56" fill="#14afbd" stroke="#14afbd" stroke-width="0.3"/>
<polygon points="146.52,516.13 148.95,520.01 148.95,518.54 146.52,514.66" fill="#0b98a5" stroke="#0b98a5" stroke-width="0.3"/>
<polygon points="148.95,520.01 158.34,519.07 158.34,517.6 148.95,518.54" fill="#0da8b5" stroke="#0da8b5" stroke-width="0.3"/>
<polygon points="146.52,514.66 155.9,513.72 158.34,517.6 148.95,518.54" fill="#14afbd" stroke="#14afbd" stroke-width="0.3"/>
<polygon points="149.29,520.55 151.72,524.43 151.72,522.96 149.29,519.08" fill="#0b98a5" stroke="#0b98a5" stroke-width="0.3"/>
<polygon points="151.72,524.43 161.11,523.49 161.11,522.02 151.72,522.96" fill="#0da8b5" stroke="#0da8b5" stroke-width="0.3"/>
<polygon points="149.29,519.08 158.67,518.14 161.11,522.02 151.72,522.96" fill="#14afbd" stroke="#14afbd" stroke-width="0.3"/>
<polygon points="152.06,524.97 154.49,528.85 154.49,527.38 152.06,523.5" fill="#0b98a5" stroke="#0b98a5" stroke-width="0.3"/>
<polygon points="154.49,528.85 163.88,527.91 163.88,526.44 154.49,527.38" fill="#0da8b5" stroke="#0da8b5" stroke-width="0.3"/>
<polygon points="152.06,523.5 161.44,522.56 163.88,526.44 154.49,527.38" fill="#14afbd" stroke="#14afbd" stroke-width="0.3"/>
<polygon points="126.48,504.04 128.91,507.93 128.91,475.1 126.48,471.21" fill="#0590b1" stroke="#0590b1" stroke-width="0.3"/>
<polygon points="128.91,507.93 138.3,506.99 138.3,474.16 128.91,475.1" fill="#069fc3" stroke="#069fc3" stroke-width="0.3"/>
<polygon points="126.48,471.21 135.86,470.27 138.3,474.16 128.91,475.1" fill="#0da7cb" stroke="#0da7cb" stroke-width="0.3"/>
<polygon points="129.25,508.46 131.68,512.35 131.68,479.52 129.25,475.63" fill="#0590b1" stroke="#0590b1" stroke-width="0.3"/>
<polygon points="131.68,512.35 141.07,511.41 141.07,478.58 131.68,479.52" fill="#069fc3" stroke="#069fc3" stroke-width="0.3"/>
<polygon points="129.25,475.63 138.63,474.69 141.07,478.58 131.68,479.52" fill="#0da7cb" stroke="#0da7cb" stroke-width="0.3"/>
<polygon points="132.02,512.88 134.45,516.77 134.45,483.94 132.02,480.05" fill="#0590b1" stroke="#0590b1" stroke-width="0.3"/>
<polygon points="134.45,516.77 143.84,515.83 143.84,483 134.45,483.94" fill="#069fc3" stroke="#069fc3" stroke-width="0.3"/>
<polygon points="132.02,480.05 141.4,479.11 143.84,483 134.45,483.94" fill="#0da7cb" stroke="#0da7cb" stroke-width="0.3"/>
<polygon points="134.79,517.3 137.22,521.19 137.22,488.36 134.79,484.47" fill="#0590b1" stroke="#0590b1" stroke-width="0.3"/>
<polygon points="137.22,521.19 146.61,520.25 146.61,487.42 137.22,488.36" fill="#069fc3" stroke="#069fc3" stroke-width="0.3"/>
<polygon points="134.79,484.47 144.17,483.53 146.61,487.42 137.22,488.36" fill="#0da7cb" stroke="#0da7cb" stroke-width="0.3"/>
<polygon points="137.56,521.72 139.99,525.61 139.99,492.78 137.56,488.89" fill="#0590b1" stroke="#0590b1" stroke-width="0.3"/>
<polygon points="139.99,525.61 149.38,524.67 149.38,491.84 139.99,492.78" fill="#069fc3" stroke="#069fc3" stroke-width="0.3"/>
<polygon points="137.56,488.89 146.94,487.95 149.38,491.84 139.99,492.78" fill="#0da7cb" stroke="#0da7cb" stroke-width="0.3"/>
<polygon points="140.33,526.14 142.76,530.03 142.76,497.2 140.33,493.31" fill="#0590b1" stroke="#0590b1" stroke-width="0.3"/>
<polygon points="142.76,530.03 152.15,529.09 152.15,496.26 142.76,497.2" fill="#069fc3" stroke="#069fc3" stroke-width="0.3"/>
<polygon points="140.33,493.31 149.71,492.37 152.15,496.26 142.76,497.2" fill="#0da7cb" stroke="#0da7cb" stroke-width="0.3"/>
<polygon points="114.75,505.22 117.18,509.1 117.18,495.87 114.75,491.99" fill="#0886b8" stroke="#0886b8" stroke-width="0.3"/>
<polygon points="117.18,509.1 126.57,508.16 126.57,494.93 117.18,495.87" fill="#0993cb" stroke="#0993cb" stroke-width="0.3"/>
<polygon points="114.75,491.99 124.13,491.05 126.57,494.93 117.18,495.87" fill="#109bd2" stroke="#109bd2" stroke-width="0.3"/>
<polygon points="117.52,509.64 119.95,513.52 119.95,494.9 117.52,491.02" fill="#0886b8" stroke="#0886b8" stroke-width="0.3"/>
<polygon points="119.95,513.52 129.34,512.58 129.34,493.96 119.95,494.9" fill="#0993cb" stroke="#0993cb" stroke-width="0.3"/>
<polygon points="117.52,491.02 126.9,490.08 129.34,493.96 119.95,494.9" fill="#109bd2" stroke="#109bd2" stroke-width="0.3"/>
<polygon points="120.29,514.06 122.72,517.94 122.72,516.47 120.29,512.59" fill="#0886b8" stroke="#0886b8" stroke-width="0.3"/>
<polygon points="122.72,517.94 132.11,517 132.11,515.53 122.72,516.47" fill="#0993cb" stroke="#0993cb" stroke-width="0.3"/>
<polygon points="120.29,512.59 129.67,511.65 132.11,515.53 122.72,516.47" fill="#109bd2" stroke="#109bd2" stroke-width="0.3"/>
<polygon points="123.06,518.48 125.49,522.36 125.49,520.89 123.06,517.01" fill="#0886b8" stroke="#0886b8" stroke-width="0.3"/>
<polygon points="125.49,522.36 134.88,521.42 134.88,519.95 125.49,520.89" fill="#0993cb" stroke="#0993cb" stroke-width="0.3"/>
<polygon points="123.06,517.01 132.44,516.07 134.88,519.95 125.49,520.89" fill="#109bd2" stroke="#109bd2" stroke-width="0.3"/>
<polygon points="125.83,522.9 128.26,526.78 128.26,525.31 125.83,521.43" fill="#0886b8" stroke="#0886b8" stroke-width="0.3"/>
<polygon points="128.26,526.78 137.65,525.84 137.65,524.37 128.26,525.31" fill="#0993cb" stroke="#0993cb" stroke-width="0.3"/>
<polygon points="125.83,521.43 135.21,520.49 137.65,524.37 128.26,525.31" fill="#109bd2" stroke="#109bd2" stroke-width="0.3"/>
<polygon points="128.6,527.32 131.03,531.2 131.03,501.8 128.6,497.92" fill="#0886b8" stroke="#0886b8" stroke-width="0.3"/>
<polygon points="131.03,531.2 140.42,530.26 140.42,500.86 131.03,501.8" fill="#0993cb" stroke="#0993cb" stroke-width="0.3"/>
<polygon points="128.6,497.92 137.98,496.98 140.42,500.86 131.03,501.8" fill="#109bd2" stroke="#109bd2" stroke-width="0.3"/>
<polygon points="103.02,506.39 105.45,510.28 105.45,475.98 103.02,472.09" fill="#1277ba" stroke="#1277ba" stroke-width="0.3"/>
<polygon points="105.45,510.28 114.84,509.34 114.84,475.04 105.45,475.98" fill="#1383cd" stroke="#1383cd" stroke-width="0.3"/>
<polygon points="103.02,472.09 112.4,471.15 114.84,475.04 105.45,475.98" fill="#1b8bd4" stroke="#1b8bd4" stroke-width="0.3"/>
<polygon points="105.79,510.81 108.22,514.7 108.22,480.4 105.79,476.51" fill="#1277ba" stroke="#1277ba" stroke-width="0.3"/>
<polygon points="108.22,514.7 117.61,513.76 117.61,479.46 108.22,480.4" fill="#1383cd" stroke="#1383cd" stroke-width="0.3"/>
<polygon points="105.79,476.51 115.17,475.57 117.61,479.46 108.22,480.4" fill="#1b8bd4" stroke="#1b8bd4" stroke-width="0.3"/>
<polygon points="108.56,515.23 110.99,519.12 110.99,517.65 108.56,513.76" fill="#1277ba" stroke="#1277ba" stroke-width="0.3"/>
<polygon points="110.99,519.12 120.38,518.18 120.38,516.71 110.99,517.65" fill="#1383cd" stroke="#1383cd" stroke-width="0.3"/>
<polygon points="108.56,513.76 117.94,512.82 120.38,516.71 110.99,517.65" fill="#1b8bd4" stroke="#1b8bd4" stroke-width="0.3"/>
<polygon points="111.33,519.65 113.76,523.54 113.76,522.07 111.33,518.18" fill="#1277ba" stroke="#1277ba" stroke-width="0.3"/>
<polygon points="113.76,523.54 123.15,522.6 123.15,521.13 113.76,522.07" fill="#1383cd" stroke="#1383cd" stroke-width="0.3"/>
<polygon points="111.33,518.18 120.71,517.24 123.15,521.13 113.76,522.07" fill="#1b8bd4" stroke="#1b8bd4" stroke-width="0.3"/>
<polygon points="114.1,524.07 116.53,527.96 116.53,526.49 114.1,522.6" fill="#1277ba" stroke="#1277ba" stroke-width="0.3"/>
<polygon points="116.53,527.96 125.92,527.02 125.92,525.55 116.53,526.49" fill="#1383cd" stroke="#1383cd" stroke-width="0.3"/>
<polygon points="114.1,522.6 123.48,521.66 125.92,525.55 116.53,526.49" fill="#1b8bd4" stroke="#1b8bd4" stroke-width="0.3"/>
<polygon points="116.87,528.49 119.3,532.38 119.3,530.91 116.87,527.02" fill="#1277ba" stroke="#1277ba" stroke-width="0.3"/>
<polygon points="119.3,532.38 128.69,531.44 128.69,529.97 119.3,530.91" fill="#1383cd" stroke="#1383cd" stroke-width="0.3"/>
<polygon points="116.87,527.02 126.25,526.08 128.69,529.97 119.3,530.91" fill="#1b8bd4" stroke="#1b8bd4" stroke-width="0.3"/>
<polygon points="91.29,507.57 93.72,511.45 93.72,470.29 91.29,466.41" fill="#0f6bc0" stroke="#0f6bc0" stroke-width="0.3"/>
<polygon points="93.72,511.45 103.11,510.51 103.11,469.35 93.72,470.29" fill="#1076d3" stroke="#1076d3" stroke-width="0.3"/>
<polygon points="91.29,466.41 100.67,465.47 103.11,469.35 93.72,470.29" fill="#187edb" stroke="#187edb" stroke-width="0.3"/>
<polygon points="94.06,511.99 96.49,515.87 96.49,474.71 94.06,470.83" fill="#0f6bc0" stroke="#0f6bc0" stroke-width="0.3"/>
<polygon points="96.49,515.87 105.88,514.93 105.88,473.77 96.49,474.71" fill="#1076d3" stroke="#1076d3" stroke-width="0.3"/>
<polygon points="94.06,470.83 103.44,469.89 105.88,473.77 96.49,474.71" fill="#187edb" stroke="#187edb" stroke-width="0.3"/>
<polygon points="96.83,516.41 99.26,520.29 99.26,479.13 96.83,475.25" fill="#0f6bc0" stroke="#0f6bc0" stroke-width="0.3"/>
<polygon points="99.26,520.29 108.65,519.35 108.65,478.19 99.26,479.13" fill="#1076d3" stroke="#1076d3" stroke-width="0.3"/>
<polygon points="96.83,475.25 106.21,474.31 108.65,478.19 99.26,479.13" fill="#187edb" stroke="#187edb" stroke-width="0.3"/>
<polygon points="99.6,520.83 102.03,524.71 102.03,483.55 99.6,479.67" fill="#0f6bc0" stroke="#0f6bc0" stroke-width="0.3"/>
<polygon points="102.03,524.71 111.42,523.77 111.42,482.61 102.03,483.55" fill="#1076d3" stroke="#1076d3" stroke-width="0.3"/>
<polygon points="99.6,479.67 108.98,478.73 111.42,482.61 102.03,483.55" fill="#187edb" stroke="#187edb" stroke-width="0.3"/>
<polygon points="102.37,525.25 104.8,529.13 104.8,487.97 102.37,484.09" fill="#0f6bc0" stroke="#0f6bc0" stroke-width="0.3"/>
<polygon points="104.8,529.13 114.19,528.19 114.19,487.03 104.8,487.97" fill="#1076d3" stroke="#1076d3" stroke-width="0.3"/>
<polygon points="102.37,484.09 111.75,483.15 114.19,487.03 104.8,487.97" fill="#187edb" stroke="#187edb" stroke-width="0.3"/>
<polygon points="105.14,529.67 107.57,533.55 107.57,492.39 105.14,488.51" fill="#0f6bc0" stroke="#0f6bc0" stroke-width="0.3"/>
<polygon points="107.57,533.55 116.96,532.61 116.96,491.45 107.57,492.39" fill="#1076d3" stroke="#1076d3" stroke-width="0.3"/>
<polygon points="105.14,488.51 114.52,487.57 116.96,491.45 107.57,492.39" fill="#187edb" stroke="#187edb" stroke-width="0.3"/>
<polygon points="79.56,508.74 81.99,512.63 81.99,476.12 79.56,472.24" fill="#0460c5" stroke="#0460c5" stroke-width="0.3"/>
<polygon points="81.99,512.63 91.38,511.69 91.38,475.18 81.99,476.12" fill="#046ad9" stroke="#046ad9" stroke-width="0.3"/>
<polygon points="79.56,472.24 88.94,471.3 91.38,475.18 81.99,476.12" fill="#0c71e1" stroke="#0c71e1" stroke-width="0.3"/>
<polygon points="82.33,513.16 84.76,517.05 84.76,480.54 82.33,476.66" fill="#0460c5" stroke="#0460c5" stroke-width="0.3"/>
<polygon points="84.76,517.05 94.15,516.11 94.15,479.6 84.76,480.54" fill="#046ad9" stroke="#046ad9" stroke-width="0.3"/>
<polygon points="82.33,476.66 91.71,475.72 94.15,479.6 84.76,480.54" fill="#0c71e1" stroke="#0c71e1" stroke-width="0.3"/>
<polygon points="85.1,517.58 87.53,521.47 87.53,484.96 85.1,481.08" fill="#0460c5" stroke="#0460c5" stroke-width="0.3"/>
<polygon points="87.53,521.47 96.92,520.53 96.92,484.02 87.53,484.96" fill="#046ad9" stroke="#046ad9" stroke-width="0.3"/>
<polygon points="85.1,481.08 94.48,480.14 96.92,484.02 87.53,484.96" fill="#0c71e1" stroke="#0c71e1" stroke-width="0.3"/>
<polygon points="87.87,522 90.3,525.89 90.3,489.38 87.87,485.5" fill="#0460c5" stroke="#0460c5" stroke-width="0.3"/>
<polygon points="90.3,525.89 99.69,524.95 99.69,488.44 90.3,489.38" fill="#046ad9" stroke="#046ad9" stroke-width="0.3"/>
<polygon points="87.87,485.5 97.25,484.56 99.69,488.44 90.3,489.38" fill="#0c71e1" stroke="#0c71e1" stroke-width="0.3"/>
<polygon points="90.64,526.42 93.07,530.31 93.07,493.8 90.64,489.92" fill="#0460c5" stroke="#0460c5" stroke-width="0.3"/>
<polygon points="93.07,530.31 102.46,529.37 102.46,492.86 93.07,493.8" fill="#046ad9" stroke="#046ad9" stroke-width="0.3"/>
<polygon points="90.64,489.92 100.02,488.98 102.46,492.86 93.07,493.8" fill="#0c71e1" stroke="#0c71e1" stroke-width="0.3"/>
<polygon points="93.41,530.84 95.84,534.73 95.84,498.22 93.41,494.34" fill="#0460c5" stroke="#0460c5" stroke-width="0.3"/>
<polygon points="95.84,534.73 105.23,533.79 105.23,497.28 95.84,498.22" fill="#046ad9" stroke="#046ad9" stroke-width="0.3"/>
<polygon points="93.41,494.34 102.79,493.4 105.23,497.28 95.84,498.22" fill="#0c71e1" stroke="#0c71e1" stroke-width="0.3"/>
<polygon points="67.83,509.92 70.26,513.8 70.26,477.05 67.83,473.17" fill="#124dc0" stroke="#124dc0" stroke-width="0.3"/>
<polygon points="70.26,513.8 79.65,512.86 79.65,476.11 70.26,477.05" fill="#1455d3" stroke="#1455d3" stroke-width="0.3"/>
<polygon points="67.83,473.17 77.21,472.23 79.65,476.11 70.26,477.05" fill="#1c5ddb" stroke="#1c5ddb" stroke-width="0.3"/>
<polygon points="70.6,514.34 73.03,518.22 73.03,481.47 70.6,477.59" fill="#124dc0" stroke="#124dc0" stroke-width="0.3"/>
<polygon points="73.03,518.22 82.42,517.28 82.42,480.53 73.03,481.47" fill="#1455d3" stroke="#1455d3" stroke-width="0.3"/>
<polygon points="70.6,477.59 79.98,476.65 82.42,480.53 73.03,481.47" fill="#1c5ddb" stroke="#1c5ddb" stroke-width="0.3"/>
<polygon points="73.37,518.76 75.8,522.64 75.8,485.89 73.37,482.01" fill="#124dc0" stroke="#124dc0" stroke-width="0.3"/>
<polygon points="75.8,522.64 85.19,521.7 85.19,484.95 75.8,485.89" fill="#1455d3" stroke="#1455d3" stroke-width="0.3"/>
<polygon points="73.37,482.01 82.75,481.07 85.19,484.95 75.8,485.89" fill="#1c5ddb" stroke="#1c5ddb" stroke-width="0.3"/>
<polygon points="76.14,523.18 78.57,527.06 78.57,490.31 76.14,486.43" fill="#124dc0" stroke="#124dc0" stroke-width="0.3"/>
<polygon points="78.57,527.06 87.96,526.12 87.96,489.37 78.57,490.31" fill="#1455d3" stroke="#1455d3" stroke-width="0.3"/>
<polygon points="76.14,486.43 85.52,485.49 87.96,489.37 78.57,490.31" fill="#1c5ddb" stroke="#1c5ddb" stroke-width="0.3"/>
<polygon points="78.91,527.6 81.34,531.48 81.34,494.73 78.91,490.85" fill="#124dc0" stroke="#124dc0" stroke-width="0.3"/>
<polygon points="81.34,531.48 90.73,530.54 90.73,493.79 81.34,494.73" fill="#1455d3" stroke="#1455d3" stroke-width="0.3"/>
<polygon points="78.91,490.85 88.29,489.91 90.73,493.79 81.34,494.73" fill="#1c5ddb" stroke="#1c5ddb" stroke-width="0.3"/>
<polygon points="81.68,532.02 84.11,535.9 84.11,499.15 81.68,495.27" fill="#124dc0" stroke="#124dc0" stroke-width="0.3"/>
<polygon points="84.11,535.9 93.5,534.96 93.5,498.21 84.11,499.15" fill="#1455d3" stroke="#1455d3" stroke-width="0.3"/>
<polygon points="81.68,495.27 91.06,494.33 93.5,498.21 84.11,499.15" fill="#1c5ddb" stroke="#1c5ddb" stroke-width="0.3"/>
<polygon points="56.1,511.09 58.53,514.98 58.53,486.56 56.1,482.67" fill="#2e379c" stroke="#2e379c" stroke-width="0.3"/>
<polygon points="58.53,514.98 67.92,514.04 67.92,485.62 58.53,486.56" fill="#323dac" stroke="#323dac" stroke-width="0.3"/>
<polygon points="56.1,482.67 65.48,481.73 67.92,485.62 58.53,486.56" fill="#3a45b3" stroke="#3a45b3" stroke-width="0.3"/>
<polygon points="58.87,515.51 61.3,519.4 61.3,490.98 58.87,487.09" fill="#2e379c" stroke="#2e379c" stroke-width="0.3"/>
<polygon points="61.3,519.4 70.69,518.46 70.69,490.04 61.3,490.98" fill="#323dac" stroke="#323dac" stroke-width="0.3"/>
<polygon points="58.87,487.09 68.25,486.15 70.69,490.04 61.3,490.98" fill="#3a45b3" stroke="#3a45b3" stroke-width="0.3"/>
<polygon points="61.64,519.93 64.07,523.82 64.07,495.4 61.64,491.51" fill="#2e379c" stroke="#2e379c" stroke-width="0.3"/>
<polygon points="64.07,523.82 73.46,522.88 73.46,494.46 64.07,495.4" fill="#323dac" stroke="#323dac" stroke-width="0.3"/>
<polygon points="61.64,491.51 71.02,490.57 73.46,494.46 64.07,495.4" fill="#3a45b3" stroke="#3a45b3" stroke-width="0.3"/>
<polygon points="64.41,524.35 66.84,528.24 66.84,499.82 64.41,495.93" fill="#2e379c" stroke="#2e379c" stroke-width="0.3"/>
<polygon points="66.84,528.24 76.23,527.3 76.23,498.88 66.84,499.82" fill="#323dac" stroke="#323dac" stroke-width="0.3"/>
<polygon points="64.41,495.93 73.79,494.99 76.23,498.88 66.84,499.82" fill="#3a45b3" stroke="#3a45b3" stroke-width="0.3"/>
<polygon points="67.18,528.77 69.61,532.66 69.61,504.24 67.18,500.35" fill="#2e379c" stroke="#2e379c" stroke-width="0.3"/>
<polygon points="69.61,532.66 79,531.72 79,503.3 69.61,504.24" fill="#323dac" stroke="#323dac" stroke-width="0.3"/>
<polygon points="67.18,500.35 76.56,499.41 79,503.3 69.61,504.24" fill="#3a45b3" stroke="#3a45b3" stroke-width="0.3"/>
<polygon points="69.95,533.19 72.38,537.08 72.38,508.66 69.95,504.77" fill="#2e379c" stroke="#2e379c" stroke-width="0.3"/>
<polygon points="72.38,537.08 81.77,536.14 81.77,507.72 72.38,508.66" fill="#323dac" stroke="#323dac" stroke-width="0.3"/>
<polygon points="69.95,504.77 79.33,503.83 81.77,507.72 72.38,508.66" fill="#3a45b3" stroke="#3a45b3" stroke-width="0.3"/>
<polygon points="44.37,512.27 46.8,516.15 46.8,478.42 44.37,474.54" fill="#2f2577" stroke="#2f2577" stroke-width="0.3"/>
<polygon points="46.8,516.15 56.19,515.21 56.19,477.48 46.8,478.42" fill="#332983" stroke="#332983" stroke-width="0.3"/>
<polygon points="44.37,474.54 53.75,473.6 56.19,477.48 46.8,478.42" fill="#3b308b" stroke="#3b308b" stroke-width="0.3"/>
<polygon points="47.14,516.69 49.57,520.57 49.57,482.84 47.14,478.96" fill="#2f2577" stroke="#2f2577" stroke-width="0.3"/>
<polygon points="49.57,520.57 58.96,519.63 58.96,481.9 49.57,482.84" fill="#332983" stroke="#332983" stroke-width="0.3"/>
<polygon points="47.14,478.96 56.52,478.02 58.96,481.9 49.57,482.84" fill="#3b308b" stroke="#3b308b" stroke-width="0.3"/>
<polygon points="49.91,521.11 52.34,524.99 52.34,487.26 49.91,483.38" fill="#2f2577" stroke="#2f2577" stroke-width="0.3"/>
<polygon points="52.34,524.99 61.73,524.05 61.73,486.32 52.34,487.26" fill="#332983" stroke="#332983" stroke-width="0.3"/>
<polygon points="49.91,483.38 59.29,482.44 61.73,486.32 52.34,487.26" fill="#3b308b" stroke="#3b308b" stroke-width="0.3"/>
<polygon points="52.68,525.53 55.11,529.41 55.11,491.68 52.68,487.8" fill="#2f2577" stroke="#2f2577" stroke-width="0.3"/>
<polygon points="55.11,529.41 64.5,528.47 64.5,490.74 55.11,491.68" fill="#332983" stroke="#332983" stroke-width="0.3"/>
<polygon points="52.68,487.8 62.06,486.86 64.5,490.74 55.11,491.68" fill="#3b308b" stroke="#3b308b" stroke-width="0.3"/>
<polygon points="55.45,529.95 57.88,533.83 57.88,496.1 55.45,492.22" fill="#2f2577" stroke="#2f2577" stroke-width="0.3"/>
<polygon points="57.88,533.83 67.27,532.89 67.27,495.16 57.88,496.1" fill="#332983" stroke="#332983" stroke-width="0.3"/>
<polygon points="55.45,492.22 64.83,491.28 67.27,495.16 57.88,496.1" fill="#3b308b" stroke="#3b308b" stroke-width="0.3"/>
<polygon points="58.22,534.37 60.65,538.25 60.65,500.52 58.22,496.64" fill="#2f2577" stroke="#2f2577" stroke-width="0.3"/>
<polygon points="60.65,538.25 70.04,537.31 70.04,499.58 60.65,500.52" fill="#332983" stroke="#332983" stroke-width="0.3"/>
<polygon points="58.22,496.64 67.6,495.7 70.04,499.58 60.65,500.52" fill="#3b308b" stroke="#3b308b" stroke-width="0.3"/>
<line x1="295.42" y1="515.02" x2="295.42" y2="466.02" stroke="#c8c8c8" stroke-width="0.6"/>
<line x1="44.2" y1="512" x2="60.82" y2="538.52" stroke="#bbb" stroke-width="0.6"/>
<line x1="60.82" y1="538.52" x2="295.42" y2="515.02" stroke="#bbb" stroke-width="0.6"/>
<text x="39" y="459.7" font-size="6.8" fill="#222" font-weight="bold" text-anchor="end" font-family='"Liberation Sans", sans-serif' >100</text>
<text x="39" y="469.2" font-size="6.8" fill="#222" font-weight="bold" text-anchor="end" font-family='"Liberation Sans", sans-serif' >80</text>
<text x="39" y="479" font-size="6.8" fill="#222" font-weight="bold" text-anchor="end" font-family='"Liberation Sans", sans-serif' >60</text>
<text x="39" y="488.6" font-size="6.8" fill="#222" font-weight="bold" text-anchor="end" font-family='"Liberation Sans", sans-serif' >40</text>
<text x="39" y="498.1" font-size="6.8" fill="#222" font-weight="bold" text-anchor="end" font-family='"Liberation Sans", sans-serif' >20</text>
<text x="39" y="507.9" font-size="6.8" fill="#222" font-weight="bold" text-anchor="end" font-family='"Liberation Sans", sans-serif' >0</text>
<text x="31.9" y="516.8" font-size="6.8" fill="#222" font-weight="bold" text-anchor="middle" font-family='"Liberation Sans", sans-serif' >0</text>
<text x="37.44" y="525.64" font-size="6.8" fill="#222" font-weight="bold" text-anchor="middle" font-family='"Liberation Sans", sans-serif' >2</text>
<text x="42.98" y="534.48" font-size="6.8" fill="#222" font-weight="bold" text-anchor="middle" font-family='"Liberation Sans", sans-serif' >4</text>
<text x="48.52" y="543.32" font-size="6.8" fill="#222" font-weight="bold" text-anchor="middle" font-family='"Liberation Sans", sans-serif' >6</text>
<text x="65.82" y="552.22" font-size="6.8" fill="#222" font-weight="bold" text-anchor="middle" font-family='"Liberation Sans", sans-serif' >0</text>
<text x="124.67" y="546.35" font-size="6.8" fill="#222" font-weight="bold" text-anchor="middle" font-family='"Liberation Sans", sans-serif' >5</text>
<text x="185.62" y="540.47" font-size="6.8" fill="#222" font-weight="bold" text-anchor="middle" font-family='"Liberation Sans", sans-serif' >10</text>
<text x="244.37" y="534.6" font-size="6.8" fill="#222" font-weight="bold" text-anchor="middle" font-family='"Liberation Sans", sans-serif' >15</text>
<text x="297.42" y="528.72" font-size="6.8" fill="#222" font-weight="bold" text-anchor="middle" font-family='"Liberation Sans", sans-serif' >20</text>
<text x="13.5" y="474.8" font-size="7" fill="#111" font-weight="bold" text-anchor="middle" font-family='"Liberation Sans", sans-serif' >Al at. %</text>
<text x="19.5" y="538" font-size="7.1" fill="#111" font-weight="bold" text-anchor="middle" font-family='"Liberation Sans", sans-serif' ># Iterations</text>
<text x="191.5" y="556.8" font-size="6.9" fill="#111" font-weight="bold" text-anchor="middle" font-family='"Liberation Sans", sans-serif' ># Nests</text>
<text x="148" y="459.5" font-size="6.6" fill="#111" font-weight="bold" text-anchor="middle" font-family='"Liberation Sans", sans-serif' >Al<tspan dy="2" font-size="0.8em">x</tspan><tspan dy="-2">-Cr-Co-Fe-Ni</tspan></text>
<rect x="338" y="8" width="140" height="146.6" fill="#fff"/>
<line x1="340.6" y1="8" x2="340.6" y2="154.6" stroke="#e4e4e4" stroke-width="0.8"/>
<line x1="369.6" y1="8" x2="369.6" y2="154.6" stroke="#e4e4e4" stroke-width="0.8"/>
<line x1="398.6" y1="8" x2="398.6" y2="154.6" stroke="#e4e4e4" stroke-width="0.8"/>
<line x1="427.6" y1="8" x2="427.6" y2="154.6" stroke="#e4e4e4" stroke-width="0.8"/>
<line x1="456.6" y1="8" x2="456.6" y2="154.6" stroke="#e4e4e4" stroke-width="0.8"/>
<line x1="471.1" y1="8" x2="471.1" y2="154.6" stroke="#e4e4e4" stroke-width="0.8"/>
<line x1="338" y1="132.61" x2="478" y2="132.61" stroke="#e4e4e4" stroke-width="0.8"/>
<line x1="338" y1="110.62" x2="478" y2="110.62" stroke="#e4e4e4" stroke-width="0.8"/>
<line x1="338" y1="88.63" x2="478" y2="88.63" stroke="#e4e4e4" stroke-width="0.8"/>
<line x1="338" y1="66.64" x2="478" y2="66.64" stroke="#e4e4e4" stroke-width="0.8"/>
<line x1="338" y1="44.65" x2="478" y2="44.65" stroke="#e4e4e4" stroke-width="0.8"/>
<line x1="338" y1="22.66" x2="478" y2="22.66" stroke="#e4e4e4" stroke-width="0.8"/>
<line x1="338" y1="8" x2="478" y2="8" stroke="#333" stroke-width="1.2"/>
<line x1="338" y1="154.6" x2="478" y2="154.6" stroke="#333" stroke-width="1.2"/>
<line x1="338" y1="8" x2="338" y2="154.6" stroke="#2f5f9e" stroke-width="0.9"/>
<line x1="478" y1="8" x2="478" y2="154.6" stroke="#2c4a8c" stroke-width="0.9"/>
<line x1="340.6" y1="154.6" x2="340.6" y2="152.6" stroke="#333" stroke-width="0.8"/>
<line x1="340.6" y1="8" x2="340.6" y2="10" stroke="#333" stroke-width="0.8"/>
<line x1="369.6" y1="154.6" x2="369.6" y2="152.6" stroke="#333" stroke-width="0.8"/>
<line x1="369.6" y1="8" x2="369.6" y2="10" stroke="#333" stroke-width="0.8"/>
<line x1="398.6" y1="154.6" x2="398.6" y2="152.6" stroke="#333" stroke-width="0.8"/>
<line x1="398.6" y1="8" x2="398.6" y2="10" stroke="#333" stroke-width="0.8"/>
<line x1="427.6" y1="154.6" x2="427.6" y2="152.6" stroke="#333" stroke-width="0.8"/>
<line x1="427.6" y1="8" x2="427.6" y2="10" stroke="#333" stroke-width="0.8"/>
<line x1="456.6" y1="154.6" x2="456.6" y2="152.6" stroke="#333" stroke-width="0.8"/>
<line x1="456.6" y1="8" x2="456.6" y2="10" stroke="#333" stroke-width="0.8"/>
<line x1="471.1" y1="154.6" x2="471.1" y2="152.6" stroke="#333" stroke-width="0.8"/>
<line x1="471.1" y1="8" x2="471.1" y2="10" stroke="#333" stroke-width="0.8"/>
<text x="339.1" y="163.1" font-size="7.5" fill="#222" font-weight="bold" text-anchor="middle" font-family='"Liberation Sans", sans-serif' >1</text>
<text x="369.6" y="163.1" font-size="7.5" fill="#222" font-weight="bold" text-anchor="middle" font-family='"Liberation Sans", sans-serif' >3</text>
<text x="398.6" y="163.1" font-size="7.5" fill="#222" font-weight="bold" text-anchor="middle" font-family='"Liberation Sans", sans-serif' >5</text>
<text x="427.6" y="163.1" font-size="7.5" fill="#222" font-weight="bold" text-anchor="middle" font-family='"Liberation Sans", sans-serif' >7</text>
<text x="456.6" y="163.1" font-size="7.5" fill="#222" font-weight="bold" text-anchor="middle" font-family='"Liberation Sans", sans-serif' >9</text>
<text x="471.1" y="163.1" font-size="7.5" fill="#222" font-weight="bold" text-anchor="middle" font-family='"Liberation Sans", sans-serif' >10</text>
<text x="335.5" y="157.3" font-size="7.5" fill="#2272b5" font-weight="bold" text-anchor="end" font-family='"Liberation Sans", sans-serif' >0</text>
<text x="335.5" y="135.31" font-size="7.5" fill="#2272b5" font-weight="bold" text-anchor="end" font-family='"Liberation Sans", sans-serif' >15</text>
<text x="335.5" y="113.32" font-size="7.5" fill="#2272b5" font-weight="bold" text-anchor="end" font-family='"Liberation Sans", sans-serif' >30</text>
<text x="335.5" y="91.33" font-size="7.5" fill="#2272b5" font-weight="bold" text-anchor="end" font-family='"Liberation Sans", sans-serif' >45</text>
<text x="335.5" y="69.34" font-size="7.5" fill="#2272b5" font-weight="bold" text-anchor="end" font-family='"Liberation Sans", sans-serif' >60</text>
<text x="335.5" y="47.35" font-size="7.5" fill="#2272b5" font-weight="bold" text-anchor="end" font-family='"Liberation Sans", sans-serif' >75</text>
<text x="335.5" y="25.36" font-size="7.5" fill="#2272b5" font-weight="bold" text-anchor="end" font-family='"Liberation Sans", sans-serif' >90</text>
<text x="335.5" y="10.7" font-size="7.5" fill="#2272b5" font-weight="bold" text-anchor="end" font-family='"Liberation Sans", sans-serif' >100</text>
<text x="480.5" y="157.3" font-size="7.5" fill="#d4501c" font-weight="bold" text-anchor="start" font-family='"Liberation Sans", sans-serif' >38</text>
<text x="480.5" y="136.36" font-size="7.5" fill="#d4501c" font-weight="bold" text-anchor="start" font-family='"Liberation Sans", sans-serif' >40</text>
<text x="480.5" y="115.41" font-size="7.5" fill="#d4501c" font-weight="bold" text-anchor="start" font-family='"Liberation Sans", sans-serif' >42</text>
<text x="480.5" y="94.47" font-size="7.5" fill="#d4501c" font-weight="bold" text-anchor="start" font-family='"Liberation Sans", sans-serif' >44</text>
<text x="480.5" y="73.53" font-size="7.5" fill="#d4501c" font-weight="bold" text-anchor="start" font-family='"Liberation Sans", sans-serif' >46</text>
<text x="480.5" y="52.59" font-size="7.5" fill="#d4501c" font-weight="bold" text-anchor="start" font-family='"Liberation Sans", sans-serif' >48</text>
<text x="480.5" y="31.64" font-size="7.5" fill="#d4501c" font-weight="bold" text-anchor="start" font-family='"Liberation Sans", sans-serif' >50</text>
<text x="480.5" y="10.7" font-size="7.5" fill="#d4501c" font-weight="bold" text-anchor="start" font-family='"Liberation Sans", sans-serif' >52</text>
<path d="M340.6,127.33 L355.1,153.72 L369.6,153.72 L384.1,153.72 L398.6,153.72 L413.1,153.72 L427.6,141.26 L442.1,141.26 L456.6,141.26 L471.1,141.26" fill="none" stroke="#2473b4" stroke-width="1.5" stroke-dasharray="5 3.5"/>
<path d="M340.6,140.99 L355.1,47.06 L369.6,47.06 L384.1,47.06 L398.6,47.06 L413.1,47.06 L427.6,26.53 L442.1,26.53 L456.6,26.53 L471.1,26.53" fill="none" stroke="#d4501c" stroke-width="1.5" stroke-linejoin="round"/>
<rect x="338" y="124.73" width="5.2" height="5.2" fill="#111" stroke="#111" stroke-width="0.8"/>
<rect x="352.5" y="151.12" width="5.2" height="5.2" fill="#111" stroke="#111" stroke-width="0.8"/>
<rect x="367" y="151.12" width="5.2" height="5.2" fill="#111" stroke="#111" stroke-width="0.8"/>
<rect x="381.5" y="151.12" width="5.2" height="5.2" fill="#111" stroke="#111" stroke-width="0.8"/>
<rect x="396" y="151.12" width="5.2" height="5.2" fill="#111" stroke="#111" stroke-width="0.8"/>
<rect x="410.5" y="151.12" width="5.2" height="5.2" fill="#111" stroke="#111" stroke-width="0.8"/>
<rect x="425" y="138.66" width="5.2" height="5.2" fill="#111" stroke="#111" stroke-width="0.8"/>
<rect x="439.5" y="138.66" width="5.2" height="5.2" fill="#111" stroke="#111" stroke-width="0.8"/>
<rect x="454" y="138.66" width="5.2" height="5.2" fill="#111" stroke="#111" stroke-width="0.8"/>
<rect x="468.5" y="138.66" width="5.2" height="5.2" fill="#111" stroke="#111" stroke-width="0.8"/>
<circle cx="340.6" cy="140.99" r="3.4" fill="#0a0a0a"/>
<circle cx="355.1" cy="47.06" r="3.4" fill="#0a0a0a"/>
<circle cx="369.6" cy="47.06" r="3.4" fill="#0a0a0a"/>
<circle cx="384.1" cy="47.06" r="3.4" fill="#0a0a0a"/>
<circle cx="398.6" cy="47.06" r="3.4" fill="#0a0a0a"/>
<circle cx="413.1" cy="47.06" r="3.4" fill="#0a0a0a"/>
<circle cx="427.6" cy="26.53" r="3.4" fill="#0a0a0a"/>
<circle cx="442.1" cy="26.53" r="3.4" fill="#0a0a0a"/>
<circle cx="456.6" cy="26.53" r="3.4" fill="#0a0a0a"/>
<circle cx="471.1" cy="26.53" r="3.4" fill="#0a0a0a"/>
<text x="346.3" y="19.6" font-size="9.5" fill="#111" font-weight="bold" text-anchor="start" font-family='"Liberation Sans", sans-serif' >Al<tspan dy="3.3" font-size="0.88em">x</tspan><tspan dy="-3.3">&#8203;</tspan>Fe - Binary</text>
<text x="403" y="83" font-size="8.7" fill="#111" font-weight="bold" text-anchor="middle" font-family='"Liberation Sans", sans-serif' >Objective function</text>
<text x="403" y="92.5" font-size="8.7" fill="#111" font-weight="bold" text-anchor="middle" font-family='"Liberation Sans", sans-serif' >(strength)</text>
<text x="388" y="120" font-size="8.7" fill="#111" font-weight="bold" text-anchor="middle" font-family='"Liberation Sans", sans-serif' >Design variable</text>
<text x="388" y="129.5" font-size="8.7" fill="#111" font-weight="bold" text-anchor="middle" font-family='"Liberation Sans", sans-serif' >(element at. %)</text>
<line x1="351" y1="119" x2="360.6" y2="66" stroke="#d4501c" stroke-width="1.6"/>
<polygon points="361.8,59 363.6,68 357.2,66.8" fill="#d4501c"/>
<line x1="348" y1="133.3" x2="388.5" y2="141.2" stroke="#2473b4" stroke-width="2.2" stroke-dasharray="11 8"/>
<polygon points="395,142.6 387.3,144 388.3,138.4" fill="#2473b4"/>
<text transform="translate(321,82) rotate(-90)" font-size="11.5" fill="#2272b5" font-weight="bold" text-anchor="middle" font-family='"Liberation Sans", sans-serif'>At. % of Al</text>
<text transform="translate(503.5,84) rotate(-90)" font-size="11.5" fill="#d4501c" font-weight="bold" text-anchor="middle" font-family='"Liberation Sans", sans-serif'>UTS in MPa x 10<tspan dy="-3.5" font-size="0.85em">2</tspan><tspan dy="3.5">&#8203;</tspan></text>
<text x="410" y="172" font-size="12" fill="#111" font-weight="bold" text-anchor="middle" font-family='"Liberation Sans", sans-serif' ># Cycles of CS</text>
<text x="392.5" y="197.5" font-size="12.5" fill="#111" font-weight="bold" text-anchor="middle" font-family='"Liberation Serif", serif' >(b)</text>
<rect x="336" y="222" width="146" height="149" fill="#fff"/>
<line x1="338.8" y1="222" x2="338.8" y2="371" stroke="#e4e4e4" stroke-width="0.8"/>
<line x1="370" y1="222" x2="370" y2="371" stroke="#e4e4e4" stroke-width="0.8"/>
<line x1="401.2" y1="222" x2="401.2" y2="371" stroke="#e4e4e4" stroke-width="0.8"/>
<line x1="432.4" y1="222" x2="432.4" y2="371" stroke="#e4e4e4" stroke-width="0.8"/>
<line x1="463.6" y1="222" x2="463.6" y2="371" stroke="#e4e4e4" stroke-width="0.8"/>
<line x1="479.2" y1="222" x2="479.2" y2="371" stroke="#e4e4e4" stroke-width="0.8"/>
<line x1="336" y1="348.65" x2="482" y2="348.65" stroke="#e4e4e4" stroke-width="0.8"/>
<line x1="336" y1="326.3" x2="482" y2="326.3" stroke="#e4e4e4" stroke-width="0.8"/>
<line x1="336" y1="303.95" x2="482" y2="303.95" stroke="#e4e4e4" stroke-width="0.8"/>
<line x1="336" y1="281.6" x2="482" y2="281.6" stroke="#e4e4e4" stroke-width="0.8"/>
<line x1="336" y1="259.25" x2="482" y2="259.25" stroke="#e4e4e4" stroke-width="0.8"/>
<line x1="336" y1="236.9" x2="482" y2="236.9" stroke="#e4e4e4" stroke-width="0.8"/>
<line x1="336" y1="222" x2="482" y2="222" stroke="#333" stroke-width="1.2"/>
<line x1="336" y1="371" x2="482" y2="371" stroke="#333" stroke-width="1.2"/>
<line x1="336" y1="222" x2="336" y2="371" stroke="#2f5f9e" stroke-width="0.9"/>
<line x1="482" y1="222" x2="482" y2="371" stroke="#2c4a8c" stroke-width="0.9"/>
<line x1="338.8" y1="371" x2="338.8" y2="369" stroke="#333" stroke-width="0.8"/>
<line x1="338.8" y1="222" x2="338.8" y2="224" stroke="#333" stroke-width="0.8"/>
<line x1="370" y1="371" x2="370" y2="369" stroke="#333" stroke-width="0.8"/>
<line x1="370" y1="222" x2="370" y2="224" stroke="#333" stroke-width="0.8"/>
<line x1="401.2" y1="371" x2="401.2" y2="369" stroke="#333" stroke-width="0.8"/>
<line x1="401.2" y1="222" x2="401.2" y2="224" stroke="#333" stroke-width="0.8"/>
<line x1="432.4" y1="371" x2="432.4" y2="369" stroke="#333" stroke-width="0.8"/>
<line x1="432.4" y1="222" x2="432.4" y2="224" stroke="#333" stroke-width="0.8"/>
<line x1="463.6" y1="371" x2="463.6" y2="369" stroke="#333" stroke-width="0.8"/>
<line x1="463.6" y1="222" x2="463.6" y2="224" stroke="#333" stroke-width="0.8"/>
<line x1="479.2" y1="371" x2="479.2" y2="369" stroke="#333" stroke-width="0.8"/>
<line x1="479.2" y1="222" x2="479.2" y2="224" stroke="#333" stroke-width="0.8"/>
<text x="338.8" y="379.5" font-size="7.5" fill="#222" font-weight="bold" text-anchor="middle" font-family='"Liberation Sans", sans-serif' >1</text>
<text x="370" y="379.5" font-size="7.5" fill="#222" font-weight="bold" text-anchor="middle" font-family='"Liberation Sans", sans-serif' >3</text>
<text x="401.2" y="379.5" font-size="7.5" fill="#222" font-weight="bold" text-anchor="middle" font-family='"Liberation Sans", sans-serif' >5</text>
<text x="432.4" y="379.5" font-size="7.5" fill="#222" font-weight="bold" text-anchor="middle" font-family='"Liberation Sans", sans-serif' >7</text>
<text x="463.6" y="379.5" font-size="7.5" fill="#222" font-weight="bold" text-anchor="middle" font-family='"Liberation Sans", sans-serif' >9</text>
<text x="480.7" y="379.5" font-size="7.5" fill="#222" font-weight="bold" text-anchor="middle" font-family='"Liberation Sans", sans-serif' >10</text>
<text x="333.5" y="373.7" font-size="7.5" fill="#2272b5" font-weight="bold" text-anchor="end" font-family='"Liberation Sans", sans-serif' >0</text>
<text x="333.5" y="351.35" font-size="7.5" fill="#2272b5" font-weight="bold" text-anchor="end" font-family='"Liberation Sans", sans-serif' >15</text>
<text x="333.5" y="329" font-size="7.5" fill="#2272b5" font-weight="bold" text-anchor="end" font-family='"Liberation Sans", sans-serif' >30</text>
<text x="333.5" y="306.65" font-size="7.5" fill="#2272b5" font-weight="bold" text-anchor="end" font-family='"Liberation Sans", sans-serif' >45</text>
<text x="333.5" y="284.3" font-size="7.5" fill="#2272b5" font-weight="bold" text-anchor="end" font-family='"Liberation Sans", sans-serif' >60</text>
<text x="333.5" y="261.95" font-size="7.5" fill="#2272b5" font-weight="bold" text-anchor="end" font-family='"Liberation Sans", sans-serif' >75</text>
<text x="333.5" y="239.6" font-size="7.5" fill="#2272b5" font-weight="bold" text-anchor="end" font-family='"Liberation Sans", sans-serif' >90</text>
<text x="333.5" y="224.7" font-size="7.5" fill="#2272b5" font-weight="bold" text-anchor="end" font-family='"Liberation Sans", sans-serif' >100</text>
<text x="484.5" y="373.7" font-size="7.5" fill="#d4501c" font-weight="bold" text-anchor="start" font-family='"Liberation Sans", sans-serif' >450</text>
<text x="484.5" y="343.9" font-size="7.5" fill="#d4501c" font-weight="bold" text-anchor="start" font-family='"Liberation Sans", sans-serif' >455</text>
<text x="484.5" y="314.1" font-size="7.5" fill="#d4501c" font-weight="bold" text-anchor="start" font-family='"Liberation Sans", sans-serif' >460</text>
<text x="484.5" y="284.3" font-size="7.5" fill="#d4501c" font-weight="bold" text-anchor="start" font-family='"Liberation Sans", sans-serif' >465</text>
<text x="484.5" y="254.5" font-size="7.5" fill="#d4501c" font-weight="bold" text-anchor="start" font-family='"Liberation Sans", sans-serif' >470</text>
<text x="484.5" y="224.7" font-size="7.5" fill="#d4501c" font-weight="bold" text-anchor="start" font-family='"Liberation Sans", sans-serif' >475</text>
<path d="M338.8,330.77 L354.4,279.66 L370,279.66 L385.6,279.66 L401.2,239.88 L416.8,236.45 L432.4,236.45 L448,236.45 L463.6,236.45 L479.2,267" fill="none" stroke="#2473b4" stroke-width="1.5" stroke-dasharray="5 3.5"/>
<path d="M338.8,348.35 L354.4,276.83 L370,276.83 L385.6,276.83 L401.2,275.64 L416.8,272.06 L432.4,250.01 L448,250.01 L463.6,250.01 L479.2,248.82" fill="none" stroke="#d4501c" stroke-width="1.5" stroke-linejoin="round"/>
<rect x="336.5" y="328.47" width="4.6" height="4.6" fill="#1d2f55" stroke="#1b4f8a" stroke-width="0.8"/>
<rect x="352.1" y="277.36" width="4.6" height="4.6" fill="#1d2f55" stroke="#1b4f8a" stroke-width="0.8"/>
<rect x="367.7" y="277.36" width="4.6" height="4.6" fill="#1d2f55" stroke="#1b4f8a" stroke-width="0.8"/>
<rect x="383.3" y="277.36" width="4.6" height="4.6" fill="#1d2f55" stroke="#1b4f8a" stroke-width="0.8"/>
<rect x="398.9" y="237.58" width="4.6" height="4.6" fill="#1d2f55" stroke="#1b4f8a" stroke-width="0.8"/>
<rect x="414.5" y="234.15" width="4.6" height="4.6" fill="#1d2f55" stroke="#1b4f8a" stroke-width="0.8"/>
<rect x="430.1" y="234.15" width="4.6" height="4.6" fill="#1d2f55" stroke="#1b4f8a" stroke-width="0.8"/>
<rect x="445.7" y="234.15" width="4.6" height="4.6" fill="#1d2f55" stroke="#1b4f8a" stroke-width="0.8"/>
<rect x="461.3" y="234.15" width="4.6" height="4.6" fill="#1d2f55" stroke="#1b4f8a" stroke-width="0.8"/>
<rect x="476.9" y="264.7" width="4.6" height="4.6" fill="#1d2f55" stroke="#1b4f8a" stroke-width="0.8"/>
<circle cx="338.8" cy="348.35" r="3.4" fill="#0a0a0a"/>
<circle cx="354.4" cy="276.83" r="3.4" fill="#0a0a0a"/>
<circle cx="370" cy="276.83" r="3.4" fill="#0a0a0a"/>
<circle cx="385.6" cy="276.83" r="3.4" fill="#0a0a0a"/>
<circle cx="401.2" cy="275.64" r="3.4" fill="#0a0a0a"/>
<circle cx="416.8" cy="272.06" r="3.4" fill="#0a0a0a"/>
<circle cx="432.4" cy="250.01" r="3.4" fill="#0a0a0a"/>
<circle cx="448" cy="250.01" r="3.4" fill="#0a0a0a"/>
<circle cx="463.6" cy="250.01" r="3.4" fill="#0a0a0a"/>
<circle cx="479.2" cy="248.82" r="3.4" fill="#0a0a0a"/>
<text x="342" y="232" font-size="9.75" fill="#111" font-weight="bold" text-anchor="start" font-family='"Liberation Sans", sans-serif' >Fe<tspan dy="3.3" font-size="0.88em">x</tspan><tspan dy="-3.3">&#8203;</tspan>NiCr - Ternary</text>
<text transform="translate(321,297) rotate(-90)" font-size="11.5" fill="#2272b5" font-weight="bold" text-anchor="middle" font-family='"Liberation Sans", sans-serif'>At. % of Fe</text>
<text transform="translate(510.8,297) rotate(-90)" font-size="11.5" fill="#d4501c" font-weight="bold" text-anchor="middle" font-family='"Liberation Sans", sans-serif'>UTS in MPa x 10<tspan dy="-3.5" font-size="0.85em">2</tspan><tspan dy="3.5">&#8203;</tspan></text>
<text x="413" y="388.5" font-size="12" fill="#111" font-weight="bold" text-anchor="middle" font-family='"Liberation Sans", sans-serif' ># Cycles of CS</text>
<text x="396" y="416" font-size="12.5" fill="#111" font-weight="bold" text-anchor="middle" font-family='"Liberation Serif", serif' >(d)</text>
<rect x="338.5" y="439" width="152.1" height="148.1" fill="#fff"/>
<line x1="343.3" y1="439" x2="343.3" y2="587.1" stroke="#e4e4e4" stroke-width="0.8"/>
<line x1="371.7" y1="439" x2="371.7" y2="587.1" stroke="#e4e4e4" stroke-width="0.8"/>
<line x1="400.1" y1="439" x2="400.1" y2="587.1" stroke="#e4e4e4" stroke-width="0.8"/>
<line x1="428.5" y1="439" x2="428.5" y2="587.1" stroke="#e4e4e4" stroke-width="0.8"/>
<line x1="456.9" y1="439" x2="456.9" y2="587.1" stroke="#e4e4e4" stroke-width="0.8"/>
<line x1="485.3" y1="439" x2="485.3" y2="587.1" stroke="#e4e4e4" stroke-width="0.8"/>
<line x1="338.5" y1="564.88" x2="490.6" y2="564.88" stroke="#e4e4e4" stroke-width="0.8"/>
<line x1="338.5" y1="542.67" x2="490.6" y2="542.67" stroke="#e4e4e4" stroke-width="0.8"/>
<line x1="338.5" y1="520.46" x2="490.6" y2="520.46" stroke="#e4e4e4" stroke-width="0.8"/>
<line x1="338.5" y1="498.24" x2="490.6" y2="498.24" stroke="#e4e4e4" stroke-width="0.8"/>
<line x1="338.5" y1="476.02" x2="490.6" y2="476.02" stroke="#e4e4e4" stroke-width="0.8"/>
<line x1="338.5" y1="453.81" x2="490.6" y2="453.81" stroke="#e4e4e4" stroke-width="0.8"/>
<line x1="338.5" y1="439" x2="490.6" y2="439" stroke="#333" stroke-width="1.2"/>
<line x1="338.5" y1="587.1" x2="490.6" y2="587.1" stroke="#333" stroke-width="1.2"/>
<line x1="338.5" y1="439" x2="338.5" y2="587.1" stroke="#2f5f9e" stroke-width="0.9"/>
<line x1="490.6" y1="439" x2="490.6" y2="587.1" stroke="#2c4a8c" stroke-width="0.9"/>
<line x1="343.3" y1="587.1" x2="343.3" y2="585.1" stroke="#333" stroke-width="0.8"/>
<line x1="343.3" y1="439" x2="343.3" y2="441" stroke="#333" stroke-width="0.8"/>
<line x1="371.7" y1="587.1" x2="371.7" y2="585.1" stroke="#333" stroke-width="0.8"/>
<line x1="371.7" y1="439" x2="371.7" y2="441" stroke="#333" stroke-width="0.8"/>
<line x1="400.1" y1="587.1" x2="400.1" y2="585.1" stroke="#333" stroke-width="0.8"/>
<line x1="400.1" y1="439" x2="400.1" y2="441" stroke="#333" stroke-width="0.8"/>
<line x1="428.5" y1="587.1" x2="428.5" y2="585.1" stroke="#333" stroke-width="0.8"/>
<line x1="428.5" y1="439" x2="428.5" y2="441" stroke="#333" stroke-width="0.8"/>
<line x1="456.9" y1="587.1" x2="456.9" y2="585.1" stroke="#333" stroke-width="0.8"/>
<line x1="456.9" y1="439" x2="456.9" y2="441" stroke="#333" stroke-width="0.8"/>
<line x1="485.3" y1="587.1" x2="485.3" y2="585.1" stroke="#333" stroke-width="0.8"/>
<line x1="485.3" y1="439" x2="485.3" y2="441" stroke="#333" stroke-width="0.8"/>
<text x="343.3" y="595.6" font-size="7.5" fill="#222" font-weight="bold" text-anchor="middle" font-family='"Liberation Sans", sans-serif' >1</text>
<text x="371.7" y="595.6" font-size="7.5" fill="#222" font-weight="bold" text-anchor="middle" font-family='"Liberation Sans", sans-serif' >2</text>
<text x="400.1" y="595.6" font-size="7.5" fill="#222" font-weight="bold" text-anchor="middle" font-family='"Liberation Sans", sans-serif' >3</text>
<text x="428.5" y="595.6" font-size="7.5" fill="#222" font-weight="bold" text-anchor="middle" font-family='"Liberation Sans", sans-serif' >4</text>
<text x="456.9" y="595.6" font-size="7.5" fill="#222" font-weight="bold" text-anchor="middle" font-family='"Liberation Sans", sans-serif' >5</text>
<text x="485.3" y="595.6" font-size="7.5" fill="#222" font-weight="bold" text-anchor="middle" font-family='"Liberation Sans", sans-serif' >6</text>
<text x="336" y="589.8" font-size="7.5" fill="#2272b5" font-weight="bold" text-anchor="end" font-family='"Liberation Sans", sans-serif' >0</text>
<text x="336" y="567.59" font-size="7.5" fill="#2272b5" font-weight="bold" text-anchor="end" font-family='"Liberation Sans", sans-serif' >15</text>
<text x="336" y="545.37" font-size="7.5" fill="#2272b5" font-weight="bold" text-anchor="end" font-family='"Liberation Sans", sans-serif' >30</text>
<text x="336" y="523.16" font-size="7.5" fill="#2272b5" font-weight="bold" text-anchor="end" font-family='"Liberation Sans", sans-serif' >45</text>
<text x="336" y="500.94" font-size="7.5" fill="#2272b5" font-weight="bold" text-anchor="end" font-family='"Liberation Sans", sans-serif' >60</text>
<text x="336" y="478.72" font-size="7.5" fill="#2272b5" font-weight="bold" text-anchor="end" font-family='"Liberation Sans", sans-serif' >75</text>
<text x="336" y="456.51" font-size="7.5" fill="#2272b5" font-weight="bold" text-anchor="end" font-family='"Liberation Sans", sans-serif' >90</text>
<text x="336" y="441.7" font-size="7.5" fill="#2272b5" font-weight="bold" text-anchor="end" font-family='"Liberation Sans", sans-serif' >100</text>
<text x="493.1" y="589.8" font-size="6.5" fill="#d4501c" font-weight="normal" text-anchor="start" font-family='"Liberation Sans", sans-serif' >250</text>
<text x="493.1" y="552.78" font-size="6.5" fill="#d4501c" font-weight="normal" text-anchor="start" font-family='"Liberation Sans", sans-serif' >300</text>
<text x="493.1" y="515.75" font-size="6.5" fill="#d4501c" font-weight="normal" text-anchor="start" font-family='"Liberation Sans", sans-serif' >350</text>
<text x="493.1" y="478.72" font-size="6.5" fill="#d4501c" font-weight="normal" text-anchor="start" font-family='"Liberation Sans", sans-serif' >400</text>
<text x="493.1" y="441.7" font-size="6.5" fill="#d4501c" font-weight="normal" text-anchor="start" font-family='"Liberation Sans", sans-serif' >450</text>
<line x1="338.5" y1="578" x2="372.5" y2="535.8" stroke="#e9b93a" stroke-width="1.7" stroke-dasharray="5.5 3.5"/>
<line x1="338.5" y1="585.8" x2="406" y2="565.6" stroke="#3ddc3d" stroke-width="1.8" stroke-dasharray="7 4"/>
<path d="M343.3,573.33 L371.7,586.21 L400.1,586.21 L428.5,586.21 L456.9,586.21 L485.3,586.21" fill="none" stroke="#2473b4" stroke-width="1.5" stroke-dasharray="6 4"/>
<path d="M343.3,552.67 L371.7,474.54 L400.1,467.14 L428.5,467.14 L456.9,467.14 L485.3,467.14" fill="none" stroke="#d4501c" stroke-width="1.5" stroke-linejoin="round"/>
<rect x="340.7" y="570.73" width="5.2" height="5.2" fill="#111" stroke="#111" stroke-width="0.8"/>
<rect x="369.1" y="583.61" width="5.2" height="5.2" fill="#111" stroke="#111" stroke-width="0.8"/>
<rect x="397.5" y="583.61" width="5.2" height="5.2" fill="#111" stroke="#111" stroke-width="0.8"/>
<rect x="425.9" y="583.61" width="5.2" height="5.2" fill="#111" stroke="#111" stroke-width="0.8"/>
<rect x="454.3" y="583.61" width="5.2" height="5.2" fill="#111" stroke="#111" stroke-width="0.8"/>
<rect x="482.7" y="583.61" width="5.2" height="5.2" fill="#111" stroke="#111" stroke-width="0.8"/>
<circle cx="343.3" cy="552.67" r="3.2" fill="#0a0a0a"/>
<circle cx="371.7" cy="474.54" r="3.2" fill="#0a0a0a"/>
<circle cx="400.1" cy="467.14" r="3.2" fill="#0a0a0a"/>
<circle cx="428.5" cy="467.14" r="3.2" fill="#0a0a0a"/>
<circle cx="456.9" cy="467.14" r="3.2" fill="#0a0a0a"/>
<circle cx="485.3" cy="467.14" r="3.2" fill="#0a0a0a"/>
<text x="344.8" y="449.9" font-size="9.8" fill="#111" font-weight="bold" text-anchor="start" font-family='"Liberation Sans", sans-serif' >Al<tspan dy="3.3" font-size="0.88em">x</tspan><tspan dy="-3.3">&#8203;</tspan>CrCoFeNi - Quinary</text>
<text x="368.5" y="513.3" font-size="9" fill="#111" font-weight="bold" text-anchor="start" font-family='"Liberation Sans", sans-serif' >Exp.:Al<tspan dy="3.4" font-size="0.85em">6.4</tspan><tspan dy="-3.4">&#8203;</tspan>CrCoFeNi<tspan dy="-4.2" font-size="0.9em">52</tspan><tspan dy="4.2">&#8203;</tspan></text>
<text x="368.5" y="527" font-size="9" fill="#111" font-weight="bold" text-anchor="start" font-family='"Liberation Sans", sans-serif' >UTS: 620 MPa</text>
<text x="394" y="546" font-size="9" fill="#111" font-weight="bold" text-anchor="start" font-family='"Liberation Sans", sans-serif' >Exp.:Al<tspan dy="3.4" font-size="0.85em">2.2</tspan><tspan dy="-3.4">&#8203;</tspan>CrCoFeNi<tspan dy="-4.2" font-size="0.9em">52</tspan><tspan dy="4.2">&#8203;</tspan></text>
<text x="394" y="557.8" font-size="9" fill="#111" font-weight="bold" text-anchor="start" font-family='"Liberation Sans", sans-serif' >UTS: 635 MPa</text>
<text transform="translate(321,514) rotate(-90)" font-size="11.5" fill="#2272b5" font-weight="bold" text-anchor="middle" font-family='"Liberation Sans", sans-serif'>At. % of Al</text>
<text transform="translate(517.8,513.5) rotate(-90)" font-size="11.8" fill="#d4501c" font-weight="bold" text-anchor="middle" font-family='"Liberation Sans", sans-serif'>UTS in MPa x 10<tspan dy="-3.5" font-size="0.85em">2</tspan><tspan dy="3.5">&#8203;</tspan></text>
<text x="413.5" y="606" font-size="12" fill="#111" font-weight="bold" text-anchor="middle" font-family='"Liberation Sans", sans-serif' ># Cycles of CS</text>
<text x="397.5" y="634.5" font-size="12.5" fill="#111" font-weight="bold" text-anchor="middle" font-family='"Liberation Serif", serif' >(f)</text>
<text x="145" y="194" font-size="12.5" fill="#111" font-weight="bold" text-anchor="middle" font-family='"Liberation Serif", serif' >(a)</text>
<text x="146" y="384.5" font-size="12.5" fill="#111" font-weight="bold" text-anchor="middle" font-family='"Liberation Serif", serif' >(c)</text>
<text x="146" y="608" font-size="12.5" fill="#111" font-weight="bold" text-anchor="middle" font-family='"Liberation Serif", serif' >(e)</text>
</svg></body></html>
